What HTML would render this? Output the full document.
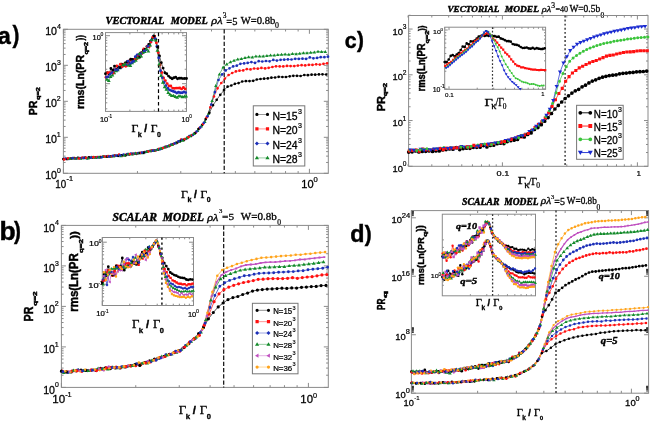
<!DOCTYPE html>
<html><head><meta charset="utf-8"><style>
html,body{margin:0;padding:0;background:#fff;overflow:hidden}
svg{display:block;will-change:transform}
</style></head><body>
<svg width="650" height="421" viewBox="0 0 650 421">
<rect width="650" height="421" fill="#fff"/>
<text x="-2.20" y="44.27" font-family="&quot;Liberation Sans&quot;, sans-serif" font-size="23.45" font-weight="bold" font-style="normal" fill="#000" stroke="#000" stroke-width="0.45">a</text>
<text x="12.40" y="43.45" font-family="&quot;Liberation Sans&quot;, sans-serif" font-size="23.10" font-weight="bold" font-style="normal" fill="#000" textLength="6.90" lengthAdjust="spacingAndGlyphs" stroke="#000" stroke-width="0.45">)</text>
<text x="105.57" y="24.44" font-family="&quot;Liberation Serif&quot;, serif" font-size="10.96" font-weight="bold" font-style="italic" fill="#000" textLength="58.90" lengthAdjust="spacingAndGlyphs" stroke="#000" stroke-width="0.45">VECTORIAL</text>
<text x="170.85" y="24.49" font-family="&quot;Liberation Serif&quot;, serif" font-size="11.04" font-weight="bold" font-style="italic" fill="#000" textLength="37.02" lengthAdjust="spacingAndGlyphs" stroke="#000" stroke-width="0.45">MODEL</text>
<text x="211.31" y="24.33" font-family="&quot;Liberation Serif&quot;, serif" font-size="10.54" font-weight="normal" font-style="italic" fill="#000" textLength="11.34" lengthAdjust="spacingAndGlyphs" stroke="#000" stroke-width="0.30">ρλ</text>
<text x="222.83" y="18.23" font-family="&quot;Liberation Serif&quot;, serif" font-size="7.46" font-weight="normal" font-style="normal" fill="#000" stroke="#000" stroke-width="0.22">3</text>
<text x="226.28" y="24.59" font-family="&quot;Liberation Serif&quot;, serif" font-size="11.28" font-weight="normal" font-style="normal" fill="#000" textLength="11.13" lengthAdjust="spacingAndGlyphs" stroke="#000" stroke-width="0.30">=5</text>
<text x="240.80" y="23.84" font-family="&quot;Liberation Serif&quot;, serif" font-size="10.42" font-weight="normal" font-style="normal" fill="#000" textLength="34.50" lengthAdjust="spacingAndGlyphs" stroke="#000" stroke-width="0.30">W=0.8b</text>
<text x="274.99" y="27.82" font-family="&quot;Liberation Serif&quot;, serif" font-size="7.85" font-weight="normal" font-style="normal" fill="#000" stroke="#000" stroke-width="0.24">0</text>
<path d="M63.40 173.30v-4.5M63.40 29.30v4.5M309.40 173.30v-4.5M309.40 29.30v4.5M137.45 173.30v-2.2M137.45 29.30v2.2M180.77 173.30v-2.2M180.77 29.30v2.2M211.51 173.30v-2.2M211.51 29.30v2.2M235.35 173.30v-2.2M235.35 29.30v2.2M254.83 173.30v-2.2M254.83 29.30v2.2M271.29 173.30v-2.2M271.29 29.30v2.2M285.56 173.30v-2.2M285.56 29.30v2.2M298.14 173.30v-2.2M298.14 29.30v2.2M63.40 173.30h4.5M328.30 173.30h-4.5M63.40 137.30h4.5M328.30 137.30h-4.5M63.40 101.30h4.5M328.30 101.30h-4.5M63.40 65.30h4.5M328.30 65.30h-4.5M63.40 29.30h4.5M328.30 29.30h-4.5M63.40 162.46h2.2M328.30 162.46h-2.2M63.40 156.12h2.2M328.30 156.12h-2.2M63.40 151.63h2.2M328.30 151.63h-2.2M63.40 148.14h2.2M328.30 148.14h-2.2M63.40 145.29h2.2M328.30 145.29h-2.2M63.40 142.88h2.2M328.30 142.88h-2.2M63.40 140.79h2.2M328.30 140.79h-2.2M63.40 138.95h2.2M328.30 138.95h-2.2M63.40 126.46h2.2M328.30 126.46h-2.2M63.40 120.12h2.2M328.30 120.12h-2.2M63.40 115.63h2.2M328.30 115.63h-2.2M63.40 112.14h2.2M328.30 112.14h-2.2M63.40 109.29h2.2M328.30 109.29h-2.2M63.40 106.88h2.2M328.30 106.88h-2.2M63.40 104.79h2.2M328.30 104.79h-2.2M63.40 102.95h2.2M328.30 102.95h-2.2M63.40 90.46h2.2M328.30 90.46h-2.2M63.40 84.12h2.2M328.30 84.12h-2.2M63.40 79.63h2.2M328.30 79.63h-2.2M63.40 76.14h2.2M328.30 76.14h-2.2M63.40 73.29h2.2M328.30 73.29h-2.2M63.40 70.88h2.2M328.30 70.88h-2.2M63.40 68.79h2.2M328.30 68.79h-2.2M63.40 66.95h2.2M328.30 66.95h-2.2M63.40 54.46h2.2M328.30 54.46h-2.2M63.40 48.12h2.2M328.30 48.12h-2.2M63.40 43.63h2.2M328.30 43.63h-2.2M63.40 40.14h2.2M328.30 40.14h-2.2M63.40 37.29h2.2M328.30 37.29h-2.2M63.40 34.88h2.2M328.30 34.88h-2.2M63.40 32.79h2.2M328.30 32.79h-2.2M63.40 30.95h2.2M328.30 30.95h-2.2" stroke="#8a8a8a" stroke-width="1" fill="none"/>
<rect x="63.40" y="29.30" width="264.90" height="144.00" stroke="#8a8a8a" stroke-width="1" fill="none"/>
<text x="45.20" y="179.49" font-family="&quot;Liberation Sans&quot;, sans-serif" font-size="11.41" font-weight="normal" font-style="normal" fill="#000" textLength="11.85" lengthAdjust="spacingAndGlyphs" stroke="#000" stroke-width="0.30">10</text>
<text x="56.92" y="172.93" font-family="&quot;Liberation Sans&quot;, sans-serif" font-size="6.90" font-weight="normal" font-style="normal" fill="#000" stroke="#000" stroke-width="0.21">0</text>
<text x="45.20" y="143.49" font-family="&quot;Liberation Sans&quot;, sans-serif" font-size="11.41" font-weight="normal" font-style="normal" fill="#000" textLength="11.85" lengthAdjust="spacingAndGlyphs" stroke="#000" stroke-width="0.30">10</text>
<text x="56.67" y="137.00" font-family="&quot;Liberation Sans&quot;, sans-serif" font-size="7.10" font-weight="normal" font-style="normal" fill="#000" stroke="#000" stroke-width="0.21">1</text>
<text x="45.20" y="107.49" font-family="&quot;Liberation Sans&quot;, sans-serif" font-size="11.41" font-weight="normal" font-style="normal" fill="#000" textLength="11.85" lengthAdjust="spacingAndGlyphs" stroke="#000" stroke-width="0.30">10</text>
<text x="56.85" y="101.00" font-family="&quot;Liberation Sans&quot;, sans-serif" font-size="7.00" font-weight="normal" font-style="normal" fill="#000" stroke="#000" stroke-width="0.21">2</text>
<text x="45.20" y="71.49" font-family="&quot;Liberation Sans&quot;, sans-serif" font-size="11.41" font-weight="normal" font-style="normal" fill="#000" textLength="11.85" lengthAdjust="spacingAndGlyphs" stroke="#000" stroke-width="0.30">10</text>
<text x="56.92" y="64.93" font-family="&quot;Liberation Sans&quot;, sans-serif" font-size="6.90" font-weight="normal" font-style="normal" fill="#000" stroke="#000" stroke-width="0.21">3</text>
<text x="45.20" y="35.49" font-family="&quot;Liberation Sans&quot;, sans-serif" font-size="11.41" font-weight="normal" font-style="normal" fill="#000" textLength="11.85" lengthAdjust="spacingAndGlyphs" stroke="#000" stroke-width="0.30">10</text>
<text x="57.02" y="29.00" font-family="&quot;Liberation Sans&quot;, sans-serif" font-size="7.10" font-weight="normal" font-style="normal" fill="#000" stroke="#000" stroke-width="0.21">4</text>
<text x="55.27" y="187.79" font-family="&quot;Liberation Sans&quot;, sans-serif" font-size="11.13" font-weight="normal" font-style="normal" fill="#000" textLength="10.84" lengthAdjust="spacingAndGlyphs" stroke="#000" stroke-width="0.30">10</text>
<text x="66.47" y="181.40" font-family="&quot;Liberation Sans&quot;, sans-serif" font-size="7.25" font-weight="normal" font-style="normal" fill="#000" stroke="#000" stroke-width="0.22">-1</text>
<text x="301.27" y="187.69" font-family="&quot;Liberation Sans&quot;, sans-serif" font-size="11.27" font-weight="normal" font-style="normal" fill="#000" textLength="12.30" lengthAdjust="spacingAndGlyphs" stroke="#000" stroke-width="0.30">10</text>
<text x="313.40" y="181.52" font-family="&quot;Liberation Sans&quot;, sans-serif" font-size="7.61" font-weight="normal" font-style="normal" fill="#000" stroke="#000" stroke-width="0.23">0</text>
<text transform="translate(36.60,115.17) rotate(-90)" font-family="&quot;Liberation Sans&quot;, sans-serif" font-size="11.01" font-weight="bold" font-style="normal" fill="#000" textLength="14.43" lengthAdjust="spacingAndGlyphs" stroke="#000" stroke-width="0.45">PR</text>
<text transform="translate(39.97,99.89) rotate(-90)" font-family="&quot;Liberation Sans&quot;, sans-serif" font-size="5.38" font-weight="bold" font-style="normal" fill="#000" textLength="12.79" lengthAdjust="spacingAndGlyphs" stroke="#000" stroke-width="0.45">q=2</text>
<text x="181.14" y="197.80" font-family="&quot;Liberation Serif&quot;, serif" font-size="10.99" font-weight="normal" font-style="normal" fill="#000" textLength="6.85" lengthAdjust="spacingAndGlyphs" stroke="#000" stroke-width="0.30">Γ</text>
<text x="187.40" y="202.20" font-family="&quot;Liberation Sans&quot;, sans-serif" font-size="7.17" font-weight="bold" font-style="normal" fill="#000" stroke="#000" stroke-width="0.32">k</text>
<text x="194.00" y="197.79" font-family="&quot;Liberation Sans&quot;, sans-serif" font-size="10.34" font-weight="bold" font-style="normal" fill="#000" stroke="#000" stroke-width="0.45">/</text>
<text x="200.45" y="197.80" font-family="&quot;Liberation Serif&quot;, serif" font-size="10.99" font-weight="normal" font-style="normal" fill="#000" textLength="6.74" lengthAdjust="spacingAndGlyphs" stroke="#000" stroke-width="0.30">Γ</text>
<text x="206.82" y="202.43" font-family="&quot;Liberation Sans&quot;, sans-serif" font-size="6.90" font-weight="bold" font-style="normal" fill="#000" stroke="#000" stroke-width="0.31">0</text>
<line x1="224.20" y1="29.30" x2="224.20" y2="173.30" stroke="#000" stroke-width="1.15" stroke-dasharray="4.3 1.9"/>
<path d="M63.4 159.1 L67.0 159.1 L70.7 158.5 L74.3 158.2 L78.0 157.9 L81.6 158.1 L85.3 157.6 L88.9 157.3 L92.6 157.6 L96.2 157.4 L99.9 157.3 L103.5 156.6 L107.2 156.6 L110.8 156.3 L114.5 155.5 L118.1 155.8 L121.8 155.3 L125.4 155.5 L129.1 154.4 L132.7 153.9 L136.4 153.8 L140.0 153.0 L143.7 152.7 L147.3 151.6 L151.0 151.1 L154.6 150.6 L158.3 149.7 L161.9 148.5 L165.6 146.9 L169.2 145.9 L172.9 144.3 L176.5 142.9 L180.2 141.2 L183.8 139.9 L187.5 137.8 L191.1 135.8 L194.8 133.3 L198.4 129.2 L202.1 125.1 L205.7 119.2 L209.4 112.8 L213.0 105.2 L216.7 99.8 L220.3 94.8 L224.0 90.2 L227.6 86.7 L231.3 85.5 L234.9 83.8 L238.6 83.1 L242.2 81.5 L245.9 81.1 L249.5 81.1 L253.2 80.8 L256.8 79.5 L260.5 79.0 L264.1 78.7 L267.8 78.4 L271.4 77.7 L275.1 77.5 L278.7 76.8 L282.4 77.0 L286.0 77.0 L289.7 76.3 L293.3 75.8 L297.0 75.8 L300.6 76.0 L304.3 75.0 L307.9 75.2 L311.6 74.7 L315.2 74.7 L318.9 74.4 L322.5 74.3 L326.2 74.5" stroke="#000000" stroke-width="0.6" fill="none" opacity="1.0"/>
<path d="M64.3 159.4 L68.0 158.4 L71.6 158.6 L75.3 158.4 L78.9 158.5 L82.6 157.6 L86.2 157.8 L89.9 157.5 L93.5 157.2 L97.2 157.0 L100.8 156.9 L104.5 156.7 L108.1 156.2 L111.8 156.3 L115.4 155.7 L119.1 154.5 L122.7 155.5 L126.4 154.6 L130.0 154.0 L133.7 153.9 L137.3 153.4 L141.0 152.8 L144.6 152.0 L148.3 151.6 L151.9 150.4 L155.6 150.5 L159.2 148.8 L162.9 148.1 L166.5 146.9 L170.2 145.5 L173.8 143.8 L177.5 142.5 L181.1 139.7 L184.8 139.1 L188.4 137.2 L192.1 135.0 L195.7 132.7 L199.4 128.2 L203.0 124.0 L206.7 117.3 L210.3 107.3 L214.0 96.5 L217.6 88.3 L221.3 83.0 L224.9 78.5 L228.6 75.0 L232.2 73.0 L235.9 71.4 L239.5 70.7 L243.2 70.4 L246.8 69.1 L250.5 69.4 L254.1 68.5 L257.8 68.7 L261.4 67.9 L265.1 68.4 L268.7 67.8 L272.4 67.0 L276.0 66.3 L279.7 66.4 L283.3 66.4 L287.0 65.9 L290.6 66.1 L294.3 66.1 L297.9 65.6 L301.6 65.2 L305.2 65.4 L308.9 64.8 L312.5 64.9 L316.2 64.3 L319.8 64.6 L323.5 63.8 L327.1 63.3" stroke="#ff1010" stroke-width="0.6" fill="none" opacity="1.0"/>
<path d="M65.2 158.7 L68.9 158.9 L72.5 158.2 L76.2 158.6 L79.8 158.1 L83.5 157.9 L87.1 158.4 L90.8 157.7 L94.4 157.4 L98.1 157.5 L101.7 157.3 L105.4 156.7 L109.0 156.6 L112.7 155.8 L116.3 155.7 L120.0 155.3 L123.6 154.6 L127.3 154.1 L130.9 153.7 L134.6 153.6 L138.2 153.2 L141.9 152.6 L145.5 152.1 L149.2 151.0 L152.8 150.7 L156.5 150.0 L160.1 149.2 L163.8 147.6 L167.4 146.4 L171.1 144.5 L174.7 143.4 L178.4 141.3 L182.0 139.9 L185.7 139.0 L189.3 136.2 L193.0 134.8 L196.6 131.5 L200.3 127.4 L203.9 122.8 L207.6 116.2 L211.2 104.5 L214.9 92.2 L218.5 80.0 L222.2 74.4 L225.8 70.4 L229.5 68.3 L233.1 66.4 L236.8 65.7 L240.4 63.8 L244.1 63.4 L247.7 62.9 L251.4 62.1 L255.0 62.9 L258.7 61.2 L262.3 61.5 L266.0 61.0 L269.6 61.3 L273.3 59.9 L276.9 60.6 L280.6 59.8 L284.2 59.7 L287.9 59.4 L291.5 59.5 L295.2 58.8 L298.8 58.9 L302.5 58.7 L306.1 58.9 L309.8 57.4 L313.4 58.3 L317.1 57.9 L320.7 57.2 L324.4 57.2 L328.0 56.7" stroke="#1c2fb8" stroke-width="0.6" fill="none" opacity="1.0"/>
<path d="M66.1 158.7 L69.8 158.7 L73.4 158.3 L77.1 158.4 L80.7 158.4 L84.4 158.1 L88.0 158.3 L91.7 157.3 L95.3 157.4 L99.0 157.0 L102.6 156.7 L106.3 156.6 L109.9 156.4 L113.6 156.2 L117.2 155.8 L120.9 156.0 L124.5 155.2 L128.2 154.0 L131.8 154.1 L135.5 153.4 L139.1 152.9 L142.8 152.9 L146.4 151.9 L150.1 150.7 L153.7 150.6 L157.4 149.6 L161.0 148.4 L164.7 147.3 L168.3 146.0 L172.0 144.7 L175.6 143.0 L179.3 141.6 L182.9 140.5 L186.6 138.0 L190.2 136.1 L193.9 133.8 L197.5 130.8 L201.2 126.2 L204.8 121.7 L208.5 113.5 L212.1 100.7 L215.8 85.7 L219.4 74.3 L223.1 67.4 L226.7 64.2 L230.4 62.1 L234.0 60.5 L237.7 59.3 L241.3 58.8 L245.0 57.8 L248.6 57.1 L252.3 57.2 L255.9 56.3 L259.6 56.3 L263.2 56.2 L266.9 55.8 L270.5 55.4 L274.2 55.4 L277.8 54.9 L281.5 54.6 L285.1 54.2 L288.8 54.6 L292.4 53.7 L296.1 53.9 L299.7 53.4 L303.4 53.0 L307.0 53.0 L310.7 52.6 L314.3 52.3 L318.0 51.5 L321.6 51.7 L325.3 51.7" stroke="#138a2a" stroke-width="0.6" fill="none" opacity="1.0"/>
<path d="M110.8 156.3h0M191.1 135.8h0M136.4 153.8h0M96.2 157.4h0M158.3 149.7h0M132.7 153.9h0M92.6 157.6h0M63.4 159.1h0M205.7 119.2h0" stroke="#000000" stroke-width="2.7" stroke-linecap="round" fill="none"/>
<path d="M177.5 142.5h0M122.7 155.5h0M181.1 139.7h0" stroke="#ff1010" stroke-width="2.7" stroke-linecap="round" fill="none"/>
<path d="M151.0 151.1h0M180.2 141.2h0M161.9 148.5h0M121.8 155.3h0M176.5 142.9h0M172.9 144.3h0M74.3 158.2h0" stroke="#000000" stroke-width="2.7" stroke-linecap="round" fill="none"/>
<path d="M71.6 158.6h0" stroke="#ff1010" stroke-width="2.7" stroke-linecap="round" fill="none"/>
<path d="M187.5 137.8h0" stroke="#000000" stroke-width="2.7" stroke-linecap="round" fill="none"/>
<path d="M199.4 128.2h0" stroke="#ff1010" stroke-width="2.7" stroke-linecap="round" fill="none"/>
<path d="M105.4 156.7h0" stroke="#1c2fb8" stroke-width="2.7" stroke-linecap="round" fill="none"/>
<path d="M137.3 153.4h0" stroke="#ff1010" stroke-width="2.7" stroke-linecap="round" fill="none"/>
<path d="M182.0 139.9h0" stroke="#1c2fb8" stroke-width="2.7" stroke-linecap="round" fill="none"/>
<path d="M147.3 151.6h0" stroke="#000000" stroke-width="2.7" stroke-linecap="round" fill="none"/>
<path d="M138.2 153.2h0" stroke="#1c2fb8" stroke-width="2.7" stroke-linecap="round" fill="none"/>
<path d="M126.4 154.6h0" stroke="#ff1010" stroke-width="2.7" stroke-linecap="round" fill="none"/>
<path d="M154.6 150.6h0M103.5 156.6h0M165.6 146.9h0M114.5 155.5h0M81.6 158.1h0M183.8 139.9h0" stroke="#000000" stroke-width="2.7" stroke-linecap="round" fill="none"/>
<path d="M100.8 156.9h0" stroke="#ff1010" stroke-width="2.7" stroke-linecap="round" fill="none"/>
<path d="M78.0 157.9h0M169.2 145.9h0" stroke="#000000" stroke-width="2.7" stroke-linecap="round" fill="none"/>
<path d="M75.3 158.4h0" stroke="#ff1010" stroke-width="2.7" stroke-linecap="round" fill="none"/>
<path d="M189.3 136.2h0" stroke="#1c2fb8" stroke-width="2.7" stroke-linecap="round" fill="none"/>
<path d="M84.4 156.3l1.8 3.0h-3.5zM80.7 156.7l1.8 3.0h-3.5zM179.3 139.8l1.8 3.0h-3.5zM175.6 141.2l1.8 3.0h-3.5zM139.1 151.2l1.8 3.0h-3.5z" fill="#138a2a"/>
<path d="M149.2 151.0h0" stroke="#1c2fb8" stroke-width="2.7" stroke-linecap="round" fill="none"/>
<path d="M151.9 150.4h0" stroke="#ff1010" stroke-width="2.7" stroke-linecap="round" fill="none"/>
<path d="M140.0 153.0h0M198.4 129.2h0" stroke="#000000" stroke-width="2.7" stroke-linecap="round" fill="none"/>
<path d="M170.2 145.5h0M195.7 132.7h0" stroke="#ff1010" stroke-width="2.7" stroke-linecap="round" fill="none"/>
<path d="M185.7 139.0h0M76.2 158.6h0" stroke="#1c2fb8" stroke-width="2.7" stroke-linecap="round" fill="none"/>
<path d="M106.3 154.9l1.8 3.0h-3.5z" fill="#138a2a"/>
<path d="M133.7 153.9h0" stroke="#ff1010" stroke-width="2.7" stroke-linecap="round" fill="none"/>
<path d="M77.1 156.6l1.8 3.0h-3.5z" fill="#138a2a"/>
<path d="M89.9 157.5h0" stroke="#ff1010" stroke-width="2.7" stroke-linecap="round" fill="none"/>
<path d="M94.4 157.4h0" stroke="#1c2fb8" stroke-width="2.7" stroke-linecap="round" fill="none"/>
<path d="M155.6 150.5h0" stroke="#ff1010" stroke-width="2.7" stroke-linecap="round" fill="none"/>
<path d="M153.7 148.8l1.8 3.0h-3.5zM95.3 155.7l1.8 3.0h-3.5z" fill="#138a2a"/>
<path d="M202.1 125.1h0" stroke="#000000" stroke-width="2.7" stroke-linecap="round" fill="none"/>
<path d="M182.9 138.8l1.8 3.0h-3.5z" fill="#138a2a"/>
<path d="M85.3 157.6h0" stroke="#000000" stroke-width="2.7" stroke-linecap="round" fill="none"/>
<path d="M173.8 143.8h0" stroke="#ff1010" stroke-width="2.7" stroke-linecap="round" fill="none"/>
<path d="M109.9 154.7l1.8 3.0h-3.5zM190.2 134.3l1.8 3.0h-3.5zM117.2 154.1l1.8 3.0h-3.5z" fill="#138a2a"/>
<path d="M203.0 124.0h0M115.4 155.7h0M159.2 148.8h0" stroke="#ff1010" stroke-width="2.7" stroke-linecap="round" fill="none"/>
<path d="M163.8 147.6h0" stroke="#1c2fb8" stroke-width="2.7" stroke-linecap="round" fill="none"/>
<path d="M166.5 146.9h0" stroke="#ff1010" stroke-width="2.7" stroke-linecap="round" fill="none"/>
<path d="M150.1 148.9l1.8 3.0h-3.5z" fill="#138a2a"/>
<path d="M160.1 149.2h0" stroke="#1c2fb8" stroke-width="2.7" stroke-linecap="round" fill="none"/>
<path d="M164.7 145.5l1.8 3.0h-3.5z" fill="#138a2a"/>
<path d="M141.0 152.8h0" stroke="#ff1010" stroke-width="2.7" stroke-linecap="round" fill="none"/>
<path d="M204.8 120.0l1.8 3.0h-3.5z" fill="#138a2a"/>
<path d="M118.1 155.8h0" stroke="#000000" stroke-width="2.7" stroke-linecap="round" fill="none"/>
<path d="M91.7 155.6l1.8 3.0h-3.5z" fill="#138a2a"/>
<path d="M104.5 156.7h0" stroke="#ff1010" stroke-width="2.7" stroke-linecap="round" fill="none"/>
<path d="M66.1 156.9l1.8 3.0h-3.5z" fill="#138a2a"/>
<path d="M119.1 154.5h0" stroke="#ff1010" stroke-width="2.7" stroke-linecap="round" fill="none"/>
<path d="M134.6 153.6h0" stroke="#1c2fb8" stroke-width="2.7" stroke-linecap="round" fill="none"/>
<path d="M192.1 135.0h0" stroke="#ff1010" stroke-width="2.7" stroke-linecap="round" fill="none"/>
<path d="M107.2 156.6h0M70.7 158.5h0" stroke="#000000" stroke-width="2.7" stroke-linecap="round" fill="none"/>
<path d="M120.9 154.2l1.8 3.0h-3.5z" fill="#138a2a"/>
<path d="M88.9 157.3h0" stroke="#000000" stroke-width="2.7" stroke-linecap="round" fill="none"/>
<path d="M178.4 141.3h0M90.8 157.7h0M156.5 150.0h0" stroke="#1c2fb8" stroke-width="2.7" stroke-linecap="round" fill="none"/>
<path d="M131.8 152.4l1.8 3.0h-3.5z" fill="#138a2a"/>
<path d="M99.9 157.3h0" stroke="#000000" stroke-width="2.7" stroke-linecap="round" fill="none"/>
<path d="M97.2 157.0h0" stroke="#ff1010" stroke-width="2.7" stroke-linecap="round" fill="none"/>
<path d="M194.8 133.3h0" stroke="#000000" stroke-width="2.7" stroke-linecap="round" fill="none"/>
<path d="M152.8 150.7h0" stroke="#1c2fb8" stroke-width="2.7" stroke-linecap="round" fill="none"/>
<path d="M148.3 151.6h0" stroke="#ff1010" stroke-width="2.7" stroke-linecap="round" fill="none"/>
<path d="M102.6 154.9l1.8 3.0h-3.5z" fill="#138a2a"/>
<path d="M79.8 158.1h0" stroke="#1c2fb8" stroke-width="2.7" stroke-linecap="round" fill="none"/>
<path d="M67.0 159.1h0" stroke="#000000" stroke-width="2.7" stroke-linecap="round" fill="none"/>
<path d="M127.3 154.1h0" stroke="#1c2fb8" stroke-width="2.7" stroke-linecap="round" fill="none"/>
<path d="M144.6 152.0h0M184.8 139.1h0" stroke="#ff1010" stroke-width="2.7" stroke-linecap="round" fill="none"/>
<path d="M167.4 146.4h0M68.9 158.9h0" stroke="#1c2fb8" stroke-width="2.7" stroke-linecap="round" fill="none"/>
<path d="M82.6 157.6h0" stroke="#ff1010" stroke-width="2.7" stroke-linecap="round" fill="none"/>
<path d="M98.1 157.5h0" stroke="#1c2fb8" stroke-width="2.7" stroke-linecap="round" fill="none"/>
<path d="M142.8 151.2l1.8 3.0h-3.5z" fill="#138a2a"/>
<path d="M78.9 158.5h0" stroke="#ff1010" stroke-width="2.7" stroke-linecap="round" fill="none"/>
<path d="M130.9 153.7h0" stroke="#1c2fb8" stroke-width="2.7" stroke-linecap="round" fill="none"/>
<path d="M129.1 154.4h0" stroke="#000000" stroke-width="2.7" stroke-linecap="round" fill="none"/>
<path d="M145.5 152.1h0M87.1 158.4h0M193.0 134.8h0" stroke="#1c2fb8" stroke-width="2.7" stroke-linecap="round" fill="none"/>
<path d="M146.4 150.1l1.8 3.0h-3.5z" fill="#138a2a"/>
<path d="M143.7 152.7h0" stroke="#000000" stroke-width="2.7" stroke-linecap="round" fill="none"/>
<path d="M162.9 148.1h0" stroke="#ff1010" stroke-width="2.7" stroke-linecap="round" fill="none"/>
<path d="M125.4 155.5h0" stroke="#000000" stroke-width="2.7" stroke-linecap="round" fill="none"/>
<path d="M174.7 143.4h0" stroke="#1c2fb8" stroke-width="2.7" stroke-linecap="round" fill="none"/>
<path d="M128.2 152.3l1.8 3.0h-3.5z" fill="#138a2a"/>
<path d="M171.1 144.5h0" stroke="#1c2fb8" stroke-width="2.7" stroke-linecap="round" fill="none"/>
<path d="M130.0 154.0h0" stroke="#ff1010" stroke-width="2.7" stroke-linecap="round" fill="none"/>
<path d="M135.5 151.6l1.8 3.0h-3.5z" fill="#138a2a"/>
<path d="M93.5 157.2h0" stroke="#ff1010" stroke-width="2.7" stroke-linecap="round" fill="none"/>
<path d="M161.0 146.6l1.8 3.0h-3.5z" fill="#138a2a"/>
<path d="M111.8 156.3h0M68.0 158.4h0" stroke="#ff1010" stroke-width="2.7" stroke-linecap="round" fill="none"/>
<path d="M113.6 154.4l1.8 3.0h-3.5zM201.2 124.5l1.8 3.0h-3.5z" fill="#138a2a"/>
<path d="M108.1 156.2h0" stroke="#ff1010" stroke-width="2.7" stroke-linecap="round" fill="none"/>
<path d="M120.0 155.3h0" stroke="#1c2fb8" stroke-width="2.7" stroke-linecap="round" fill="none"/>
<path d="M86.2 157.8h0" stroke="#ff1010" stroke-width="2.7" stroke-linecap="round" fill="none"/>
<path d="M65.2 158.7h0" stroke="#1c2fb8" stroke-width="2.7" stroke-linecap="round" fill="none"/>
<path d="M168.3 144.2l1.8 3.0h-3.5z" fill="#138a2a"/>
<path d="M109.0 156.6h0" stroke="#1c2fb8" stroke-width="2.7" stroke-linecap="round" fill="none"/>
<path d="M99.0 155.2l1.8 3.0h-3.5z" fill="#138a2a"/>
<path d="M203.9 122.8h0M200.3 127.4h0M123.6 154.6h0" stroke="#1c2fb8" stroke-width="2.7" stroke-linecap="round" fill="none"/>
<path d="M206.7 117.3h0" stroke="#ff1010" stroke-width="2.7" stroke-linecap="round" fill="none"/>
<path d="M207.6 116.2h0" stroke="#1c2fb8" stroke-width="2.7" stroke-linecap="round" fill="none"/>
<path d="M188.4 137.2h0" stroke="#ff1010" stroke-width="2.7" stroke-linecap="round" fill="none"/>
<path d="M112.7 155.8h0" stroke="#1c2fb8" stroke-width="2.7" stroke-linecap="round" fill="none"/>
<path d="M64.3 159.4h0" stroke="#ff1010" stroke-width="2.7" stroke-linecap="round" fill="none"/>
<path d="M73.4 156.5l1.8 3.0h-3.5zM197.5 129.1l1.8 3.0h-3.5z" fill="#138a2a"/>
<path d="M72.5 158.2h0M196.6 131.5h0M141.9 152.6h0" stroke="#1c2fb8" stroke-width="2.7" stroke-linecap="round" fill="none"/>
<path d="M193.9 132.1l1.8 3.0h-3.5zM124.5 153.4l1.8 3.0h-3.5zM186.6 136.3l1.8 3.0h-3.5z" fill="#138a2a"/>
<path d="M116.3 155.7h0" stroke="#1c2fb8" stroke-width="2.7" stroke-linecap="round" fill="none"/>
<path d="M88.0 156.5l1.8 3.0h-3.5z" fill="#138a2a"/>
<path d="M83.5 157.9h0M101.7 157.3h0" stroke="#1c2fb8" stroke-width="2.7" stroke-linecap="round" fill="none"/>
<path d="M172.0 142.9l1.8 3.0h-3.5zM69.8 156.9l1.8 3.0h-3.5zM157.4 147.8l1.8 3.0h-3.5zM208.5 111.8l1.8 3.0h-3.5z" fill="#138a2a"/>
<path d="M209.4 112.8h0M213.0 105.2h0M216.7 99.8h0M220.3 94.8h0M224.0 90.2h0M227.6 86.7h0M231.3 85.5h0M234.9 83.8h0M238.6 83.1h0M242.2 81.5h0M245.9 81.1h0M249.5 81.1h0M253.2 80.8h0M256.8 79.5h0M260.5 79.0h0M264.1 78.7h0M267.8 78.4h0M271.4 77.7h0M275.1 77.5h0M278.7 76.8h0M282.4 77.0h0M286.0 77.0h0M289.7 76.3h0M293.3 75.8h0M297.0 75.8h0M300.6 76.0h0M304.3 75.0h0M307.9 75.2h0M311.6 74.7h0M315.2 74.7h0M318.9 74.4h0M322.5 74.3h0M326.2 74.5h0" stroke="#000000" stroke-width="2.7" stroke-linecap="round" fill="none"/>
<path d="M210.3 107.3h0M214.0 96.5h0M217.6 88.3h0M221.3 83.0h0M224.9 78.5h0M228.6 75.0h0M232.2 73.0h0M235.9 71.4h0M239.5 70.7h0M243.2 70.4h0M246.8 69.1h0M250.5 69.4h0M254.1 68.5h0M257.8 68.7h0M261.4 67.9h0M265.1 68.4h0M268.7 67.8h0M272.4 67.0h0M276.0 66.3h0M279.7 66.4h0M283.3 66.4h0M287.0 65.9h0M290.6 66.1h0M294.3 66.1h0M297.9 65.6h0M301.6 65.2h0M305.2 65.4h0M308.9 64.8h0M312.5 64.9h0M316.2 64.3h0M319.8 64.6h0M323.5 63.8h0M327.1 63.3h0" stroke="#ff1010" stroke-width="2.7" stroke-linecap="round" fill="none"/>
<path d="M211.2 104.5h0M214.9 92.2h0M218.5 80.0h0M222.2 74.4h0M225.8 70.4h0M229.5 68.3h0M233.1 66.4h0M236.8 65.7h0M240.4 63.8h0M244.1 63.4h0M247.7 62.9h0M251.4 62.1h0M255.0 62.9h0M258.7 61.2h0M262.3 61.5h0M266.0 61.0h0M269.6 61.3h0M273.3 59.9h0M276.9 60.6h0M280.6 59.8h0M284.2 59.7h0M287.9 59.4h0M291.5 59.5h0M295.2 58.8h0M298.8 58.9h0M302.5 58.7h0M306.1 58.9h0M309.8 57.4h0M313.4 58.3h0M317.1 57.9h0M320.7 57.2h0M324.4 57.2h0M328.0 56.7h0" stroke="#1c2fb8" stroke-width="2.7" stroke-linecap="round" fill="none"/>
<path d="M212.1 99.0l1.8 3.0h-3.5zM215.8 83.9l1.8 3.0h-3.5zM219.4 72.6l1.8 3.0h-3.5zM223.1 65.6l1.8 3.0h-3.5zM226.7 62.5l1.8 3.0h-3.5zM230.4 60.3l1.8 3.0h-3.5zM234.0 58.7l1.8 3.0h-3.5zM237.7 57.6l1.8 3.0h-3.5zM241.3 57.1l1.8 3.0h-3.5zM245.0 56.0l1.8 3.0h-3.5zM248.6 55.3l1.8 3.0h-3.5zM252.3 55.4l1.8 3.0h-3.5zM255.9 54.5l1.8 3.0h-3.5zM259.6 54.6l1.8 3.0h-3.5zM263.2 54.5l1.8 3.0h-3.5zM266.9 54.0l1.8 3.0h-3.5zM270.5 53.6l1.8 3.0h-3.5zM274.2 53.6l1.8 3.0h-3.5zM277.8 53.1l1.8 3.0h-3.5zM281.5 52.8l1.8 3.0h-3.5zM285.1 52.4l1.8 3.0h-3.5zM288.8 52.8l1.8 3.0h-3.5zM292.4 52.0l1.8 3.0h-3.5zM296.1 52.2l1.8 3.0h-3.5zM299.7 51.7l1.8 3.0h-3.5zM303.4 51.2l1.8 3.0h-3.5zM307.0 51.2l1.8 3.0h-3.5zM310.7 50.8l1.8 3.0h-3.5zM314.3 50.5l1.8 3.0h-3.5zM318.0 49.8l1.8 3.0h-3.5zM321.6 49.9l1.8 3.0h-3.5zM325.3 49.9l1.8 3.0h-3.5z" fill="#138a2a"/>
<rect x="105.50" y="32.60" width="81.00" height="78.80" stroke="none" stroke-width="0" fill="#fff"/>
<path d="M105.50 111.40v-4.5M105.50 32.60v4.5M186.50 111.40v-4.5M186.50 32.60v4.5M129.88 111.40v-1.8M129.88 32.60v1.8M144.15 111.40v-1.8M144.15 32.60v1.8M154.27 111.40v-1.8M154.27 32.60v1.8M162.12 111.40v-1.8M162.12 32.60v1.8M168.53 111.40v-1.8M168.53 32.60v1.8M173.95 111.40v-1.8M173.95 32.60v1.8M178.65 111.40v-1.8M178.65 32.60v1.8M182.79 111.40v-1.8M182.79 32.60v1.8M105.50 83.70h4.5M186.50 83.70h-4.5M105.50 35.70h4.5M186.50 35.70h-4.5M105.50 108.80h1.8M186.50 108.80h-1.8M105.50 102.80h1.8M186.50 102.80h-1.8M105.50 98.15h1.8M186.50 98.15h-1.8M105.50 94.35h1.8M186.50 94.35h-1.8M105.50 91.14h1.8M186.50 91.14h-1.8M105.50 88.35h1.8M186.50 88.35h-1.8M105.50 85.90h1.8M186.50 85.90h-1.8M105.50 69.25h1.8M186.50 69.25h-1.8M105.50 60.80h1.8M186.50 60.80h-1.8M105.50 54.80h1.8M186.50 54.80h-1.8M105.50 50.15h1.8M186.50 50.15h-1.8M105.50 46.35h1.8M186.50 46.35h-1.8M105.50 43.14h1.8M186.50 43.14h-1.8M105.50 40.35h1.8M186.50 40.35h-1.8M105.50 37.90h1.8M186.50 37.90h-1.8" stroke="#8a8a8a" stroke-width="1" fill="none"/>
<rect x="105.50" y="32.60" width="81.00" height="78.80" stroke="#8a8a8a" stroke-width="1" fill="none"/>
<line x1="158.50" y1="32.60" x2="158.50" y2="111.40" stroke="#000" stroke-width="1.2" stroke-dasharray="3.6 2.7"/>
<path d="M105.5 73.8 L107.3 72.6 L109.1 73.9 L110.9 68.5 L112.7 70.3 L114.5 66.1 L116.3 69.5 L118.1 67.0 L119.9 67.6 L121.7 64.1 L123.5 64.6 L125.3 63.0 L127.1 61.7 L128.9 62.2 L130.7 59.3 L132.5 59.5 L134.3 59.6 L136.1 57.3 L137.9 55.1 L139.7 57.2 L141.5 52.6 L143.3 50.1 L145.1 49.4 L146.9 46.6 L148.7 44.5 L150.5 41.1 L152.3 38.6 L154.1 36.1 L155.9 39.6 L157.7 47.1 L159.5 56.0 L161.3 62.8 L163.1 68.1 L164.9 72.8 L166.7 73.7 L168.5 76.1 L170.3 77.6 L172.1 78.7 L173.9 77.7 L175.7 77.3 L177.5 78.7 L179.3 78.2 L181.1 78.2 L182.9 78.6 L184.7 78.5 L186.5 78.5" stroke="#000000" stroke-width="0.6" fill="none" opacity="1.0"/>
<path d="M106.0 77.3 L107.8 72.7 L109.6 72.7 L111.4 72.6 L113.2 73.1 L115.0 69.6 L116.8 65.9 L118.6 67.4 L120.4 64.2 L122.2 66.8 L124.0 64.1 L125.8 66.3 L127.6 63.0 L129.4 61.0 L131.2 59.4 L133.0 59.8 L134.8 59.5 L136.6 59.1 L138.4 56.2 L140.2 53.1 L142.0 53.3 L143.8 49.0 L145.6 49.9 L147.4 46.2 L149.2 46.8 L151.0 42.1 L152.8 37.3 L154.6 36.1 L156.4 42.8 L158.2 52.5 L160.0 64.9 L161.8 72.5 L163.6 78.0 L165.4 80.6 L167.2 83.6 L169.0 86.0 L170.8 86.0 L172.6 88.1 L174.4 88.4 L176.2 88.1 L178.0 88.1 L179.8 88.0 L181.6 88.9 L183.4 87.5 L185.2 88.9" stroke="#ff1010" stroke-width="0.6" fill="none" opacity="1.0"/>
<path d="M106.5 77.3 L108.3 76.8 L110.1 74.2 L111.9 72.6 L113.7 70.3 L115.5 69.8 L117.3 70.2 L119.1 67.9 L120.9 67.8 L122.7 65.9 L124.5 65.5 L126.3 64.6 L128.1 61.3 L129.9 64.0 L131.7 62.5 L133.5 61.2 L135.3 56.7 L137.1 55.0 L138.9 54.6 L140.7 53.6 L142.5 53.1 L144.3 50.9 L146.1 49.9 L147.9 46.2 L149.7 44.5 L151.5 40.3 L153.3 36.3 L155.1 38.4 L156.9 46.5 L158.7 57.8 L160.5 70.8 L162.3 77.6 L164.1 82.4 L165.9 85.6 L167.7 88.3 L169.5 89.9 L171.3 90.6 L173.1 91.2 L174.9 91.9 L176.7 93.0 L178.5 92.3 L180.3 92.7 L182.1 92.8 L183.9 92.0 L185.7 92.6" stroke="#1c2fb8" stroke-width="0.6" fill="none" opacity="1.0"/>
<path d="M107.0 79.4 L108.8 80.6 L110.6 76.8 L112.4 75.2 L114.2 72.9 L116.0 71.0 L117.8 70.0 L119.6 67.8 L121.4 65.9 L123.2 64.9 L125.0 63.9 L126.8 65.3 L128.6 65.1 L130.4 65.7 L132.2 63.0 L134.0 61.3 L135.8 60.4 L137.6 57.9 L139.4 53.6 L141.2 56.1 L143.0 52.4 L144.8 51.6 L146.6 49.0 L148.4 51.3 L150.2 45.1 L152.0 39.5 L153.8 35.7 L155.6 40.3 L157.4 50.3 L159.2 64.2 L161.0 75.6 L162.8 82.4 L164.6 86.9 L166.4 89.5 L168.2 92.5 L170.0 94.4 L171.8 95.6 L173.6 95.7 L175.4 96.6 L177.2 97.5 L179.0 96.0 L180.8 96.3 L182.6 96.8 L184.4 96.4 L186.2 96.1" stroke="#138a2a" stroke-width="0.6" fill="none" opacity="1.0"/>
<path d="M152.3 38.6h0M134.3 59.6h0M116.3 69.5h0M125.3 63.0h0M150.5 41.1h0M146.9 46.6h0M143.3 50.1h0" stroke="#000000" stroke-width="2.9" stroke-linecap="round" fill="none"/>
<path d="M140.2 53.1h0" stroke="#ff1010" stroke-width="2.9" stroke-linecap="round" fill="none"/>
<path d="M155.9 39.6h0M136.1 57.3h0" stroke="#000000" stroke-width="2.9" stroke-linecap="round" fill="none"/>
<path d="M156.4 42.8h0M134.8 59.5h0" stroke="#ff1010" stroke-width="2.9" stroke-linecap="round" fill="none"/>
<path d="M128.9 62.2h0M137.9 55.1h0" stroke="#000000" stroke-width="2.9" stroke-linecap="round" fill="none"/>
<path d="M133.0 59.8h0M131.2 59.4h0" stroke="#ff1010" stroke-width="2.9" stroke-linecap="round" fill="none"/>
<path d="M120.9 67.8h0M113.7 70.3h0M108.3 76.8h0M149.7 44.5h0" stroke="#1c2fb8" stroke-width="2.9" stroke-linecap="round" fill="none"/>
<path d="M118.6 67.4h0" stroke="#ff1010" stroke-width="2.9" stroke-linecap="round" fill="none"/>
<path d="M122.7 65.9h0" stroke="#1c2fb8" stroke-width="2.9" stroke-linecap="round" fill="none"/>
<path d="M106.0 77.3h0" stroke="#ff1010" stroke-width="2.9" stroke-linecap="round" fill="none"/>
<path d="M153.3 36.3h0M142.5 53.1h0" stroke="#1c2fb8" stroke-width="2.9" stroke-linecap="round" fill="none"/>
<path d="M111.4 72.6h0M127.6 63.0h0" stroke="#ff1010" stroke-width="2.9" stroke-linecap="round" fill="none"/>
<path d="M118.1 67.0h0" stroke="#000000" stroke-width="2.9" stroke-linecap="round" fill="none"/>
<path d="M136.6 59.1h0" stroke="#ff1010" stroke-width="2.9" stroke-linecap="round" fill="none"/>
<path d="M127.1 61.7h0" stroke="#000000" stroke-width="2.9" stroke-linecap="round" fill="none"/>
<path d="M145.6 49.9h0M151.0 42.1h0M143.8 49.0h0" stroke="#ff1010" stroke-width="2.9" stroke-linecap="round" fill="none"/>
<path d="M124.5 65.5h0" stroke="#1c2fb8" stroke-width="2.9" stroke-linecap="round" fill="none"/>
<path d="M129.4 61.0h0" stroke="#ff1010" stroke-width="2.9" stroke-linecap="round" fill="none"/>
<path d="M128.1 61.3h0" stroke="#1c2fb8" stroke-width="2.9" stroke-linecap="round" fill="none"/>
<path d="M148.4 49.4l1.9 3.2h-3.8z" fill="#138a2a"/>
<path d="M130.7 59.3h0" stroke="#000000" stroke-width="2.9" stroke-linecap="round" fill="none"/>
<path d="M128.6 63.2l1.9 3.2h-3.8zM144.8 49.7l1.9 3.2h-3.8z" fill="#138a2a"/>
<path d="M132.5 59.5h0" stroke="#000000" stroke-width="2.9" stroke-linecap="round" fill="none"/>
<path d="M119.6 66.0l1.9 3.2h-3.8z" fill="#138a2a"/>
<path d="M148.7 44.5h0M105.5 73.8h0" stroke="#000000" stroke-width="2.9" stroke-linecap="round" fill="none"/>
<path d="M153.8 33.9l1.9 3.2h-3.8z" fill="#138a2a"/>
<path d="M149.2 46.8h0M152.8 37.3h0" stroke="#ff1010" stroke-width="2.9" stroke-linecap="round" fill="none"/>
<path d="M121.4 64.0l1.9 3.2h-3.8z" fill="#138a2a"/>
<path d="M121.7 64.1h0" stroke="#000000" stroke-width="2.9" stroke-linecap="round" fill="none"/>
<path d="M126.8 63.4l1.9 3.2h-3.8z" fill="#138a2a"/>
<path d="M155.1 38.4h0" stroke="#1c2fb8" stroke-width="2.9" stroke-linecap="round" fill="none"/>
<path d="M117.8 68.1l1.9 3.2h-3.8z" fill="#138a2a"/>
<path d="M135.3 56.7h0M137.1 55.0h0M117.3 70.2h0" stroke="#1c2fb8" stroke-width="2.9" stroke-linecap="round" fill="none"/>
<path d="M115.0 69.6h0" stroke="#ff1010" stroke-width="2.9" stroke-linecap="round" fill="none"/>
<path d="M135.8 58.5l1.9 3.2h-3.8z" fill="#138a2a"/>
<path d="M112.7 70.3h0M107.3 72.6h0M141.5 52.6h0" stroke="#000000" stroke-width="2.9" stroke-linecap="round" fill="none"/>
<path d="M138.4 56.2h0" stroke="#ff1010" stroke-width="2.9" stroke-linecap="round" fill="none"/>
<path d="M109.1 73.9h0M145.1 49.4h0" stroke="#000000" stroke-width="2.9" stroke-linecap="round" fill="none"/>
<path d="M114.2 71.1l1.9 3.2h-3.8zM116.0 69.1l1.9 3.2h-3.8zM108.8 78.7l1.9 3.2h-3.8z" fill="#138a2a"/>
<path d="M116.8 65.9h0M142.0 53.3h0M122.2 66.8h0" stroke="#ff1010" stroke-width="2.9" stroke-linecap="round" fill="none"/>
<path d="M138.9 54.6h0" stroke="#1c2fb8" stroke-width="2.9" stroke-linecap="round" fill="none"/>
<path d="M154.6 36.1h0" stroke="#ff1010" stroke-width="2.9" stroke-linecap="round" fill="none"/>
<path d="M154.1 36.1h0M123.5 64.6h0" stroke="#000000" stroke-width="2.9" stroke-linecap="round" fill="none"/>
<path d="M134.0 59.5l1.9 3.2h-3.8z" fill="#138a2a"/>
<path d="M119.1 67.9h0" stroke="#1c2fb8" stroke-width="2.9" stroke-linecap="round" fill="none"/>
<path d="M139.7 57.2h0" stroke="#000000" stroke-width="2.9" stroke-linecap="round" fill="none"/>
<path d="M143.0 50.5l1.9 3.2h-3.8z" fill="#138a2a"/>
<path d="M114.5 66.1h0M110.9 68.5h0M119.9 67.6h0" stroke="#000000" stroke-width="2.9" stroke-linecap="round" fill="none"/>
<path d="M156.9 46.5h0" stroke="#1c2fb8" stroke-width="2.9" stroke-linecap="round" fill="none"/>
<path d="M141.2 54.3l1.9 3.2h-3.8z" fill="#138a2a"/>
<path d="M147.4 46.2h0" stroke="#ff1010" stroke-width="2.9" stroke-linecap="round" fill="none"/>
<path d="M150.2 43.2l1.9 3.2h-3.8zM132.2 61.1l1.9 3.2h-3.8z" fill="#138a2a"/>
<path d="M109.6 72.7h0" stroke="#ff1010" stroke-width="2.9" stroke-linecap="round" fill="none"/>
<path d="M112.4 73.3l1.9 3.2h-3.8z" fill="#138a2a"/>
<path d="M125.8 66.3h0" stroke="#ff1010" stroke-width="2.9" stroke-linecap="round" fill="none"/>
<path d="M144.3 50.9h0M110.1 74.2h0M129.9 64.0h0" stroke="#1c2fb8" stroke-width="2.9" stroke-linecap="round" fill="none"/>
<path d="M137.6 56.0l1.9 3.2h-3.8z" fill="#138a2a"/>
<path d="M120.4 64.2h0" stroke="#ff1010" stroke-width="2.9" stroke-linecap="round" fill="none"/>
<path d="M140.7 53.6h0M115.5 69.8h0" stroke="#1c2fb8" stroke-width="2.9" stroke-linecap="round" fill="none"/>
<path d="M113.2 73.1h0" stroke="#ff1010" stroke-width="2.9" stroke-linecap="round" fill="none"/>
<path d="M146.1 49.9h0" stroke="#1c2fb8" stroke-width="2.9" stroke-linecap="round" fill="none"/>
<path d="M124.0 64.1h0M107.8 72.7h0" stroke="#ff1010" stroke-width="2.9" stroke-linecap="round" fill="none"/>
<path d="M111.9 72.6h0" stroke="#1c2fb8" stroke-width="2.9" stroke-linecap="round" fill="none"/>
<path d="M123.2 63.0l1.9 3.2h-3.8z" fill="#138a2a"/>
<path d="M147.9 46.2h0" stroke="#1c2fb8" stroke-width="2.9" stroke-linecap="round" fill="none"/>
<path d="M155.6 38.4l1.9 3.2h-3.8z" fill="#138a2a"/>
<path d="M131.7 62.5h0M133.5 61.2h0M151.5 40.3h0M126.3 64.6h0M106.5 77.3h0" stroke="#1c2fb8" stroke-width="2.9" stroke-linecap="round" fill="none"/>
<path d="M139.4 51.7l1.9 3.2h-3.8zM152.0 37.7l1.9 3.2h-3.8zM146.6 47.1l1.9 3.2h-3.8zM107.0 77.5l1.9 3.2h-3.8zM110.6 74.9l1.9 3.2h-3.8zM130.4 63.8l1.9 3.2h-3.8zM125.0 62.0l1.9 3.2h-3.8z" fill="#138a2a"/>
<path d="M157.7 47.1h0M159.5 56.0h0M161.3 62.8h0M163.1 68.1h0M164.9 72.8h0M166.7 73.7h0M168.5 76.1h0M170.3 77.6h0M172.1 78.7h0M173.9 77.7h0M175.7 77.3h0M177.5 78.7h0M179.3 78.2h0M181.1 78.2h0M182.9 78.6h0M184.7 78.5h0M186.5 78.5h0" stroke="#000000" stroke-width="2.9" stroke-linecap="round" fill="none"/>
<path d="M158.2 52.5h0M160.0 64.9h0M161.8 72.5h0M163.6 78.0h0M165.4 80.6h0M167.2 83.6h0M169.0 86.0h0M170.8 86.0h0M172.6 88.1h0M174.4 88.4h0M176.2 88.1h0M178.0 88.1h0M179.8 88.0h0M181.6 88.9h0M183.4 87.5h0M185.2 88.9h0" stroke="#ff1010" stroke-width="2.9" stroke-linecap="round" fill="none"/>
<path d="M158.7 57.8h0M160.5 70.8h0M162.3 77.6h0M164.1 82.4h0M165.9 85.6h0M167.7 88.3h0M169.5 89.9h0M171.3 90.6h0M173.1 91.2h0M174.9 91.9h0M176.7 93.0h0M178.5 92.3h0M180.3 92.7h0M182.1 92.8h0M183.9 92.0h0M185.7 92.6h0" stroke="#1c2fb8" stroke-width="2.9" stroke-linecap="round" fill="none"/>
<path d="M157.4 48.5l1.9 3.2h-3.8zM159.2 62.3l1.9 3.2h-3.8zM161.0 73.7l1.9 3.2h-3.8zM162.8 80.5l1.9 3.2h-3.8zM164.6 85.0l1.9 3.2h-3.8zM166.4 87.6l1.9 3.2h-3.8zM168.2 90.7l1.9 3.2h-3.8zM170.0 92.5l1.9 3.2h-3.8zM171.8 93.7l1.9 3.2h-3.8zM173.6 93.8l1.9 3.2h-3.8zM175.4 94.8l1.9 3.2h-3.8zM177.2 95.6l1.9 3.2h-3.8zM179.0 94.1l1.9 3.2h-3.8zM180.8 94.4l1.9 3.2h-3.8zM182.6 95.0l1.9 3.2h-3.8zM184.4 94.5l1.9 3.2h-3.8zM186.2 94.2l1.9 3.2h-3.8z" fill="#138a2a"/>
<text x="92.54" y="39.83" font-family="&quot;Liberation Sans&quot;, sans-serif" font-size="7.04" font-weight="normal" font-style="normal" fill="#000" textLength="8.27" lengthAdjust="spacingAndGlyphs" stroke="#000" stroke-width="0.21">10</text>
<text x="100.50" y="35.55" font-family="&quot;Liberation Sans&quot;, sans-serif" font-size="5.07" font-weight="normal" font-style="normal" fill="#000" stroke="#000" stroke-width="0.15">0</text>
<text x="99.93" y="122.03" font-family="&quot;Liberation Sans&quot;, sans-serif" font-size="7.46" font-weight="normal" font-style="normal" fill="#000" textLength="8.38" lengthAdjust="spacingAndGlyphs" stroke="#000" stroke-width="0.22">10</text>
<text x="107.99" y="117.60" font-family="&quot;Liberation Sans&quot;, sans-serif" font-size="4.64" font-weight="normal" font-style="normal" fill="#000" stroke="#000" stroke-width="0.14">-1</text>
<text x="181.47" y="122.03" font-family="&quot;Liberation Sans&quot;, sans-serif" font-size="7.18" font-weight="normal" font-style="normal" fill="#000" textLength="7.83" lengthAdjust="spacingAndGlyphs" stroke="#000" stroke-width="0.22">10</text>
<text x="189.31" y="117.75" font-family="&quot;Liberation Sans&quot;, sans-serif" font-size="4.79" font-weight="normal" font-style="normal" fill="#000" stroke="#000" stroke-width="0.14">0</text>
<text transform="translate(83.84,108.89) rotate(-90)" font-family="&quot;Liberation Sans&quot;, sans-serif" font-size="11.23" font-weight="bold" font-style="normal" fill="#000" textLength="53.91" lengthAdjust="spacingAndGlyphs" stroke="#000" stroke-width="0.45">rms(Ln(PR</text>
<text transform="translate(88.09,54.49) rotate(-90)" font-family="&quot;Liberation Sans&quot;, sans-serif" font-size="5.27" font-weight="bold" font-style="normal" fill="#000" textLength="12.48" lengthAdjust="spacingAndGlyphs" stroke="#000" stroke-width="0.45">q=2</text>
<text transform="translate(83.96,40.44) rotate(-90)" font-family="&quot;Liberation Sans&quot;, sans-serif" font-size="11.12" font-weight="bold" font-style="normal" fill="#000" textLength="5.63" lengthAdjust="spacingAndGlyphs" stroke="#000" stroke-width="0.45">))</text>
<text x="131.44" y="132.10" font-family="&quot;Liberation Serif&quot;, serif" font-size="10.99" font-weight="normal" font-style="normal" fill="#000" textLength="6.85" lengthAdjust="spacingAndGlyphs" stroke="#000" stroke-width="0.30">Γ</text>
<text x="137.70" y="136.50" font-family="&quot;Liberation Sans&quot;, sans-serif" font-size="7.17" font-weight="bold" font-style="normal" fill="#000" stroke="#000" stroke-width="0.32">k</text>
<text x="144.30" y="132.09" font-family="&quot;Liberation Sans&quot;, sans-serif" font-size="10.34" font-weight="bold" font-style="normal" fill="#000" stroke="#000" stroke-width="0.45">/</text>
<text x="150.75" y="132.10" font-family="&quot;Liberation Serif&quot;, serif" font-size="10.99" font-weight="normal" font-style="normal" fill="#000" textLength="6.74" lengthAdjust="spacingAndGlyphs" stroke="#000" stroke-width="0.30">Γ</text>
<text x="157.12" y="136.73" font-family="&quot;Liberation Sans&quot;, sans-serif" font-size="6.90" font-weight="bold" font-style="normal" fill="#000" stroke="#000" stroke-width="0.31">0</text>
<rect x="253.30" y="105.80" width="51.50" height="60.20" stroke="#777" stroke-width="1" fill="#fff"/>
<line x1="256.90" y1="114.40" x2="267.50" y2="114.40" stroke="#000000" stroke-width="0.8" opacity="0.55"/>
<path d="M256.9 114.4h0M267.5 114.4h0" stroke="#000000" stroke-width="3.2" stroke-linecap="round" fill="none"/>
<text x="272.47" y="119.75" font-family="&quot;Liberation Sans&quot;, sans-serif" font-size="10.43" font-weight="normal" font-style="normal" fill="#000" textLength="25.19" lengthAdjust="spacingAndGlyphs" stroke="#000" stroke-width="0.30">N=15</text>
<text x="297.92" y="113.94" font-family="&quot;Liberation Sans&quot;, sans-serif" font-size="7.09" font-weight="normal" font-style="normal" fill="#000" stroke="#000" stroke-width="0.21">3</text>
<line x1="256.90" y1="128.90" x2="267.50" y2="128.90" stroke="#ff1010" stroke-width="0.8" opacity="0.55"/>
<path d="M255.3 127.3h3.2v3.2h-3.2zM265.9 127.3h3.2v3.2h-3.2z" fill="#ff1010"/>
<text x="272.47" y="134.25" font-family="&quot;Liberation Sans&quot;, sans-serif" font-size="10.28" font-weight="normal" font-style="normal" fill="#000" textLength="25.19" lengthAdjust="spacingAndGlyphs" stroke="#000" stroke-width="0.30">N=20</text>
<text x="297.92" y="128.44" font-family="&quot;Liberation Sans&quot;, sans-serif" font-size="7.09" font-weight="normal" font-style="normal" fill="#000" stroke="#000" stroke-width="0.21">3</text>
<line x1="256.90" y1="143.40" x2="267.50" y2="143.40" stroke="#1c2fb8" stroke-width="0.8" opacity="0.55"/>
<path d="M256.9 141.4l2.0 2.0l-2.0 2.0l-2.0 -2.0zM267.5 141.4l2.0 2.0l-2.0 2.0l-2.0 -2.0z" fill="#1c2fb8"/>
<text x="272.47" y="148.85" font-family="&quot;Liberation Sans&quot;, sans-serif" font-size="10.43" font-weight="normal" font-style="normal" fill="#000" textLength="25.08" lengthAdjust="spacingAndGlyphs" stroke="#000" stroke-width="0.30">N=24</text>
<text x="297.92" y="142.94" font-family="&quot;Liberation Sans&quot;, sans-serif" font-size="7.09" font-weight="normal" font-style="normal" fill="#000" stroke="#000" stroke-width="0.21">3</text>
<line x1="256.90" y1="157.90" x2="267.50" y2="157.90" stroke="#138a2a" stroke-width="0.8" opacity="0.55"/>
<path d="M256.9 155.8l2.1 3.5h-4.2zM267.5 155.8l2.1 3.5h-4.2z" fill="#138a2a"/>
<text x="272.47" y="163.25" font-family="&quot;Liberation Sans&quot;, sans-serif" font-size="10.28" font-weight="normal" font-style="normal" fill="#000" textLength="25.19" lengthAdjust="spacingAndGlyphs" stroke="#000" stroke-width="0.30">N=28</text>
<text x="297.92" y="157.44" font-family="&quot;Liberation Sans&quot;, sans-serif" font-size="7.09" font-weight="normal" font-style="normal" fill="#000" stroke="#000" stroke-width="0.21">3</text>
<text x="-0.52" y="240.23" font-family="&quot;Liberation Sans&quot;, sans-serif" font-size="26.53" font-weight="bold" font-style="normal" fill="#000" stroke="#000" stroke-width="0.45">b</text>
<text x="14.10" y="238.56" font-family="&quot;Liberation Sans&quot;, sans-serif" font-size="23.53" font-weight="bold" font-style="normal" fill="#000" textLength="6.90" lengthAdjust="spacingAndGlyphs" stroke="#000" stroke-width="0.45">)</text>
<text x="112.47" y="220.58" font-family="&quot;Liberation Serif&quot;, serif" font-size="11.94" font-weight="bold" font-style="italic" fill="#000" textLength="44.44" lengthAdjust="spacingAndGlyphs" stroke="#000" stroke-width="0.45">SCALAR</text>
<text x="162.87" y="220.58" font-family="&quot;Liberation Serif&quot;, serif" font-size="11.94" font-weight="bold" font-style="italic" fill="#000" textLength="41.16" lengthAdjust="spacingAndGlyphs" stroke="#000" stroke-width="0.45">MODEL</text>
<text x="207.21" y="220.74" font-family="&quot;Liberation Serif&quot;, serif" font-size="9.57" font-weight="normal" font-style="italic" fill="#000" textLength="11.24" lengthAdjust="spacingAndGlyphs" stroke="#000" stroke-width="0.29">ρλ</text>
<text x="219.06" y="213.03" font-family="&quot;Liberation Serif&quot;, serif" font-size="6.72" font-weight="normal" font-style="normal" fill="#000" stroke="#000" stroke-width="0.20">3</text>
<text x="222.14" y="220.41" font-family="&quot;Liberation Serif&quot;, serif" font-size="9.02" font-weight="normal" font-style="normal" fill="#000" textLength="12.00" lengthAdjust="spacingAndGlyphs" stroke="#000" stroke-width="0.27">=5</text>
<text x="240.80" y="220.35" font-family="&quot;Liberation Serif&quot;, serif" font-size="10.14" font-weight="normal" font-style="normal" fill="#000" textLength="35.92" lengthAdjust="spacingAndGlyphs" stroke="#000" stroke-width="0.30">W=0.8b</text>
<text x="277.30" y="224.62" font-family="&quot;Liberation Serif&quot;, serif" font-size="7.56" font-weight="normal" font-style="normal" fill="#000" stroke="#000" stroke-width="0.23">0</text>
<path d="M61.40 387.40v-4.5M61.40 225.40v4.5M308.40 387.40v-4.5M308.40 225.40v4.5M135.75 387.40v-2.2M135.75 225.40v2.2M179.25 387.40v-2.2M179.25 225.40v2.2M210.11 387.40v-2.2M210.11 225.40v2.2M234.05 387.40v-2.2M234.05 225.40v2.2M253.60 387.40v-2.2M253.60 225.40v2.2M270.14 387.40v-2.2M270.14 225.40v2.2M284.46 387.40v-2.2M284.46 225.40v2.2M297.10 387.40v-2.2M297.10 225.40v2.2M61.40 387.40h4.5M328.30 387.40h-4.5M61.40 346.90h4.5M328.30 346.90h-4.5M61.40 306.40h4.5M328.30 306.40h-4.5M61.40 265.90h4.5M328.30 265.90h-4.5M61.40 225.40h4.5M328.30 225.40h-4.5M61.40 375.21h2.2M328.30 375.21h-2.2M61.40 368.08h2.2M328.30 368.08h-2.2M61.40 363.02h2.2M328.30 363.02h-2.2M61.40 359.09h2.2M328.30 359.09h-2.2M61.40 355.88h2.2M328.30 355.88h-2.2M61.40 353.17h2.2M328.30 353.17h-2.2M61.40 350.82h2.2M328.30 350.82h-2.2M61.40 348.75h2.2M328.30 348.75h-2.2M61.40 334.71h2.2M328.30 334.71h-2.2M61.40 327.58h2.2M328.30 327.58h-2.2M61.40 322.52h2.2M328.30 322.52h-2.2M61.40 318.59h2.2M328.30 318.59h-2.2M61.40 315.38h2.2M328.30 315.38h-2.2M61.40 312.67h2.2M328.30 312.67h-2.2M61.40 310.32h2.2M328.30 310.32h-2.2M61.40 308.25h2.2M328.30 308.25h-2.2M61.40 294.21h2.2M328.30 294.21h-2.2M61.40 287.08h2.2M328.30 287.08h-2.2M61.40 282.02h2.2M328.30 282.02h-2.2M61.40 278.09h2.2M328.30 278.09h-2.2M61.40 274.88h2.2M328.30 274.88h-2.2M61.40 272.17h2.2M328.30 272.17h-2.2M61.40 269.82h2.2M328.30 269.82h-2.2M61.40 267.75h2.2M328.30 267.75h-2.2M61.40 253.71h2.2M328.30 253.71h-2.2M61.40 246.58h2.2M328.30 246.58h-2.2M61.40 241.52h2.2M328.30 241.52h-2.2M61.40 237.59h2.2M328.30 237.59h-2.2M61.40 234.38h2.2M328.30 234.38h-2.2M61.40 231.67h2.2M328.30 231.67h-2.2M61.40 229.32h2.2M328.30 229.32h-2.2M61.40 227.25h2.2M328.30 227.25h-2.2" stroke="#8a8a8a" stroke-width="1" fill="none"/>
<rect x="61.40" y="225.40" width="266.90" height="162.00" stroke="#8a8a8a" stroke-width="1" fill="none"/>
<text x="43.20" y="393.59" font-family="&quot;Liberation Sans&quot;, sans-serif" font-size="11.41" font-weight="normal" font-style="normal" fill="#000" textLength="11.85" lengthAdjust="spacingAndGlyphs" stroke="#000" stroke-width="0.30">10</text>
<text x="54.92" y="387.03" font-family="&quot;Liberation Sans&quot;, sans-serif" font-size="6.90" font-weight="normal" font-style="normal" fill="#000" stroke="#000" stroke-width="0.21">0</text>
<text x="43.20" y="353.09" font-family="&quot;Liberation Sans&quot;, sans-serif" font-size="11.41" font-weight="normal" font-style="normal" fill="#000" textLength="11.85" lengthAdjust="spacingAndGlyphs" stroke="#000" stroke-width="0.30">10</text>
<text x="54.67" y="346.60" font-family="&quot;Liberation Sans&quot;, sans-serif" font-size="7.10" font-weight="normal" font-style="normal" fill="#000" stroke="#000" stroke-width="0.21">1</text>
<text x="43.20" y="312.59" font-family="&quot;Liberation Sans&quot;, sans-serif" font-size="11.41" font-weight="normal" font-style="normal" fill="#000" textLength="11.85" lengthAdjust="spacingAndGlyphs" stroke="#000" stroke-width="0.30">10</text>
<text x="54.85" y="306.10" font-family="&quot;Liberation Sans&quot;, sans-serif" font-size="7.00" font-weight="normal" font-style="normal" fill="#000" stroke="#000" stroke-width="0.21">2</text>
<text x="43.20" y="272.09" font-family="&quot;Liberation Sans&quot;, sans-serif" font-size="11.41" font-weight="normal" font-style="normal" fill="#000" textLength="11.85" lengthAdjust="spacingAndGlyphs" stroke="#000" stroke-width="0.30">10</text>
<text x="54.92" y="265.53" font-family="&quot;Liberation Sans&quot;, sans-serif" font-size="6.90" font-weight="normal" font-style="normal" fill="#000" stroke="#000" stroke-width="0.21">3</text>
<text x="43.20" y="231.59" font-family="&quot;Liberation Sans&quot;, sans-serif" font-size="11.41" font-weight="normal" font-style="normal" fill="#000" textLength="11.85" lengthAdjust="spacingAndGlyphs" stroke="#000" stroke-width="0.30">10</text>
<text x="55.02" y="225.10" font-family="&quot;Liberation Sans&quot;, sans-serif" font-size="7.10" font-weight="normal" font-style="normal" fill="#000" stroke="#000" stroke-width="0.21">4</text>
<text x="52.23" y="403.48" font-family="&quot;Liberation Sans&quot;, sans-serif" font-size="11.83" font-weight="normal" font-style="normal" fill="#000" textLength="12.86" lengthAdjust="spacingAndGlyphs" stroke="#000" stroke-width="0.30">10</text>
<text x="65.17" y="396.50" font-family="&quot;Liberation Sans&quot;, sans-serif" font-size="7.39" font-weight="normal" font-style="normal" fill="#000" stroke="#000" stroke-width="0.22">-1</text>
<text x="300.35" y="403.38" font-family="&quot;Liberation Sans&quot;, sans-serif" font-size="11.69" font-weight="normal" font-style="normal" fill="#000" textLength="12.63" lengthAdjust="spacingAndGlyphs" stroke="#000" stroke-width="0.30">10</text>
<text x="312.91" y="397.53" font-family="&quot;Liberation Sans&quot;, sans-serif" font-size="7.32" font-weight="normal" font-style="normal" fill="#000" stroke="#000" stroke-width="0.22">0</text>
<text transform="translate(33.00,321.39) rotate(-90)" font-family="&quot;Liberation Sans&quot;, sans-serif" font-size="12.90" font-weight="bold" font-style="normal" fill="#000" textLength="14.75" lengthAdjust="spacingAndGlyphs" stroke="#000" stroke-width="0.45">PR</text>
<text transform="translate(36.60,305.83) rotate(-90)" font-family="&quot;Liberation Sans&quot;, sans-serif" font-size="5.71" font-weight="bold" font-style="normal" fill="#000" textLength="14.57" lengthAdjust="spacingAndGlyphs" stroke="#000" stroke-width="0.45">q=2</text>
<text x="178.81" y="414.35" font-family="&quot;Liberation Serif&quot;, serif" font-size="11.98" font-weight="normal" font-style="normal" fill="#000" textLength="7.46" lengthAdjust="spacingAndGlyphs" stroke="#000" stroke-width="0.30">Γ</text>
<text x="185.63" y="419.14" font-family="&quot;Liberation Sans&quot;, sans-serif" font-size="7.82" font-weight="bold" font-style="normal" fill="#000" stroke="#000" stroke-width="0.35">k</text>
<text x="192.82" y="414.34" font-family="&quot;Liberation Sans&quot;, sans-serif" font-size="11.27" font-weight="bold" font-style="normal" fill="#000" stroke="#000" stroke-width="0.45">/</text>
<text x="199.86" y="414.35" font-family="&quot;Liberation Serif&quot;, serif" font-size="11.98" font-weight="normal" font-style="normal" fill="#000" textLength="7.34" lengthAdjust="spacingAndGlyphs" stroke="#000" stroke-width="0.30">Γ</text>
<text x="206.80" y="419.40" font-family="&quot;Liberation Sans&quot;, sans-serif" font-size="7.52" font-weight="bold" font-style="normal" fill="#000" stroke="#000" stroke-width="0.34">0</text>
<line x1="223.70" y1="225.40" x2="223.70" y2="387.40" stroke="#000" stroke-width="1.15" stroke-dasharray="4.3 1.9"/>
<path d="M61.4 371.2 L66.3 371.9 L71.2 372.0 L76.1 370.8 L81.0 370.0 L85.9 370.4 L90.8 370.3 L95.7 370.3 L100.6 368.4 L105.5 367.9 L110.4 368.6 L115.3 367.9 L120.2 367.9 L125.1 366.9 L130.0 365.5 L134.9 364.6 L139.8 365.4 L144.7 362.5 L149.6 360.8 L154.5 359.0 L159.4 358.1 L164.3 356.4 L169.2 354.4 L174.1 352.6 L179.0 350.6 L183.9 347.6 L188.8 343.7 L193.7 339.2 L198.6 333.6 L203.5 327.4 L208.4 318.8 L213.3 312.5 L218.2 306.9 L223.1 303.0 L228.0 299.6 L232.9 297.6 L237.8 296.5 L242.7 294.5 L247.6 293.1 L252.5 291.1 L257.4 290.1 L262.3 289.6 L267.2 289.1 L272.1 288.9 L277.0 288.6 L281.9 288.2 L286.8 288.4 L291.7 287.9 L296.6 288.1 L301.5 287.3 L306.4 287.1 L311.3 286.6 L316.2 286.4 L321.1 285.6 L326.0 285.4" stroke="#000000" stroke-width="0.7" fill="none" opacity="1.0"/>
<path d="M62.2 371.0 L67.1 371.8 L72.0 371.2 L76.9 370.8 L81.8 371.3 L86.7 370.4 L91.6 369.8 L96.5 370.6 L101.4 368.8 L106.3 367.9 L111.2 367.3 L116.1 367.2 L121.0 367.3 L125.9 366.7 L130.8 366.1 L135.7 365.7 L140.6 364.7 L145.5 362.9 L150.4 361.9 L155.3 359.9 L160.2 357.4 L165.1 356.5 L170.0 354.3 L174.9 352.2 L179.8 351.2 L184.7 347.0 L189.6 342.1 L194.5 338.4 L199.4 335.3 L204.3 325.2 L209.2 314.1 L214.1 301.7 L219.0 293.8 L223.9 289.7 L228.8 287.1 L233.7 285.3 L238.6 283.8 L243.5 282.5 L248.4 281.6 L253.3 280.6 L258.2 279.3 L263.1 279.2 L268.0 278.7 L272.9 278.6 L277.8 278.6 L282.7 278.6 L287.6 278.3 L292.5 277.7 L297.4 278.3 L302.3 277.6 L307.2 277.0 L312.1 276.7 L317.0 275.8 L321.9 274.9 L326.8 274.6" stroke="#ff1010" stroke-width="0.7" fill="none" opacity="1.0"/>
<path d="M63.0 371.8 L67.9 372.5 L72.8 370.9 L77.7 370.0 L82.6 370.9 L87.5 370.7 L92.4 370.2 L97.3 369.8 L102.2 369.0 L107.1 368.2 L112.0 367.6 L116.9 367.4 L121.8 366.6 L126.7 366.7 L131.6 365.8 L136.5 363.8 L141.4 364.0 L146.3 362.3 L151.2 361.5 L156.1 360.2 L161.0 357.9 L165.9 354.7 L170.8 354.4 L175.7 351.1 L180.6 350.5 L185.5 345.5 L190.4 341.7 L195.3 338.8 L200.2 332.6 L205.1 323.2 L210.0 307.5 L214.9 295.5 L219.8 286.2 L224.7 282.8 L229.6 280.4 L234.5 278.8 L239.4 277.4 L244.3 275.7 L249.2 275.4 L254.1 274.3 L259.0 273.4 L263.9 273.1 L268.8 273.0 L273.7 272.8 L278.6 272.2 L283.5 272.1 L288.4 271.8 L293.3 271.6 L298.2 270.9 L303.1 270.7 L308.0 269.8 L312.9 269.2 L317.8 268.8 L322.7 268.2 L327.6 267.3" stroke="#1c2fb8" stroke-width="0.7" fill="none" opacity="1.0"/>
<path d="M63.8 372.5 L68.7 372.2 L73.6 370.5 L78.5 369.8 L83.4 370.6 L88.3 370.7 L93.2 369.7 L98.1 368.5 L103.0 368.6 L107.9 369.3 L112.8 367.1 L117.7 368.0 L122.6 367.0 L127.5 366.3 L132.4 365.6 L137.3 364.0 L142.2 363.2 L147.1 363.1 L152.0 360.3 L156.9 358.7 L161.8 356.4 L166.7 355.2 L171.6 354.1 L176.5 352.4 L181.4 349.4 L186.3 345.5 L191.2 341.4 L196.1 337.1 L201.0 332.1 L205.9 319.8 L210.8 300.1 L215.7 287.2 L220.6 278.8 L225.5 275.6 L230.4 273.7 L235.3 272.0 L240.2 270.3 L245.1 269.4 L250.0 268.9 L254.9 268.4 L259.8 268.0 L264.7 267.2 L269.6 267.1 L274.5 266.9 L279.4 266.5 L284.3 266.5 L289.2 265.8 L294.1 265.5 L299.0 265.1 L303.9 264.5 L308.8 264.0 L313.7 263.4 L318.6 262.7 L323.5 261.8" stroke="#138a2a" stroke-width="0.7" fill="none" opacity="1.0"/>
<path d="M64.6 371.9 L69.5 371.5 L74.4 371.2 L79.3 370.6 L84.2 370.7 L89.1 370.2 L94.0 370.4 L98.9 368.7 L103.8 370.4 L108.7 366.4 L113.6 367.9 L118.5 367.8 L123.4 366.4 L128.3 365.4 L133.2 365.0 L138.1 364.6 L143.0 363.9 L147.9 360.9 L152.8 360.4 L157.7 358.2 L162.6 357.5 L167.5 354.9 L172.4 353.4 L177.3 351.9 L182.2 348.3 L187.1 344.6 L192.0 339.9 L196.9 336.0 L201.8 330.2 L206.7 316.1 L211.6 296.2 L216.5 282.2 L221.4 275.1 L226.3 271.9 L231.2 270.0 L236.1 268.5 L241.0 266.3 L245.9 265.0 L250.8 264.5 L255.7 264.1 L260.6 263.0 L265.5 262.3 L270.4 262.2 L275.3 262.1 L280.2 261.6 L285.1 261.1 L290.0 260.8 L294.9 260.4 L299.8 259.5 L304.7 259.4 L309.6 258.6 L314.5 258.2 L319.4 257.6 L324.3 257.1" stroke="#c050c0" stroke-width="1.3" fill="none" opacity="1.0"/>
<path d="M65.4 371.3 L70.3 372.0 L75.2 370.6 L80.1 371.2 L85.0 369.8 L89.9 370.6 L94.8 369.6 L99.7 370.1 L104.6 369.3 L109.5 368.3 L114.4 367.6 L119.3 367.4 L124.2 366.4 L129.1 365.2 L134.0 365.3 L138.9 362.6 L143.8 362.9 L148.7 362.8 L153.6 360.3 L158.5 357.5 L163.4 357.3 L168.3 355.0 L173.2 352.7 L178.1 350.5 L183.0 348.0 L187.9 344.3 L192.8 339.7 L197.7 336.6 L202.6 329.1 L207.5 312.8 L212.4 291.9 L217.3 275.7 L222.2 270.0 L227.1 267.7 L232.0 266.1 L236.9 264.0 L241.8 262.8 L246.7 261.2 L251.6 260.0 L256.5 258.9 L261.4 257.8 L266.3 257.5 L271.2 257.1 L276.1 256.6 L281.0 256.1 L285.9 255.7 L290.8 255.5 L295.7 254.8 L300.6 254.7 L305.5 254.0 L310.4 253.7 L315.3 253.0 L320.2 252.6 L325.1 252.1" stroke="#ffa31a" stroke-width="0.7" fill="none" opacity="1.0"/>
<path d="M203.5 327.4h0M164.3 356.4h0M159.4 358.1h0M71.2 372.0h0M76.1 370.8h0M115.3 367.9h0M198.6 333.6h0M154.5 359.0h0" stroke="#000000" stroke-width="3.2" stroke-linecap="round" fill="none"/>
<path d="M67.1 371.8h0" stroke="#ff1010" stroke-width="3.2" stroke-linecap="round" fill="none"/>
<path d="M95.7 370.3h0M174.1 352.6h0" stroke="#000000" stroke-width="3.2" stroke-linecap="round" fill="none"/>
<path d="M135.7 365.7h0M86.7 370.4h0" stroke="#ff1010" stroke-width="3.2" stroke-linecap="round" fill="none"/>
<path d="M179.0 350.6h0" stroke="#000000" stroke-width="3.2" stroke-linecap="round" fill="none"/>
<path d="M195.3 338.8h0" stroke="#1c2fb8" stroke-width="2.9" stroke-linecap="round" fill="none"/>
<path d="M125.1 366.9h0" stroke="#000000" stroke-width="3.2" stroke-linecap="round" fill="none"/>
<path d="M165.9 354.7h0" stroke="#1c2fb8" stroke-width="2.9" stroke-linecap="round" fill="none"/>
<path d="M120.2 367.9h0M149.6 360.8h0M169.2 354.4h0" stroke="#000000" stroke-width="3.2" stroke-linecap="round" fill="none"/>
<path d="M62.2 371.0h0" stroke="#ff1010" stroke-width="3.2" stroke-linecap="round" fill="none"/>
<path d="M87.5 370.7h0" stroke="#1c2fb8" stroke-width="2.9" stroke-linecap="round" fill="none"/>
<path d="M121.0 367.3h0M179.8 351.2h0" stroke="#ff1010" stroke-width="3.2" stroke-linecap="round" fill="none"/>
<path d="M156.9 356.8l1.9 3.2h-3.8z" fill="#138a2a"/>
<path d="M185.5 345.5h0" stroke="#1c2fb8" stroke-width="2.9" stroke-linecap="round" fill="none"/>
<path d="M147.1 361.2l1.9 3.2h-3.8z" fill="#138a2a"/>
<path d="M188.8 343.7h0" stroke="#000000" stroke-width="3.2" stroke-linecap="round" fill="none"/>
<path d="M117.7 366.1l1.9 3.2h-3.8z" fill="#138a2a"/>
<path d="M146.3 362.3h0" stroke="#1c2fb8" stroke-width="2.9" stroke-linecap="round" fill="none"/>
<path d="M191.2 339.5l1.9 3.2h-3.8z" fill="#138a2a"/>
<path d="M144.7 362.5h0" stroke="#000000" stroke-width="3.2" stroke-linecap="round" fill="none"/>
<path d="M72.8 370.9h0" stroke="#1c2fb8" stroke-width="2.9" stroke-linecap="round" fill="none"/>
<path d="M193.7 339.2h0M110.4 368.6h0" stroke="#000000" stroke-width="3.2" stroke-linecap="round" fill="none"/>
<path d="M137.3 362.1l1.9 3.2h-3.8z" fill="#138a2a"/>
<path d="M97.3 369.8h0" stroke="#1c2fb8" stroke-width="2.9" stroke-linecap="round" fill="none"/>
<path d="M100.6 368.4h0" stroke="#000000" stroke-width="3.2" stroke-linecap="round" fill="none"/>
<path d="M78.5 367.9l1.9 3.2h-3.8z" fill="#138a2a"/>
<path d="M105.5 367.9h0" stroke="#000000" stroke-width="3.2" stroke-linecap="round" fill="none"/>
<path d="M194.5 338.4h0M150.4 361.9h0" stroke="#ff1010" stroke-width="3.2" stroke-linecap="round" fill="none"/>
<path d="M107.1 368.2h0M141.4 364.0h0" stroke="#1c2fb8" stroke-width="2.9" stroke-linecap="round" fill="none"/>
<path d="M201.0 330.2l1.9 3.2h-3.8z" fill="#138a2a"/>
<path d="M160.2 357.4h0" stroke="#ff1010" stroke-width="3.2" stroke-linecap="round" fill="none"/>
<path d="M171.6 352.2l1.9 3.2h-3.8z" fill="#138a2a"/>
<path d="M77.7 370.0h0" stroke="#1c2fb8" stroke-width="2.9" stroke-linecap="round" fill="none"/>
<path d="M170.0 354.3h0" stroke="#ff1010" stroke-width="3.2" stroke-linecap="round" fill="none"/>
<path d="M90.8 370.3h0" stroke="#000000" stroke-width="3.2" stroke-linecap="round" fill="none"/>
<path d="M127.5 364.4l1.9 3.2h-3.8z" fill="#138a2a"/>
<path d="M72.0 371.2h0" stroke="#ff1010" stroke-width="3.2" stroke-linecap="round" fill="none"/>
<path d="M176.5 350.5l1.9 3.2h-3.8z" fill="#138a2a"/>
<path d="M155.3 359.9h0" stroke="#ff1010" stroke-width="3.2" stroke-linecap="round" fill="none"/>
<path d="M93.1 369.5h1.9v1.9h-1.9zM63.6 370.9h1.9v1.9h-1.9z" fill="#c050c0"/>
<path d="M98.1 366.6l1.9 3.2h-3.8z" fill="#138a2a"/>
<path d="M130.0 365.5h0" stroke="#000000" stroke-width="3.2" stroke-linecap="round" fill="none"/>
<path d="M68.7 370.3l1.9 3.2h-3.8z" fill="#138a2a"/>
<path d="M199.4 335.3h0" stroke="#ff1010" stroke-width="3.2" stroke-linecap="round" fill="none"/>
<path d="M85.9 370.4h0" stroke="#000000" stroke-width="3.2" stroke-linecap="round" fill="none"/>
<path d="M93.2 367.9l1.9 3.2h-3.8zM161.8 354.5l1.9 3.2h-3.8z" fill="#138a2a"/>
<path d="M151.9 359.5h1.9v1.9h-1.9z" fill="#c050c0"/>
<path d="M63.8 370.7l1.9 3.2h-3.8z" fill="#138a2a"/>
<path d="M83.3 369.7h1.9v1.9h-1.9zM166.6 353.9h1.9v1.9h-1.9zM186.2 343.6h1.9v1.9h-1.9z" fill="#c050c0"/>
<path d="M67.9 372.5h0" stroke="#1c2fb8" stroke-width="2.9" stroke-linecap="round" fill="none"/>
<path d="M81.0 370.0h0" stroke="#000000" stroke-width="3.2" stroke-linecap="round" fill="none"/>
<path d="M121.8 366.6h0" stroke="#1c2fb8" stroke-width="2.9" stroke-linecap="round" fill="none"/>
<path d="M178.1 350.5h0" stroke="#ffa31a" stroke-width="2.6" stroke-linecap="round" fill="none"/>
<path d="M81.8 371.3h0" stroke="#ff1010" stroke-width="3.2" stroke-linecap="round" fill="none"/>
<path d="M151.2 361.5h0M126.7 366.7h0" stroke="#1c2fb8" stroke-width="2.9" stroke-linecap="round" fill="none"/>
<path d="M70.3 372.0h0" stroke="#ffa31a" stroke-width="2.6" stroke-linecap="round" fill="none"/>
<path d="M122.6 365.1l1.9 3.2h-3.8z" fill="#138a2a"/>
<path d="M89.9 370.6h0M183.0 348.0h0" stroke="#ffa31a" stroke-width="2.6" stroke-linecap="round" fill="none"/>
<path d="M145.5 362.9h0" stroke="#ff1010" stroke-width="3.2" stroke-linecap="round" fill="none"/>
<path d="M186.3 343.6l1.9 3.2h-3.8z" fill="#138a2a"/>
<path d="M85.0 369.8h0" stroke="#ffa31a" stroke-width="2.6" stroke-linecap="round" fill="none"/>
<path d="M183.9 347.6h0" stroke="#000000" stroke-width="3.2" stroke-linecap="round" fill="none"/>
<path d="M137.2 363.7h1.9v1.9h-1.9z" fill="#c050c0"/>
<path d="M101.4 368.8h0M140.6 364.7h0" stroke="#ff1010" stroke-width="3.2" stroke-linecap="round" fill="none"/>
<path d="M136.5 363.8h0" stroke="#1c2fb8" stroke-width="2.9" stroke-linecap="round" fill="none"/>
<path d="M107.9 367.4l1.9 3.2h-3.8z" fill="#138a2a"/>
<path d="M196.0 335.1h1.9v1.9h-1.9z" fill="#c050c0"/>
<path d="M99.7 370.1h0" stroke="#ffa31a" stroke-width="2.6" stroke-linecap="round" fill="none"/>
<path d="M111.2 367.3h0" stroke="#ff1010" stroke-width="3.2" stroke-linecap="round" fill="none"/>
<path d="M192.8 339.7h0" stroke="#ffa31a" stroke-width="2.6" stroke-linecap="round" fill="none"/>
<path d="M66.3 371.9h0M139.8 365.4h0M61.4 371.2h0" stroke="#000000" stroke-width="3.2" stroke-linecap="round" fill="none"/>
<path d="M116.1 367.2h0" stroke="#ff1010" stroke-width="3.2" stroke-linecap="round" fill="none"/>
<path d="M161.0 357.9h0" stroke="#1c2fb8" stroke-width="2.9" stroke-linecap="round" fill="none"/>
<path d="M96.5 370.6h0" stroke="#ff1010" stroke-width="3.2" stroke-linecap="round" fill="none"/>
<path d="M80.1 371.2h0" stroke="#ffa31a" stroke-width="2.6" stroke-linecap="round" fill="none"/>
<path d="M147.0 359.9h1.9v1.9h-1.9z" fill="#c050c0"/>
<path d="M131.6 365.8h0M200.2 332.6h0" stroke="#1c2fb8" stroke-width="2.9" stroke-linecap="round" fill="none"/>
<path d="M94.8 369.6h0" stroke="#ffa31a" stroke-width="2.6" stroke-linecap="round" fill="none"/>
<path d="M134.9 364.6h0" stroke="#000000" stroke-width="3.2" stroke-linecap="round" fill="none"/>
<path d="M174.9 352.2h0" stroke="#ff1010" stroke-width="3.2" stroke-linecap="round" fill="none"/>
<path d="M88.2 369.2h1.9v1.9h-1.9zM68.5 370.6h1.9v1.9h-1.9z" fill="#c050c0"/>
<path d="M83.4 368.7l1.9 3.2h-3.8z" fill="#138a2a"/>
<path d="M82.6 370.9h0M116.9 367.4h0" stroke="#1c2fb8" stroke-width="2.9" stroke-linecap="round" fill="none"/>
<path d="M184.7 347.0h0" stroke="#ff1010" stroke-width="3.2" stroke-linecap="round" fill="none"/>
<path d="M63.0 371.8h0M175.7 351.1h0" stroke="#1c2fb8" stroke-width="2.9" stroke-linecap="round" fill="none"/>
<path d="M176.4 351.0h1.9v1.9h-1.9z" fill="#c050c0"/>
<path d="M91.6 369.8h0" stroke="#ff1010" stroke-width="3.2" stroke-linecap="round" fill="none"/>
<path d="M129.1 365.2h0" stroke="#ffa31a" stroke-width="2.6" stroke-linecap="round" fill="none"/>
<path d="M189.6 342.1h0M106.3 367.9h0" stroke="#ff1010" stroke-width="3.2" stroke-linecap="round" fill="none"/>
<path d="M202.6 329.1h0" stroke="#ffa31a" stroke-width="2.6" stroke-linecap="round" fill="none"/>
<path d="M190.4 341.7h0" stroke="#1c2fb8" stroke-width="2.9" stroke-linecap="round" fill="none"/>
<path d="M138.9 362.6h0" stroke="#ffa31a" stroke-width="2.6" stroke-linecap="round" fill="none"/>
<path d="M204.3 325.2h0" stroke="#ff1010" stroke-width="3.2" stroke-linecap="round" fill="none"/>
<path d="M163.4 357.3h0" stroke="#ffa31a" stroke-width="2.6" stroke-linecap="round" fill="none"/>
<path d="M165.1 356.5h0" stroke="#ff1010" stroke-width="3.2" stroke-linecap="round" fill="none"/>
<path d="M156.8 357.3h1.9v1.9h-1.9zM98.0 367.8h1.9v1.9h-1.9z" fill="#c050c0"/>
<path d="M130.8 366.1h0" stroke="#ff1010" stroke-width="3.2" stroke-linecap="round" fill="none"/>
<path d="M132.3 364.1h1.9v1.9h-1.9z" fill="#c050c0"/>
<path d="M125.9 366.7h0" stroke="#ff1010" stroke-width="3.2" stroke-linecap="round" fill="none"/>
<path d="M170.8 354.4h0" stroke="#1c2fb8" stroke-width="2.9" stroke-linecap="round" fill="none"/>
<path d="M76.9 370.8h0" stroke="#ff1010" stroke-width="3.2" stroke-linecap="round" fill="none"/>
<path d="M132.4 363.8l1.9 3.2h-3.8z" fill="#138a2a"/>
<path d="M181.3 347.3h1.9v1.9h-1.9z" fill="#c050c0"/>
<path d="M181.4 347.5l1.9 3.2h-3.8zM112.8 365.2l1.9 3.2h-3.8zM152.0 358.4l1.9 3.2h-3.8z" fill="#138a2a"/>
<path d="M180.6 350.5h0M92.4 370.2h0" stroke="#1c2fb8" stroke-width="2.9" stroke-linecap="round" fill="none"/>
<path d="M187.9 344.3h0" stroke="#ffa31a" stroke-width="2.6" stroke-linecap="round" fill="none"/>
<path d="M102.2 369.0h0" stroke="#1c2fb8" stroke-width="2.9" stroke-linecap="round" fill="none"/>
<path d="M171.5 352.5h1.9v1.9h-1.9z" fill="#c050c0"/>
<path d="M65.4 371.3h0M168.3 355.0h0" stroke="#ffa31a" stroke-width="2.6" stroke-linecap="round" fill="none"/>
<path d="M156.1 360.2h0" stroke="#1c2fb8" stroke-width="2.9" stroke-linecap="round" fill="none"/>
<path d="M200.9 329.3h1.9v1.9h-1.9z" fill="#c050c0"/>
<path d="M134.0 365.3h0" stroke="#ffa31a" stroke-width="2.6" stroke-linecap="round" fill="none"/>
<path d="M73.5 370.3h1.9v1.9h-1.9z" fill="#c050c0"/>
<path d="M112.0 367.6h0" stroke="#1c2fb8" stroke-width="2.9" stroke-linecap="round" fill="none"/>
<path d="M166.7 353.3l1.9 3.2h-3.8z" fill="#138a2a"/>
<path d="M142.1 362.9h1.9v1.9h-1.9z" fill="#c050c0"/>
<path d="M109.5 368.3h0" stroke="#ffa31a" stroke-width="2.6" stroke-linecap="round" fill="none"/>
<path d="M88.3 368.8l1.9 3.2h-3.8z" fill="#138a2a"/>
<path d="M173.2 352.7h0" stroke="#ffa31a" stroke-width="2.6" stroke-linecap="round" fill="none"/>
<path d="M127.4 364.4h1.9v1.9h-1.9z" fill="#c050c0"/>
<path d="M73.6 368.6l1.9 3.2h-3.8zM103.0 366.8l1.9 3.2h-3.8z" fill="#138a2a"/>
<path d="M75.2 370.6h0" stroke="#ffa31a" stroke-width="2.6" stroke-linecap="round" fill="none"/>
<path d="M107.8 365.5h1.9v1.9h-1.9zM78.4 369.6h1.9v1.9h-1.9zM117.6 366.8h1.9v1.9h-1.9z" fill="#c050c0"/>
<path d="M143.8 362.9h0" stroke="#ffa31a" stroke-width="2.6" stroke-linecap="round" fill="none"/>
<path d="M102.9 369.5h1.9v1.9h-1.9z" fill="#c050c0"/>
<path d="M142.2 361.4l1.9 3.2h-3.8z" fill="#138a2a"/>
<path d="M148.7 362.8h0M104.6 369.3h0" stroke="#ffa31a" stroke-width="2.6" stroke-linecap="round" fill="none"/>
<path d="M196.1 335.3l1.9 3.2h-3.8z" fill="#138a2a"/>
<path d="M122.5 365.5h1.9v1.9h-1.9zM161.7 356.6h1.9v1.9h-1.9z" fill="#c050c0"/>
<path d="M158.5 357.5h0M197.7 336.6h0" stroke="#ffa31a" stroke-width="2.6" stroke-linecap="round" fill="none"/>
<path d="M112.7 366.9h1.9v1.9h-1.9zM191.1 339.0h1.9v1.9h-1.9z" fill="#c050c0"/>
<path d="M153.6 360.3h0M119.3 367.4h0M114.4 367.6h0M124.2 366.4h0" stroke="#ffa31a" stroke-width="2.6" stroke-linecap="round" fill="none"/>
<path d="M208.4 318.8h0M213.3 312.5h0M218.2 306.9h0M223.1 303.0h0M228.0 299.6h0M232.9 297.6h0M237.8 296.5h0M242.7 294.5h0M247.6 293.1h0M252.5 291.1h0M257.4 290.1h0M262.3 289.6h0M267.2 289.1h0M272.1 288.9h0M277.0 288.6h0M281.9 288.2h0M286.8 288.4h0M291.7 287.9h0M296.6 288.1h0M301.5 287.3h0M306.4 287.1h0M311.3 286.6h0M316.2 286.4h0M321.1 285.6h0M326.0 285.4h0" stroke="#000000" stroke-width="3.2" stroke-linecap="round" fill="none"/>
<path d="M209.2 314.1h0M214.1 301.7h0M219.0 293.8h0M223.9 289.7h0M228.8 287.1h0M233.7 285.3h0M238.6 283.8h0M243.5 282.5h0M248.4 281.6h0M253.3 280.6h0M258.2 279.3h0M263.1 279.2h0M268.0 278.7h0M272.9 278.6h0M277.8 278.6h0M282.7 278.6h0M287.6 278.3h0M292.5 277.7h0M297.4 278.3h0M302.3 277.6h0M307.2 277.0h0M312.1 276.7h0M317.0 275.8h0M321.9 274.9h0M326.8 274.6h0" stroke="#ff1010" stroke-width="3.2" stroke-linecap="round" fill="none"/>
<path d="M205.1 323.2h0M210.0 307.5h0M214.9 295.5h0M219.8 286.2h0M224.7 282.8h0M229.6 280.4h0M234.5 278.8h0M239.4 277.4h0M244.3 275.7h0M249.2 275.4h0M254.1 274.3h0M259.0 273.4h0M263.9 273.1h0M268.8 273.0h0M273.7 272.8h0M278.6 272.2h0M283.5 272.1h0M288.4 271.8h0M293.3 271.6h0M298.2 270.9h0M303.1 270.7h0M308.0 269.8h0M312.9 269.2h0M317.8 268.8h0M322.7 268.2h0M327.6 267.3h0" stroke="#1c2fb8" stroke-width="2.9" stroke-linecap="round" fill="none"/>
<path d="M205.9 317.9l1.9 3.2h-3.8zM210.8 298.2l1.9 3.2h-3.8zM215.7 285.3l1.9 3.2h-3.8zM220.6 277.0l1.9 3.2h-3.8zM225.5 273.7l1.9 3.2h-3.8zM230.4 271.8l1.9 3.2h-3.8zM235.3 270.1l1.9 3.2h-3.8zM240.2 268.4l1.9 3.2h-3.8zM245.1 267.5l1.9 3.2h-3.8zM250.0 267.0l1.9 3.2h-3.8zM254.9 266.5l1.9 3.2h-3.8zM259.8 266.1l1.9 3.2h-3.8zM264.7 265.3l1.9 3.2h-3.8zM269.6 265.2l1.9 3.2h-3.8zM274.5 265.1l1.9 3.2h-3.8zM279.4 264.7l1.9 3.2h-3.8zM284.3 264.7l1.9 3.2h-3.8zM289.2 263.9l1.9 3.2h-3.8zM294.1 263.6l1.9 3.2h-3.8zM299.0 263.2l1.9 3.2h-3.8zM303.9 262.6l1.9 3.2h-3.8zM308.8 262.1l1.9 3.2h-3.8zM313.7 261.5l1.9 3.2h-3.8zM318.6 260.8l1.9 3.2h-3.8zM323.5 260.0l1.9 3.2h-3.8z" fill="#138a2a"/>
<path d="M205.8 315.1h1.9v1.9h-1.9zM210.7 295.2h1.9v1.9h-1.9zM215.6 281.3h1.9v1.9h-1.9zM220.5 274.2h1.9v1.9h-1.9zM225.4 270.9h1.9v1.9h-1.9zM230.3 269.0h1.9v1.9h-1.9zM235.2 267.6h1.9v1.9h-1.9zM240.1 265.4h1.9v1.9h-1.9zM245.0 264.1h1.9v1.9h-1.9zM249.9 263.5h1.9v1.9h-1.9zM254.8 263.1h1.9v1.9h-1.9zM259.7 262.1h1.9v1.9h-1.9zM264.6 261.4h1.9v1.9h-1.9zM269.5 261.2h1.9v1.9h-1.9zM274.4 261.1h1.9v1.9h-1.9zM279.3 260.6h1.9v1.9h-1.9zM284.2 260.1h1.9v1.9h-1.9zM289.1 259.9h1.9v1.9h-1.9zM294.0 259.4h1.9v1.9h-1.9zM298.9 258.5h1.9v1.9h-1.9zM303.8 258.5h1.9v1.9h-1.9zM308.7 257.7h1.9v1.9h-1.9zM313.6 257.3h1.9v1.9h-1.9zM318.5 256.6h1.9v1.9h-1.9zM323.4 256.2h1.9v1.9h-1.9z" fill="#c050c0"/>
<path d="M207.5 312.8h0M212.4 291.9h0M217.3 275.7h0M222.2 270.0h0M227.1 267.7h0M232.0 266.1h0M236.9 264.0h0M241.8 262.8h0M246.7 261.2h0M251.6 260.0h0M256.5 258.9h0M261.4 257.8h0M266.3 257.5h0M271.2 257.1h0M276.1 256.6h0M281.0 256.1h0M285.9 255.7h0M290.8 255.5h0M295.7 254.8h0M300.6 254.7h0M305.5 254.0h0M310.4 253.7h0M315.3 253.0h0M320.2 252.6h0M325.1 252.1h0" stroke="#ffa31a" stroke-width="2.6" stroke-linecap="round" fill="none"/>
<rect x="102.30" y="237.50" width="91.20" height="68.00" stroke="none" stroke-width="0" fill="#fff"/>
<path d="M102.30 305.50v-4.5M102.30 237.50v4.5M193.50 305.50v-4.5M193.50 237.50v4.5M129.75 305.50v-1.8M129.75 237.50v1.8M145.81 305.50v-1.8M145.81 237.50v1.8M157.21 305.50v-1.8M157.21 237.50v1.8M166.05 305.50v-1.8M166.05 237.50v1.8M173.27 305.50v-1.8M173.27 237.50v1.8M179.37 305.50v-1.8M179.37 237.50v1.8M184.66 305.50v-1.8M184.66 237.50v1.8M189.33 305.50v-1.8M189.33 237.50v1.8M102.30 284.20h4.5M193.50 284.20h-4.5M102.30 242.20h4.5M193.50 242.20h-4.5M102.30 300.91h1.8M193.50 300.91h-1.8M102.30 296.84h1.8M193.50 296.84h-1.8M102.30 293.52h1.8M193.50 293.52h-1.8M102.30 290.71h1.8M193.50 290.71h-1.8M102.30 288.27h1.8M193.50 288.27h-1.8M102.30 286.12h1.8M193.50 286.12h-1.8M102.30 271.56h1.8M193.50 271.56h-1.8M102.30 264.16h1.8M193.50 264.16h-1.8M102.30 258.91h1.8M193.50 258.91h-1.8M102.30 254.84h1.8M193.50 254.84h-1.8M102.30 251.52h1.8M193.50 251.52h-1.8M102.30 248.71h1.8M193.50 248.71h-1.8M102.30 246.27h1.8M193.50 246.27h-1.8M102.30 244.12h1.8M193.50 244.12h-1.8" stroke="#8a8a8a" stroke-width="1" fill="none"/>
<rect x="102.30" y="237.50" width="91.20" height="68.00" stroke="#8a8a8a" stroke-width="1" fill="none"/>
<line x1="161.90" y1="237.50" x2="161.90" y2="305.50" stroke="#333" stroke-width="1.7" stroke-dasharray="2.3 2.7"/>
<path d="M102.3 282.8 L104.3 274.2 L106.3 275.5 L108.3 266.7 L110.3 271.6 L112.3 275.1 L114.3 275.1 L116.3 265.8 L118.3 266.7 L120.3 266.4 L122.3 258.0 L124.3 270.2 L126.3 266.5 L128.3 265.6 L130.3 266.8 L132.3 262.3 L134.3 263.5 L136.3 264.4 L138.3 262.4 L140.3 256.6 L142.3 252.2 L144.3 256.0 L146.3 253.6 L148.3 247.5 L150.3 249.5 L152.3 247.0 L154.3 243.4 L156.3 241.0 L158.3 245.7 L160.3 253.6 L162.3 257.8 L164.3 263.1 L166.3 266.1 L168.3 269.2 L170.3 272.5 L172.3 273.8 L174.3 275.1 L176.3 275.7 L178.3 276.8 L180.3 277.6 L182.3 277.8 L184.3 278.2 L186.3 279.5 L188.3 279.9 L190.3 279.3 L192.3 279.6" stroke="#000000" stroke-width="0.7" fill="none" opacity="1.0"/>
<path d="M102.6 281.0 L104.6 280.4 L106.6 272.3 L108.6 270.3 L110.6 272.8 L112.6 275.9 L114.6 271.2 L116.6 265.7 L118.6 265.9 L120.6 267.0 L122.6 268.8 L124.6 265.0 L126.6 263.4 L128.6 263.3 L130.6 264.2 L132.6 261.2 L134.6 262.8 L136.6 262.5 L138.6 264.7 L140.6 257.6 L142.6 258.6 L144.6 250.9 L146.6 254.8 L148.6 251.0 L150.6 248.3 L152.6 246.2 L154.6 243.1 L156.6 241.0 L158.6 246.8 L160.6 254.5 L162.6 261.8 L164.6 269.0 L166.6 272.1 L168.6 276.0 L170.6 277.9 L172.6 280.4 L174.6 281.2 L176.6 282.5 L178.6 283.6 L180.6 283.8 L182.6 284.4 L184.6 284.1 L186.6 285.4 L188.6 284.2 L190.6 284.4 L192.6 283.6" stroke="#ff1010" stroke-width="0.7" fill="none" opacity="1.0"/>
<path d="M103.0 279.8 L105.0 275.7 L107.0 285.0 L109.0 274.3 L111.0 272.1 L113.0 272.0 L115.0 268.2 L117.0 266.7 L119.0 269.6 L121.0 265.5 L123.0 268.3 L125.0 264.2 L127.0 258.6 L129.0 259.7 L131.0 260.9 L133.0 256.9 L135.0 262.4 L137.0 260.5 L139.0 262.4 L141.0 254.6 L143.0 254.6 L145.0 255.4 L147.0 254.2 L149.0 246.9 L151.0 249.0 L153.0 245.3 L155.0 242.7 L157.0 241.3 L159.0 247.1 L161.0 254.3 L163.0 263.6 L165.0 273.5 L167.0 276.7 L169.0 281.2 L171.0 283.6 L173.0 284.3 L175.0 286.1 L177.0 287.2 L179.0 287.0 L181.0 287.4 L183.0 288.5 L185.0 288.1 L187.0 289.0 L189.0 288.0 L191.0 286.9 L193.0 287.1" stroke="#1c2fb8" stroke-width="0.7" fill="none" opacity="1.0"/>
<path d="M103.3 284.4 L105.3 272.5 L107.3 274.9 L109.3 271.7 L111.3 268.7 L113.3 268.7 L115.3 268.1 L117.3 268.5 L119.3 268.9 L121.3 269.7 L123.3 266.2 L125.3 268.0 L127.3 265.4 L129.3 264.0 L131.3 262.7 L133.3 260.1 L135.3 257.6 L137.3 260.7 L139.3 258.5 L141.3 257.8 L143.3 255.8 L145.3 249.4 L147.3 249.3 L149.3 246.4 L151.3 248.3 L153.3 245.0 L155.3 241.7 L157.3 241.6 L159.3 247.8 L161.3 256.1 L163.3 266.9 L165.3 276.8 L167.3 280.4 L169.3 284.6 L171.3 286.3 L173.3 287.9 L175.3 289.0 L177.3 289.8 L179.3 290.9 L181.3 291.6 L183.3 291.4 L185.3 291.0 L187.3 291.4 L189.3 291.3 L191.3 291.3 L193.3 290.6" stroke="#138a2a" stroke-width="0.7" fill="none" opacity="1.0"/>
<path d="M103.6 276.2 L105.6 269.9 L107.6 278.1 L109.6 282.0 L111.6 272.7 L113.6 274.5 L115.6 273.8 L117.6 271.4 L119.6 270.3 L121.6 270.3 L123.6 264.6 L125.6 259.6 L127.6 258.5 L129.6 265.9 L131.6 264.9 L133.6 262.9 L135.6 254.8 L137.6 260.0 L139.6 258.6 L141.6 253.4 L143.6 252.2 L145.6 260.0 L147.6 255.7 L149.6 252.1 L151.6 247.7 L153.6 244.2 L155.6 241.1 L157.6 243.2 L159.6 249.3 L161.6 258.1 L163.6 271.2 L165.6 279.4 L167.6 284.2 L169.6 289.0 L171.6 290.6 L173.6 291.9 L175.6 292.3 L177.6 292.9 L179.6 295.0 L181.6 293.3 L183.6 295.1 L185.6 294.5 L187.6 294.7 L189.6 293.4 L191.6 294.8" stroke="#c050c0" stroke-width="0.7" fill="none" opacity="1.0"/>
<path d="M104.0 272.3 L106.0 279.9 L108.0 274.6 L110.0 270.3 L112.0 274.0 L114.0 267.1 L116.0 276.5 L118.0 270.4 L120.0 267.3 L122.0 268.9 L124.0 261.7 L126.0 266.4 L128.0 267.3 L129.9 266.9 L131.9 265.2 L133.9 259.8 L135.9 263.3 L137.9 256.5 L139.9 259.3 L141.9 254.6 L143.9 252.3 L145.9 255.3 L147.9 257.5 L149.9 254.1 L151.9 247.0 L153.9 243.6 L155.9 240.6 L157.9 243.4 L159.9 251.1 L161.9 260.6 L163.9 273.2 L165.9 282.9 L167.9 286.9 L169.9 290.7 L171.9 294.0 L173.9 295.3 L175.9 295.9 L177.9 296.5 L179.9 297.1 L181.9 297.0 L183.9 296.8 L185.9 297.7 L187.9 296.8 L189.9 297.4 L191.9 296.3" stroke="#ffa31a" stroke-width="0.7" fill="none" opacity="1.0"/>
<path d="M110.3 271.6h0M150.3 249.5h0M158.3 245.7h0M134.3 263.5h0" stroke="#000000" stroke-width="2.8" stroke-linecap="round" fill="none"/>
<path d="M131.4 260.0h2.4v2.4h-2.4zM141.4 257.4h2.4v2.4h-2.4z" fill="#ff1010"/>
<path d="M108.3 266.7h0M140.3 256.6h0M122.3 258.0h0" stroke="#000000" stroke-width="2.8" stroke-linecap="round" fill="none"/>
<path d="M147.4 249.8h2.4v2.4h-2.4zM157.4 245.6h2.4v2.4h-2.4z" fill="#ff1010"/>
<path d="M148.3 247.5h0" stroke="#000000" stroke-width="2.8" stroke-linecap="round" fill="none"/>
<path d="M109.0 272.8l1.5 1.5l-1.5 1.5l-1.5 -1.5zM113.0 270.5l1.5 1.5l-1.5 1.5l-1.5 -1.5z" fill="#1c2fb8"/>
<path d="M153.4 241.9h2.4v2.4h-2.4zM101.4 279.8h2.4v2.4h-2.4zM111.4 274.7h2.4v2.4h-2.4z" fill="#ff1010"/>
<path d="M118.3 266.7h0" stroke="#000000" stroke-width="2.8" stroke-linecap="round" fill="none"/>
<path d="M131.0 259.4l1.5 1.5l-1.5 1.5l-1.5 -1.5z" fill="#1c2fb8"/>
<path d="M128.3 265.6h0M156.3 241.0h0" stroke="#000000" stroke-width="2.8" stroke-linecap="round" fill="none"/>
<path d="M105.4 271.1h2.4v2.4h-2.4z" fill="#ff1010"/>
<path d="M127.0 257.1l1.5 1.5l-1.5 1.5l-1.5 -1.5z" fill="#1c2fb8"/>
<path d="M114.3 275.1h0" stroke="#000000" stroke-width="2.8" stroke-linecap="round" fill="none"/>
<path d="M137.4 263.5h2.4v2.4h-2.4zM151.4 245.0h2.4v2.4h-2.4z" fill="#ff1010"/>
<path d="M106.3 275.5h0" stroke="#000000" stroke-width="2.8" stroke-linecap="round" fill="none"/>
<path d="M119.3 267.4l1.6 2.7h-3.1z" fill="#138a2a"/>
<path d="M115.4 264.5h2.4v2.4h-2.4zM133.4 261.6h2.4v2.4h-2.4z" fill="#ff1010"/>
<path d="M130.3 266.8h0" stroke="#000000" stroke-width="2.8" stroke-linecap="round" fill="none"/>
<path d="M103.0 278.3l1.5 1.5l-1.5 1.5l-1.5 -1.5z" fill="#1c2fb8"/>
<path d="M136.3 264.4h0" stroke="#000000" stroke-width="2.8" stroke-linecap="round" fill="none"/>
<path d="M141.0 253.1l1.5 1.5l-1.5 1.5l-1.5 -1.5z" fill="#1c2fb8"/>
<path d="M107.3 273.4l1.6 2.7h-3.1zM121.3 268.1l1.6 2.7h-3.1z" fill="#138a2a"/>
<path d="M121.0 264.0l1.5 1.5l-1.5 1.5l-1.5 -1.5z" fill="#1c2fb8"/>
<path d="M147.3 247.8l1.6 2.7h-3.1z" fill="#138a2a"/>
<path d="M155.4 239.8h2.4v2.4h-2.4z" fill="#ff1010"/>
<path d="M112.3 275.1h0" stroke="#000000" stroke-width="2.8" stroke-linecap="round" fill="none"/>
<path d="M115.0 266.7l1.5 1.5l-1.5 1.5l-1.5 -1.5z" fill="#1c2fb8"/>
<path d="M117.3 266.9l1.6 2.7h-3.1z" fill="#138a2a"/>
<path d="M120.1 270.3l2.7 -1.6v3.1z" fill="#c050c0"/>
<path d="M121.4 267.6h2.4v2.4h-2.4z" fill="#ff1010"/>
<path d="M132.3 262.3h0M144.3 256.0h0" stroke="#000000" stroke-width="2.8" stroke-linecap="round" fill="none"/>
<path d="M145.4 253.6h2.4v2.4h-2.4z" fill="#ff1010"/>
<path d="M126.1 258.5l2.7 -1.6v3.1z" fill="#c050c0"/>
<path d="M123.0 266.8l1.5 1.5l-1.5 1.5l-1.5 -1.5zM125.0 262.7l1.5 1.5l-1.5 1.5l-1.5 -1.5z" fill="#1c2fb8"/>
<path d="M124.1 259.6l2.7 -1.6v3.1zM140.1 253.4l2.7 -1.6v3.1z" fill="#c050c0"/>
<path d="M126.3 266.5h0" stroke="#000000" stroke-width="2.8" stroke-linecap="round" fill="none"/>
<path d="M137.0 259.0l1.5 1.5l-1.5 1.5l-1.5 -1.5z" fill="#1c2fb8"/>
<path d="M133.3 258.5l1.6 2.7h-3.1z" fill="#138a2a"/>
<path d="M109.4 271.6h2.4v2.4h-2.4zM139.4 256.4h2.4v2.4h-2.4z" fill="#ff1010"/>
<path d="M133.0 255.4l1.5 1.5l-1.5 1.5l-1.5 -1.5z" fill="#1c2fb8"/>
<path d="M127.3 263.9l1.6 2.7h-3.1z" fill="#138a2a"/>
<path d="M116.3 265.8h0" stroke="#000000" stroke-width="2.8" stroke-linecap="round" fill="none"/>
<path d="M111.3 267.1l1.6 2.7h-3.1z" fill="#138a2a"/>
<path d="M158.1 249.3l2.7 -1.6v3.1z" fill="#c050c0"/>
<path d="M141.3 256.2l1.6 2.7h-3.1z" fill="#138a2a"/>
<path d="M135.4 261.3h2.4v2.4h-2.4z" fill="#ff1010"/>
<path d="M120.3 266.4h0" stroke="#000000" stroke-width="2.8" stroke-linecap="round" fill="none"/>
<path d="M130.1 264.9l2.7 -1.6v3.1z" fill="#c050c0"/>
<path d="M151.0 247.5l1.5 1.5l-1.5 1.5l-1.5 -1.5z" fill="#1c2fb8"/>
<path d="M102.3 282.8h0M152.3 247.0h0" stroke="#000000" stroke-width="2.8" stroke-linecap="round" fill="none"/>
<path d="M103.4 279.2h2.4v2.4h-2.4z" fill="#ff1010"/>
<path d="M124.3 270.2h0M142.3 252.2h0" stroke="#000000" stroke-width="2.8" stroke-linecap="round" fill="none"/>
<path d="M159.0 245.6l1.5 1.5l-1.5 1.5l-1.5 -1.5z" fill="#1c2fb8"/>
<path d="M154.3 243.4h0M138.3 262.4h0" stroke="#000000" stroke-width="2.8" stroke-linecap="round" fill="none"/>
<path d="M151.3 246.8l1.6 2.7h-3.1z" fill="#138a2a"/>
<path d="M123.4 263.8h2.4v2.4h-2.4z" fill="#ff1010"/>
<path d="M104.3 274.2h0" stroke="#000000" stroke-width="2.8" stroke-linecap="round" fill="none"/>
<path d="M113.4 270.0h2.4v2.4h-2.4z" fill="#ff1010"/>
<path d="M155.3 240.1l1.6 2.7h-3.1z" fill="#138a2a"/>
<path d="M149.4 247.1h2.4v2.4h-2.4z" fill="#ff1010"/>
<path d="M146.3 253.6h0" stroke="#000000" stroke-width="2.8" stroke-linecap="round" fill="none"/>
<path d="M157.0 239.8l1.5 1.5l-1.5 1.5l-1.5 -1.5z" fill="#1c2fb8"/>
<path d="M142.1 252.2l2.7 -1.6v3.1z" fill="#c050c0"/>
<path d="M125.3 266.4l1.6 2.7h-3.1z" fill="#138a2a"/>
<path d="M125.4 262.2h2.4v2.4h-2.4z" fill="#ff1010"/>
<path d="M149.3 244.8l1.6 2.7h-3.1zM105.3 270.9l1.6 2.7h-3.1zM135.3 256.0l1.6 2.7h-3.1z" fill="#138a2a"/>
<path d="M133.9 259.8h0M116.0 276.5h0M118.0 270.4h0" stroke="#ffa31a" stroke-width="2.4" stroke-linecap="round" fill="none"/>
<path d="M129.3 262.4l1.6 2.7h-3.1z" fill="#138a2a"/>
<path d="M119.0 268.1l1.5 1.5l-1.5 1.5l-1.5 -1.5z" fill="#1c2fb8"/>
<path d="M118.1 270.3l2.7 -1.6v3.1z" fill="#c050c0"/>
<path d="M129.9 266.9h0M149.9 254.1h0" stroke="#ffa31a" stroke-width="2.4" stroke-linecap="round" fill="none"/>
<path d="M127.4 262.1h2.4v2.4h-2.4z" fill="#ff1010"/>
<path d="M143.3 254.3l1.6 2.7h-3.1z" fill="#138a2a"/>
<path d="M112.0 274.0h0M106.0 279.9h0" stroke="#ffa31a" stroke-width="2.4" stroke-linecap="round" fill="none"/>
<path d="M145.3 247.8l1.6 2.7h-3.1z" fill="#138a2a"/>
<path d="M108.1 282.0l2.7 -1.6v3.1z" fill="#c050c0"/>
<path d="M113.3 267.1l1.6 2.7h-3.1z" fill="#138a2a"/>
<path d="M147.0 252.7l1.5 1.5l-1.5 1.5l-1.5 -1.5z" fill="#1c2fb8"/>
<path d="M134.1 254.8l2.7 -1.6v3.1z" fill="#c050c0"/>
<path d="M107.0 283.5l1.5 1.5l-1.5 1.5l-1.5 -1.5z" fill="#1c2fb8"/>
<path d="M104.1 269.9l2.7 -1.6v3.1z" fill="#c050c0"/>
<path d="M143.4 249.7h2.4v2.4h-2.4z" fill="#ff1010"/>
<path d="M110.1 272.7l2.7 -1.6v3.1z" fill="#c050c0"/>
<path d="M119.4 265.8h2.4v2.4h-2.4z" fill="#ff1010"/>
<path d="M135.0 260.9l1.5 1.5l-1.5 1.5l-1.5 -1.5z" fill="#1c2fb8"/>
<path d="M148.1 252.1l2.7 -1.6v3.1z" fill="#c050c0"/>
<path d="M123.3 264.6l1.6 2.7h-3.1z" fill="#138a2a"/>
<path d="M117.4 264.7h2.4v2.4h-2.4z" fill="#ff1010"/>
<path d="M111.0 270.6l1.5 1.5l-1.5 1.5l-1.5 -1.5z" fill="#1c2fb8"/>
<path d="M139.3 256.9l1.6 2.7h-3.1z" fill="#138a2a"/>
<path d="M122.1 264.6l2.7 -1.6v3.1z" fill="#c050c0"/>
<path d="M107.4 269.1h2.4v2.4h-2.4z" fill="#ff1010"/>
<path d="M155.0 241.2l1.5 1.5l-1.5 1.5l-1.5 -1.5z" fill="#1c2fb8"/>
<path d="M156.1 243.2l2.7 -1.6v3.1z" fill="#c050c0"/>
<path d="M129.4 263.0h2.4v2.4h-2.4z" fill="#ff1010"/>
<path d="M112.1 274.5l2.7 -1.6v3.1zM154.1 241.1l2.7 -1.6v3.1z" fill="#c050c0"/>
<path d="M157.3 240.0l1.6 2.7h-3.1z" fill="#138a2a"/>
<path d="M153.0 243.8l1.5 1.5l-1.5 1.5l-1.5 -1.5z" fill="#1c2fb8"/>
<path d="M104.0 272.3h0" stroke="#ffa31a" stroke-width="2.4" stroke-linecap="round" fill="none"/>
<path d="M105.0 274.2l1.5 1.5l-1.5 1.5l-1.5 -1.5z" fill="#1c2fb8"/>
<path d="M103.3 282.8l1.6 2.7h-3.1z" fill="#138a2a"/>
<path d="M149.0 245.4l1.5 1.5l-1.5 1.5l-1.5 -1.5zM145.0 253.9l1.5 1.5l-1.5 1.5l-1.5 -1.5zM117.0 265.2l1.5 1.5l-1.5 1.5l-1.5 -1.5z" fill="#1c2fb8"/>
<path d="M109.3 270.1l1.6 2.7h-3.1z" fill="#138a2a"/>
<path d="M106.1 278.1l2.7 -1.6v3.1z" fill="#c050c0"/>
<path d="M155.9 240.6h0" stroke="#ffa31a" stroke-width="2.4" stroke-linecap="round" fill="none"/>
<path d="M146.1 255.7l2.7 -1.6v3.1z" fill="#c050c0"/>
<path d="M159.9 251.1h0" stroke="#ffa31a" stroke-width="2.4" stroke-linecap="round" fill="none"/>
<path d="M115.3 266.5l1.6 2.7h-3.1z" fill="#138a2a"/>
<path d="M143.9 252.3h0M122.0 268.9h0" stroke="#ffa31a" stroke-width="2.4" stroke-linecap="round" fill="none"/>
<path d="M153.3 243.4l1.6 2.7h-3.1z" fill="#138a2a"/>
<path d="M143.0 253.1l1.5 1.5l-1.5 1.5l-1.5 -1.5zM139.0 260.9l1.5 1.5l-1.5 1.5l-1.5 -1.5zM129.0 258.2l1.5 1.5l-1.5 1.5l-1.5 -1.5z" fill="#1c2fb8"/>
<path d="M137.3 259.1l1.6 2.7h-3.1z" fill="#138a2a"/>
<path d="M132.1 262.9l2.7 -1.6v3.1z" fill="#c050c0"/>
<path d="M131.3 261.2l1.6 2.7h-3.1z" fill="#138a2a"/>
<path d="M110.0 270.3h0" stroke="#ffa31a" stroke-width="2.4" stroke-linecap="round" fill="none"/>
<path d="M128.1 265.9l2.7 -1.6v3.1zM150.1 247.7l2.7 -1.6v3.1z" fill="#c050c0"/>
<path d="M135.9 263.3h0M108.0 274.6h0" stroke="#ffa31a" stroke-width="2.4" stroke-linecap="round" fill="none"/>
<path d="M114.1 273.8l2.7 -1.6v3.1z" fill="#c050c0"/>
<path d="M114.0 267.1h0M126.0 266.4h0" stroke="#ffa31a" stroke-width="2.4" stroke-linecap="round" fill="none"/>
<path d="M159.3 246.3l1.6 2.7h-3.1z" fill="#138a2a"/>
<path d="M120.0 267.3h0" stroke="#ffa31a" stroke-width="2.4" stroke-linecap="round" fill="none"/>
<path d="M152.1 244.2l2.7 -1.6v3.1zM138.1 258.6l2.7 -1.6v3.1z" fill="#c050c0"/>
<path d="M145.9 255.3h0M128.0 267.3h0" stroke="#ffa31a" stroke-width="2.4" stroke-linecap="round" fill="none"/>
<path d="M102.1 276.2l2.7 -1.6v3.1zM116.1 271.4l2.7 -1.6v3.1zM136.1 260.0l2.7 -1.6v3.1z" fill="#c050c0"/>
<path d="M157.9 243.4h0" stroke="#ffa31a" stroke-width="2.4" stroke-linecap="round" fill="none"/>
<path d="M144.1 260.0l2.7 -1.6v3.1z" fill="#c050c0"/>
<path d="M147.9 257.5h0M131.9 265.2h0M141.9 254.6h0M124.0 261.7h0M139.9 259.3h0M153.9 243.6h0M137.9 256.5h0M151.9 247.0h0" stroke="#ffa31a" stroke-width="2.4" stroke-linecap="round" fill="none"/>
<path d="M160.3 253.6h0M162.3 257.8h0M164.3 263.1h0M166.3 266.1h0M168.3 269.2h0M170.3 272.5h0M172.3 273.8h0M174.3 275.1h0M176.3 275.7h0M178.3 276.8h0M180.3 277.6h0M182.3 277.8h0M184.3 278.2h0M186.3 279.5h0M188.3 279.9h0M190.3 279.3h0M192.3 279.6h0" stroke="#000000" stroke-width="2.8" stroke-linecap="round" fill="none"/>
<path d="M159.4 253.3h2.4v2.4h-2.4zM161.4 260.6h2.4v2.4h-2.4zM163.4 267.8h2.4v2.4h-2.4zM165.4 270.9h2.4v2.4h-2.4zM167.4 274.8h2.4v2.4h-2.4zM169.4 276.7h2.4v2.4h-2.4zM171.4 279.2h2.4v2.4h-2.4zM173.4 280.0h2.4v2.4h-2.4zM175.4 281.3h2.4v2.4h-2.4zM177.4 282.4h2.4v2.4h-2.4zM179.4 282.6h2.4v2.4h-2.4zM181.4 283.2h2.4v2.4h-2.4zM183.4 282.9h2.4v2.4h-2.4zM185.4 284.2h2.4v2.4h-2.4zM187.4 283.0h2.4v2.4h-2.4zM189.4 283.2h2.4v2.4h-2.4zM191.4 282.4h2.4v2.4h-2.4z" fill="#ff1010"/>
<path d="M161.0 252.8l1.5 1.5l-1.5 1.5l-1.5 -1.5zM163.0 262.1l1.5 1.5l-1.5 1.5l-1.5 -1.5zM165.0 272.0l1.5 1.5l-1.5 1.5l-1.5 -1.5zM167.0 275.2l1.5 1.5l-1.5 1.5l-1.5 -1.5zM169.0 279.7l1.5 1.5l-1.5 1.5l-1.5 -1.5zM171.0 282.1l1.5 1.5l-1.5 1.5l-1.5 -1.5zM173.0 282.8l1.5 1.5l-1.5 1.5l-1.5 -1.5zM175.0 284.6l1.5 1.5l-1.5 1.5l-1.5 -1.5zM177.0 285.7l1.5 1.5l-1.5 1.5l-1.5 -1.5zM179.0 285.5l1.5 1.5l-1.5 1.5l-1.5 -1.5zM181.0 285.9l1.5 1.5l-1.5 1.5l-1.5 -1.5zM183.0 287.0l1.5 1.5l-1.5 1.5l-1.5 -1.5zM185.0 286.6l1.5 1.5l-1.5 1.5l-1.5 -1.5zM187.0 287.5l1.5 1.5l-1.5 1.5l-1.5 -1.5zM189.0 286.5l1.5 1.5l-1.5 1.5l-1.5 -1.5zM191.0 285.4l1.5 1.5l-1.5 1.5l-1.5 -1.5zM193.0 285.6l1.5 1.5l-1.5 1.5l-1.5 -1.5z" fill="#1c2fb8"/>
<path d="M161.3 254.5l1.6 2.7h-3.1zM163.3 265.4l1.6 2.7h-3.1zM165.3 275.2l1.6 2.7h-3.1zM167.3 278.8l1.6 2.7h-3.1zM169.3 283.0l1.6 2.7h-3.1zM171.3 284.8l1.6 2.7h-3.1zM173.3 286.3l1.6 2.7h-3.1zM175.3 287.4l1.6 2.7h-3.1zM177.3 288.2l1.6 2.7h-3.1zM179.3 289.4l1.6 2.7h-3.1zM181.3 290.0l1.6 2.7h-3.1zM183.3 289.9l1.6 2.7h-3.1zM185.3 289.4l1.6 2.7h-3.1zM187.3 289.9l1.6 2.7h-3.1zM189.3 289.7l1.6 2.7h-3.1zM191.3 289.7l1.6 2.7h-3.1zM193.3 289.1l1.6 2.7h-3.1z" fill="#138a2a"/>
<path d="M160.1 258.1l2.7 -1.6v3.1zM162.1 271.2l2.7 -1.6v3.1zM164.1 279.4l2.7 -1.6v3.1zM166.1 284.2l2.7 -1.6v3.1zM168.1 289.0l2.7 -1.6v3.1zM170.1 290.6l2.7 -1.6v3.1zM172.1 291.9l2.7 -1.6v3.1zM174.1 292.3l2.7 -1.6v3.1zM176.1 292.9l2.7 -1.6v3.1zM178.1 295.0l2.7 -1.6v3.1zM180.1 293.3l2.7 -1.6v3.1zM182.1 295.1l2.7 -1.6v3.1zM184.1 294.5l2.7 -1.6v3.1zM186.1 294.7l2.7 -1.6v3.1zM188.1 293.4l2.7 -1.6v3.1zM190.1 294.8l2.7 -1.6v3.1z" fill="#c050c0"/>
<path d="M161.9 260.6h0M163.9 273.2h0M165.9 282.9h0M167.9 286.9h0M169.9 290.7h0M171.9 294.0h0M173.9 295.3h0M175.9 295.9h0M177.9 296.5h0M179.9 297.1h0M181.9 297.0h0M183.9 296.8h0M185.9 297.7h0M187.9 296.8h0M189.9 297.4h0M191.9 296.3h0" stroke="#ffa31a" stroke-width="2.4" stroke-linecap="round" fill="none"/>
<text x="89.04" y="246.24" font-family="&quot;Liberation Sans&quot;, sans-serif" font-size="6.34" font-weight="normal" font-style="normal" fill="#000" textLength="9.84" lengthAdjust="spacingAndGlyphs" stroke="#000" stroke-width="0.19">10</text>
<text x="98.81" y="243.15" font-family="&quot;Liberation Sans&quot;, sans-serif" font-size="4.79" font-weight="normal" font-style="normal" fill="#000" stroke="#000" stroke-width="0.14">0</text>
<text x="88.31" y="287.84" font-family="&quot;Liberation Sans&quot;, sans-serif" font-size="6.34" font-weight="normal" font-style="normal" fill="#000" textLength="10.28" lengthAdjust="spacingAndGlyphs" stroke="#000" stroke-width="0.19">10</text>
<text x="98.37" y="284.80" font-family="&quot;Liberation Sans&quot;, sans-serif" font-size="5.22" font-weight="normal" font-style="normal" fill="#000" stroke="#000" stroke-width="0.16">-1</text>
<text x="96.22" y="316.23" font-family="&quot;Liberation Sans&quot;, sans-serif" font-size="6.62" font-weight="normal" font-style="normal" fill="#000" textLength="8.61" lengthAdjust="spacingAndGlyphs" stroke="#000" stroke-width="0.20">10</text>
<text x="104.59" y="313.00" font-family="&quot;Liberation Sans&quot;, sans-serif" font-size="4.64" font-weight="normal" font-style="normal" fill="#000" stroke="#000" stroke-width="0.14">-1</text>
<text x="187.93" y="316.53" font-family="&quot;Liberation Sans&quot;, sans-serif" font-size="6.76" font-weight="normal" font-style="normal" fill="#000" textLength="8.38" lengthAdjust="spacingAndGlyphs" stroke="#000" stroke-width="0.20">10</text>
<text x="196.09" y="313.15" font-family="&quot;Liberation Sans&quot;, sans-serif" font-size="5.35" font-weight="normal" font-style="normal" fill="#000" stroke="#000" stroke-width="0.16">0</text>
<text transform="translate(78.06,311.74) rotate(-90)" font-family="&quot;Liberation Sans&quot;, sans-serif" font-size="12.09" font-weight="bold" font-style="normal" fill="#000" textLength="58.49" lengthAdjust="spacingAndGlyphs" stroke="#000" stroke-width="0.45">rms(Ln(PR</text>
<text transform="translate(83.18,252.92) rotate(-90)" font-family="&quot;Liberation Sans&quot;, sans-serif" font-size="6.26" font-weight="bold" font-style="normal" fill="#000" textLength="13.95" lengthAdjust="spacingAndGlyphs" stroke="#000" stroke-width="0.45">q=2</text>
<text transform="translate(78.25,238.86) rotate(-90)" font-family="&quot;Liberation Sans&quot;, sans-serif" font-size="11.66" font-weight="bold" font-style="normal" fill="#000" textLength="7.69" lengthAdjust="spacingAndGlyphs" stroke="#000" stroke-width="0.45">))</text>
<text x="132.12" y="327.88" font-family="&quot;Liberation Serif&quot;, serif" font-size="11.87" font-weight="normal" font-style="normal" fill="#000" textLength="7.40" lengthAdjust="spacingAndGlyphs" stroke="#000" stroke-width="0.30">Γ</text>
<text x="138.87" y="332.63" font-family="&quot;Liberation Sans&quot;, sans-serif" font-size="7.75" font-weight="bold" font-style="normal" fill="#000" stroke="#000" stroke-width="0.35">k</text>
<text x="146.00" y="327.87" font-family="&quot;Liberation Sans&quot;, sans-serif" font-size="11.16" font-weight="bold" font-style="normal" fill="#000" stroke="#000" stroke-width="0.45">/</text>
<text x="152.97" y="327.88" font-family="&quot;Liberation Serif&quot;, serif" font-size="11.87" font-weight="normal" font-style="normal" fill="#000" textLength="7.27" lengthAdjust="spacingAndGlyphs" stroke="#000" stroke-width="0.30">Γ</text>
<text x="159.85" y="332.88" font-family="&quot;Liberation Sans&quot;, sans-serif" font-size="7.45" font-weight="bold" font-style="normal" fill="#000" stroke="#000" stroke-width="0.34">0</text>
<rect x="252.40" y="303.30" width="45.60" height="70.50" stroke="#777" stroke-width="1" fill="#fff"/>
<line x1="257.10" y1="310.30" x2="268.50" y2="310.30" stroke="#000000" stroke-width="0.8" opacity="0.55"/>
<path d="M257.1 310.3h0M268.5 310.3h0" stroke="#000000" stroke-width="3.2" stroke-linecap="round" fill="none"/>
<text x="273.17" y="314.27" font-family="&quot;Liberation Sans&quot;, sans-serif" font-size="8.14" font-weight="normal" font-style="normal" fill="#000" textLength="18.97" lengthAdjust="spacingAndGlyphs" stroke="#000" stroke-width="0.24">N=15</text>
<text x="292.58" y="309.73" font-family="&quot;Liberation Sans&quot;, sans-serif" font-size="5.54" font-weight="normal" font-style="normal" fill="#000" stroke="#000" stroke-width="0.17">3</text>
<line x1="257.10" y1="321.65" x2="268.50" y2="321.65" stroke="#ff1010" stroke-width="0.8" opacity="0.55"/>
<path d="M255.5 320.1h3.2v3.2h-3.2zM266.9 320.1h3.2v3.2h-3.2z" fill="#ff1010"/>
<text x="273.17" y="325.62" font-family="&quot;Liberation Sans&quot;, sans-serif" font-size="8.03" font-weight="normal" font-style="normal" fill="#000" textLength="18.97" lengthAdjust="spacingAndGlyphs" stroke="#000" stroke-width="0.24">N=20</text>
<text x="292.58" y="321.08" font-family="&quot;Liberation Sans&quot;, sans-serif" font-size="5.54" font-weight="normal" font-style="normal" fill="#000" stroke="#000" stroke-width="0.17">3</text>
<line x1="257.10" y1="333.00" x2="268.50" y2="333.00" stroke="#1c2fb8" stroke-width="0.8" opacity="0.55"/>
<path d="M257.1 331.0l2.0 2.0l-2.0 2.0l-2.0 -2.0zM268.5 331.0l2.0 2.0l-2.0 2.0l-2.0 -2.0z" fill="#1c2fb8"/>
<text x="273.18" y="337.05" font-family="&quot;Liberation Sans&quot;, sans-serif" font-size="8.14" font-weight="normal" font-style="normal" fill="#000" textLength="18.89" lengthAdjust="spacingAndGlyphs" stroke="#000" stroke-width="0.24">N=24</text>
<text x="292.58" y="332.43" font-family="&quot;Liberation Sans&quot;, sans-serif" font-size="5.54" font-weight="normal" font-style="normal" fill="#000" stroke="#000" stroke-width="0.17">3</text>
<line x1="257.10" y1="344.35" x2="268.50" y2="344.35" stroke="#138a2a" stroke-width="0.8" opacity="0.55"/>
<path d="M257.1 342.3l2.1 3.5h-4.2zM268.5 342.3l2.1 3.5h-4.2z" fill="#138a2a"/>
<text x="273.17" y="348.32" font-family="&quot;Liberation Sans&quot;, sans-serif" font-size="8.03" font-weight="normal" font-style="normal" fill="#000" textLength="18.97" lengthAdjust="spacingAndGlyphs" stroke="#000" stroke-width="0.24">N=28</text>
<text x="292.58" y="343.78" font-family="&quot;Liberation Sans&quot;, sans-serif" font-size="5.54" font-weight="normal" font-style="normal" fill="#000" stroke="#000" stroke-width="0.17">3</text>
<line x1="257.10" y1="355.70" x2="268.50" y2="355.70" stroke="#c050c0" stroke-width="0.8" opacity="0.55"/>
<path d="M255.0 355.7l3.5 -2.1v4.2zM266.4 355.7l3.5 -2.1v4.2z" fill="#c050c0"/>
<text x="273.17" y="359.67" font-family="&quot;Liberation Sans&quot;, sans-serif" font-size="8.03" font-weight="normal" font-style="normal" fill="#000" textLength="19.05" lengthAdjust="spacingAndGlyphs" stroke="#000" stroke-width="0.24">N=32</text>
<text x="292.58" y="355.13" font-family="&quot;Liberation Sans&quot;, sans-serif" font-size="5.54" font-weight="normal" font-style="normal" fill="#000" stroke="#000" stroke-width="0.17">3</text>
<line x1="257.10" y1="367.05" x2="268.50" y2="367.05" stroke="#ffa31a" stroke-width="0.8" opacity="0.55"/>
<path d="M257.1 367.1h0M268.5 367.1h0" stroke="#ffa31a" stroke-width="3.2" stroke-linecap="round" fill="none"/>
<text x="273.17" y="371.02" font-family="&quot;Liberation Sans&quot;, sans-serif" font-size="8.03" font-weight="normal" font-style="normal" fill="#000" textLength="19.01" lengthAdjust="spacingAndGlyphs" stroke="#000" stroke-width="0.24">N=36</text>
<text x="292.58" y="366.48" font-family="&quot;Liberation Sans&quot;, sans-serif" font-size="5.54" font-weight="normal" font-style="normal" fill="#000" stroke="#000" stroke-width="0.17">3</text>
<text x="344.65" y="47.99" font-family="&quot;Liberation Sans&quot;, sans-serif" font-size="21.27" font-weight="bold" font-style="normal" fill="#000" stroke="#000" stroke-width="0.45">c</text>
<text x="356.90" y="47.13" font-family="&quot;Liberation Sans&quot;, sans-serif" font-size="22.25" font-weight="bold" font-style="normal" fill="#000" textLength="6.90" lengthAdjust="spacingAndGlyphs" stroke="#000" stroke-width="0.45">)</text>
<text x="447.45" y="11.67" font-family="&quot;Liberation Serif&quot;, serif" font-size="8.74" font-weight="bold" font-style="italic" fill="#000" textLength="51.97" lengthAdjust="spacingAndGlyphs" stroke="#000" stroke-width="0.39">VECTORIAL</text>
<text x="504.74" y="11.71" font-family="&quot;Liberation Serif&quot;, serif" font-size="8.81" font-weight="bold" font-style="italic" fill="#000" textLength="34.20" lengthAdjust="spacingAndGlyphs" stroke="#000" stroke-width="0.40">MODEL</text>
<text x="541.76" y="11.88" font-family="&quot;Liberation Serif&quot;, serif" font-size="8.91" font-weight="normal" font-style="italic" fill="#000" textLength="9.33" lengthAdjust="spacingAndGlyphs" stroke="#000" stroke-width="0.27">ρλ</text>
<text x="551.22" y="7.52" font-family="&quot;Liberation Serif&quot;, serif" font-size="7.61" font-weight="normal" font-style="normal" fill="#000" stroke="#000" stroke-width="0.23">3</text>
<text x="555.40" y="12.12" font-family="&quot;Liberation Serif&quot;, serif" font-size="8.30" font-weight="normal" font-style="normal" fill="#000" textLength="12.62" lengthAdjust="spacingAndGlyphs" stroke="#000" stroke-width="0.25">=40</text>
<text x="569.40" y="12.06" font-family="&quot;Liberation Serif&quot;, serif" font-size="9.30" font-weight="normal" font-style="normal" fill="#000" textLength="30.76" lengthAdjust="spacingAndGlyphs" stroke="#000" stroke-width="0.28">W=0.5b</text>
<text x="600.40" y="17.72" font-family="&quot;Liberation Serif&quot;, serif" font-size="7.56" font-weight="normal" font-style="normal" fill="#000" stroke="#000" stroke-width="0.23">0</text>
<path d="M502.40 166.30v-4M502.40 15.50v4M637.40 166.30v-4M637.40 15.50v4M408.04 166.30v-2M408.04 15.50v2M431.81 166.30v-2M431.81 15.50v2M448.68 166.30v-2M448.68 15.50v2M461.76 166.30v-2M461.76 15.50v2M472.45 166.30v-2M472.45 15.50v2M481.49 166.30v-2M481.49 15.50v2M489.32 166.30v-2M489.32 15.50v2M496.22 166.30v-2M496.22 15.50v2M543.04 166.30v-2M543.04 15.50v2M566.81 166.30v-2M566.81 15.50v2M583.68 166.30v-2M583.68 15.50v2M596.76 166.30v-2M596.76 15.50v2M607.45 166.30v-2M607.45 15.50v2M616.49 166.30v-2M616.49 15.50v2M624.32 166.30v-2M624.32 15.50v2M631.22 166.30v-2M631.22 15.50v2M408.60 166.30h4M648.00 166.30h-4M408.60 120.55h4M648.00 120.55h-4M408.60 74.80h4M648.00 74.80h-4M408.60 29.05h4M648.00 29.05h-4M408.60 152.53h2M648.00 152.53h-2M408.60 144.47h2M648.00 144.47h-2M408.60 138.76h2M648.00 138.76h-2M408.60 134.32h2M648.00 134.32h-2M408.60 130.70h2M648.00 130.70h-2M408.60 127.64h2M648.00 127.64h-2M408.60 124.98h2M648.00 124.98h-2M408.60 122.64h2M648.00 122.64h-2M408.60 106.78h2M648.00 106.78h-2M408.60 98.72h2M648.00 98.72h-2M408.60 93.01h2M648.00 93.01h-2M408.60 88.57h2M648.00 88.57h-2M408.60 84.95h2M648.00 84.95h-2M408.60 81.89h2M648.00 81.89h-2M408.60 79.23h2M648.00 79.23h-2M408.60 76.89h2M648.00 76.89h-2M408.60 61.03h2M648.00 61.03h-2M408.60 52.97h2M648.00 52.97h-2M408.60 47.26h2M648.00 47.26h-2M408.60 42.82h2M648.00 42.82h-2M408.60 39.20h2M648.00 39.20h-2M408.60 36.14h2M648.00 36.14h-2M408.60 33.48h2M648.00 33.48h-2M408.60 31.14h2M648.00 31.14h-2M408.60 15.28h2M648.00 15.28h-2" stroke="#8a8a8a" stroke-width="1" fill="none"/>
<rect x="408.60" y="15.50" width="239.40" height="150.80" stroke="#8a8a8a" stroke-width="1" fill="none"/>
<text x="392.50" y="171.81" font-family="&quot;Liberation Sans&quot;, sans-serif" font-size="8.73" font-weight="normal" font-style="normal" fill="#000" textLength="10.40" lengthAdjust="spacingAndGlyphs" stroke="#000" stroke-width="0.26">10</text>
<text x="402.74" y="166.33" font-family="&quot;Liberation Sans&quot;, sans-serif" font-size="6.62" font-weight="normal" font-style="normal" fill="#000" stroke="#000" stroke-width="0.20">0</text>
<text x="392.50" y="126.06" font-family="&quot;Liberation Sans&quot;, sans-serif" font-size="8.73" font-weight="normal" font-style="normal" fill="#000" textLength="10.40" lengthAdjust="spacingAndGlyphs" stroke="#000" stroke-width="0.26">10</text>
<text x="402.49" y="120.65" font-family="&quot;Liberation Sans&quot;, sans-serif" font-size="6.81" font-weight="normal" font-style="normal" fill="#000" stroke="#000" stroke-width="0.20">1</text>
<text x="392.50" y="80.31" font-family="&quot;Liberation Sans&quot;, sans-serif" font-size="8.73" font-weight="normal" font-style="normal" fill="#000" textLength="10.40" lengthAdjust="spacingAndGlyphs" stroke="#000" stroke-width="0.26">10</text>
<text x="402.66" y="74.90" font-family="&quot;Liberation Sans&quot;, sans-serif" font-size="6.71" font-weight="normal" font-style="normal" fill="#000" stroke="#000" stroke-width="0.20">2</text>
<text x="392.50" y="34.56" font-family="&quot;Liberation Sans&quot;, sans-serif" font-size="8.73" font-weight="normal" font-style="normal" fill="#000" textLength="10.40" lengthAdjust="spacingAndGlyphs" stroke="#000" stroke-width="0.26">10</text>
<text x="402.74" y="29.08" font-family="&quot;Liberation Sans&quot;, sans-serif" font-size="6.62" font-weight="normal" font-style="normal" fill="#000" stroke="#000" stroke-width="0.20">3</text>
<text x="496.63" y="175.72" font-family="&quot;Liberation Sans&quot;, sans-serif" font-size="7.89" font-weight="normal" font-style="normal" fill="#000" textLength="12.73" lengthAdjust="spacingAndGlyphs" stroke="#000" stroke-width="0.24">0.1</text>
<text x="636.39" y="175.80" font-family="&quot;Liberation Sans&quot;, sans-serif" font-size="8.12" font-weight="normal" font-style="normal" fill="#000" stroke="#000" stroke-width="0.24">1</text>
<text transform="translate(384.70,111.31) rotate(-90)" font-family="&quot;Liberation Sans&quot;, sans-serif" font-size="11.16" font-weight="bold" font-style="normal" fill="#000" textLength="15.28" lengthAdjust="spacingAndGlyphs" stroke="#000" stroke-width="0.45">PR</text>
<text transform="translate(387.46,96.30) rotate(-90)" font-family="&quot;Liberation Sans&quot;, sans-serif" font-size="4.95" font-weight="bold" font-style="normal" fill="#000" textLength="13.32" lengthAdjust="spacingAndGlyphs" stroke="#000" stroke-width="0.45">q=2</text>
<text x="517.77" y="184.40" font-family="&quot;Liberation Serif&quot;, serif" font-size="9.47" font-weight="normal" font-style="normal" fill="#000" textLength="8.19" lengthAdjust="spacingAndGlyphs" stroke="#000" stroke-width="0.28">Γ</text>
<text x="524.29" y="188.30" font-family="&quot;Liberation Serif&quot;, serif" font-size="10.43" font-weight="normal" font-style="normal" fill="#000" stroke="#000" stroke-width="0.30">κ</text>
<text x="528.50" y="185.39" font-family="&quot;Liberation Serif&quot;, serif" font-size="11.19" font-weight="normal" font-style="normal" fill="#000" textLength="8.82" lengthAdjust="spacingAndGlyphs" stroke="#000" stroke-width="0.30">/Γ</text>
<text x="536.20" y="188.22" font-family="&quot;Liberation Serif&quot;, serif" font-size="7.56" font-weight="normal" font-style="normal" fill="#000" stroke="#000" stroke-width="0.23">0</text>
<line x1="565.10" y1="15.50" x2="565.10" y2="166.30" stroke="#333" stroke-width="1.4" stroke-dasharray="1.9 2.2"/>
<path d="M408.7 152.1 L412.1 151.8 L415.5 151.0 L418.9 151.9 L422.3 151.4 L425.7 151.3 L429.1 151.0 L432.5 151.5 L435.9 151.0 L439.3 150.9 L442.7 149.9 L446.1 149.6 L449.5 149.0 L452.9 149.2 L456.3 147.6 L459.7 149.6 L463.1 148.6 L466.5 148.2 L469.9 148.3 L473.3 147.3 L476.7 147.3 L480.1 147.2 L483.5 145.6 L486.9 146.9 L490.3 145.5 L493.7 145.2 L497.1 143.7 L500.5 143.2 L503.9 143.6 L507.3 141.6 L510.7 140.7 L514.1 140.2 L517.5 139.5 L520.9 136.2 L524.3 136.9 L527.7 134.5 L531.1 132.9 L534.5 129.5 L537.9 127.6 L541.3 124.7 L544.7 121.2 L548.1 117.6 L551.5 113.5 L554.9 109.0 L558.3 105.4 L561.7 102.0 L565.1 98.5 L568.5 95.8 L571.9 93.1 L575.3 90.8 L578.7 89.3 L582.1 86.8 L585.5 85.2 L588.9 82.9 L592.3 81.1 L595.7 79.8 L599.1 78.3 L602.5 77.2 L605.9 76.3 L609.3 75.6 L612.7 75.2 L616.1 74.8 L619.5 73.8 L622.9 73.3 L626.3 73.1 L629.7 72.6 L633.1 72.4 L636.5 71.8 L639.9 71.7 L643.3 71.5 L646.7 71.1" stroke="#000000" stroke-width="0.8" fill="none" opacity="1.0"/>
<path d="M409.3 150.9 L412.7 150.6 L416.1 149.9 L419.5 151.1 L422.9 149.1 L426.3 149.8 L429.7 150.0 L433.1 149.7 L436.5 149.5 L439.9 148.4 L443.3 149.7 L446.7 148.1 L450.1 148.2 L453.5 148.0 L456.9 147.7 L460.3 147.2 L463.7 147.9 L467.1 146.9 L470.5 147.0 L473.9 145.4 L477.3 146.1 L480.7 145.3 L484.1 145.2 L487.5 144.7 L490.9 144.3 L494.3 143.4 L497.7 142.8 L501.1 142.2 L504.5 141.4 L507.9 140.5 L511.3 139.3 L514.7 138.7 L518.1 136.8 L521.5 137.0 L524.9 134.9 L528.3 133.5 L531.7 130.6 L535.1 127.5 L538.5 124.4 L541.9 121.7 L545.3 118.0 L548.7 113.0 L552.1 106.4 L555.5 99.7 L558.9 93.4 L562.3 88.4 L565.7 81.2 L569.1 76.6 L572.5 72.9 L575.9 70.4 L579.3 67.9 L582.7 66.2 L586.1 64.4 L589.5 62.8 L592.9 61.6 L596.3 60.4 L599.7 59.0 L603.1 57.6 L606.5 56.1 L609.9 55.3 L613.3 55.0 L616.7 54.0 L620.1 53.2 L623.5 52.5 L626.9 51.9 L630.3 51.9 L633.7 51.6 L637.1 51.0 L640.5 50.7 L643.9 50.7 L647.3 50.7" stroke="#ff1010" stroke-width="0.7" fill="none" opacity="1.0"/>
<path d="M409.9 149.9 L413.3 150.1 L416.7 150.4 L420.1 149.7 L423.5 149.3 L426.9 148.8 L430.3 149.8 L433.7 149.1 L437.1 148.7 L440.5 148.3 L443.9 147.4 L447.3 148.4 L450.7 147.6 L454.1 147.8 L457.5 148.3 L460.9 147.1 L464.3 146.9 L467.7 147.2 L471.1 146.3 L474.5 146.1 L477.9 145.1 L481.3 144.8 L484.7 144.1 L488.1 144.9 L491.5 144.5 L494.9 143.1 L498.3 142.6 L501.7 141.7 L505.1 142.5 L508.5 140.8 L511.9 139.2 L515.3 138.6 L518.7 137.7 L522.1 135.2 L525.5 134.5 L528.9 132.7 L532.3 130.3 L535.7 128.1 L539.1 125.2 L542.5 121.3 L545.9 116.6 L549.3 110.8 L552.7 103.3 L556.1 92.7 L559.5 81.2 L562.9 73.5 L566.3 66.8 L569.7 61.2 L573.1 58.0 L576.5 55.4 L579.9 53.2 L583.3 51.3 L586.7 49.6 L590.1 47.9 L593.5 46.7 L596.9 45.6 L600.3 44.4 L603.7 43.5 L607.1 42.7 L610.5 42.2 L613.9 41.3 L617.3 40.8 L620.7 40.3 L624.1 39.8 L627.5 39.0 L630.9 38.7 L634.3 38.2 L637.7 37.8 L641.1 37.5 L644.5 37.3 L647.9 36.9" stroke="#3ac43a" stroke-width="0.7" fill="none" opacity="1.0"/>
<path d="M410.5 149.9 L413.9 150.3 L417.3 150.8 L420.7 149.1 L424.1 150.2 L427.5 149.3 L430.9 150.0 L434.3 149.1 L437.7 149.0 L441.1 149.0 L444.5 148.3 L447.9 148.4 L451.3 148.0 L454.7 148.6 L458.1 147.7 L461.5 146.5 L464.9 147.2 L468.3 146.8 L471.7 146.4 L475.1 146.7 L478.5 146.1 L481.9 144.5 L485.3 145.5 L488.7 144.1 L492.1 143.6 L495.5 142.9 L498.9 142.4 L502.3 142.1 L505.7 140.3 L509.1 140.0 L512.5 138.7 L515.9 137.8 L519.3 136.4 L522.7 135.6 L526.1 134.2 L529.5 131.5 L532.9 129.9 L536.3 126.2 L539.7 124.0 L543.1 120.7 L546.5 115.2 L549.9 109.2 L553.3 100.4 L556.7 86.3 L560.1 72.0 L563.5 62.9 L566.9 56.6 L570.3 50.5 L573.7 47.1 L577.1 44.3 L580.5 42.6 L583.9 41.2 L587.3 39.7 L590.7 38.4 L594.1 37.0 L597.5 36.0 L600.9 34.8 L604.3 33.7 L607.7 32.9 L611.1 32.1 L614.5 31.2 L617.9 30.7 L621.3 30.0 L624.7 29.2 L628.1 28.4 L631.5 28.1 L634.9 27.7 L638.3 26.9 L641.7 26.7 L645.1 26.5" stroke="#1a2ad0" stroke-width="0.7" fill="none" opacity="1.0"/>
<path d="M429.1 151.0h0M493.7 145.2h0M480.1 147.2h0M425.7 151.3h0M534.5 129.5h0M537.9 127.6h0M459.7 149.6h0" stroke="#000000" stroke-width="3.7" stroke-linecap="round" fill="none"/>
<path d="M530.1 129.1h3.1v3.1h-3.1zM536.9 122.9h3.1v3.1h-3.1zM496.1 141.3h3.1v3.1h-3.1z" fill="#ff1010"/>
<path d="M439.3 150.9h0M408.7 152.1h0" stroke="#000000" stroke-width="3.7" stroke-linecap="round" fill="none"/>
<path d="M506.3 138.9h3.1v3.1h-3.1z" fill="#ff1010"/>
<path d="M435.9 151.0h0M490.3 145.5h0" stroke="#000000" stroke-width="3.7" stroke-linecap="round" fill="none"/>
<path d="M516.5 135.3h3.1v3.1h-3.1zM462.1 146.4h3.1v3.1h-3.1z" fill="#ff1010"/>
<path d="M528.9 132.7h0M539.1 125.2h0M440.5 148.3h0" stroke="#3ac43a" stroke-width="3.0" stroke-linecap="round" fill="none"/>
<path d="M415.5 151.0h0" stroke="#000000" stroke-width="3.7" stroke-linecap="round" fill="none"/>
<path d="M457.5 148.3h0" stroke="#3ac43a" stroke-width="3.0" stroke-linecap="round" fill="none"/>
<path d="M482.5 143.7h3.1v3.1h-3.1zM407.8 149.3h3.1v3.1h-3.1z" fill="#ff1010"/>
<path d="M517.5 139.5h0" stroke="#000000" stroke-width="3.7" stroke-linecap="round" fill="none"/>
<path d="M433.7 149.1h0" stroke="#3ac43a" stroke-width="3.0" stroke-linecap="round" fill="none"/>
<path d="M524.3 136.9h0" stroke="#000000" stroke-width="3.7" stroke-linecap="round" fill="none"/>
<path d="M492.7 141.9h3.1v3.1h-3.1zM519.9 135.4h3.1v3.1h-3.1zM421.3 147.6h3.1v3.1h-3.1z" fill="#ff1010"/>
<path d="M446.1 149.6h0M500.5 143.2h0M452.9 149.2h0" stroke="#000000" stroke-width="3.7" stroke-linecap="round" fill="none"/>
<path d="M454.1 147.8h0" stroke="#3ac43a" stroke-width="3.0" stroke-linecap="round" fill="none"/>
<path d="M431.5 148.1h3.1v3.1h-3.1z" fill="#ff1010"/>
<path d="M441.1 151.2l2.1 -3.6h-4.3z" fill="#1a2ad0"/>
<path d="M469.9 148.3h0" stroke="#000000" stroke-width="3.7" stroke-linecap="round" fill="none"/>
<path d="M492.1 145.7l2.1 -3.6h-4.3z" fill="#1a2ad0"/>
<path d="M443.9 147.4h0" stroke="#3ac43a" stroke-width="3.0" stroke-linecap="round" fill="none"/>
<path d="M412.1 151.8h0" stroke="#000000" stroke-width="3.7" stroke-linecap="round" fill="none"/>
<path d="M428.1 148.5h3.1v3.1h-3.1z" fill="#ff1010"/>
<path d="M417.3 152.9l2.1 -3.6h-4.3zM444.5 150.5l2.1 -3.6h-4.3z" fill="#1a2ad0"/>
<path d="M511.9 139.2h0" stroke="#3ac43a" stroke-width="3.0" stroke-linecap="round" fill="none"/>
<path d="M513.1 137.1h3.1v3.1h-3.1z" fill="#ff1010"/>
<path d="M486.9 146.9h0" stroke="#000000" stroke-width="3.7" stroke-linecap="round" fill="none"/>
<path d="M526.1 136.3l2.1 -3.6h-4.3z" fill="#1a2ad0"/>
<path d="M414.5 148.4h3.1v3.1h-3.1z" fill="#ff1010"/>
<path d="M418.9 151.9h0M422.3 151.4h0" stroke="#000000" stroke-width="3.7" stroke-linecap="round" fill="none"/>
<path d="M515.3 138.6h0" stroke="#3ac43a" stroke-width="3.0" stroke-linecap="round" fill="none"/>
<path d="M463.1 148.6h0M456.3 147.6h0" stroke="#000000" stroke-width="3.7" stroke-linecap="round" fill="none"/>
<path d="M430.3 149.8h0M464.3 146.9h0M413.3 150.1h0" stroke="#3ac43a" stroke-width="3.0" stroke-linecap="round" fill="none"/>
<path d="M476.7 147.3h0" stroke="#000000" stroke-width="3.7" stroke-linecap="round" fill="none"/>
<path d="M424.7 148.2h3.1v3.1h-3.1z" fill="#ff1010"/>
<path d="M515.9 139.9l2.1 -3.6h-4.3z" fill="#1a2ad0"/>
<path d="M474.5 146.1h0" stroke="#3ac43a" stroke-width="3.0" stroke-linecap="round" fill="none"/>
<path d="M510.7 140.7h0M503.9 143.6h0" stroke="#000000" stroke-width="3.7" stroke-linecap="round" fill="none"/>
<path d="M505.7 142.5l2.1 -3.6h-4.3z" fill="#1a2ad0"/>
<path d="M475.7 144.6h3.1v3.1h-3.1z" fill="#ff1010"/>
<path d="M512.5 140.8l2.1 -3.6h-4.3z" fill="#1a2ad0"/>
<path d="M489.3 142.7h3.1v3.1h-3.1z" fill="#ff1010"/>
<path d="M473.3 147.3h0" stroke="#000000" stroke-width="3.7" stroke-linecap="round" fill="none"/>
<path d="M447.3 148.4h0M532.3 130.3h0" stroke="#3ac43a" stroke-width="3.0" stroke-linecap="round" fill="none"/>
<path d="M438.3 146.9h3.1v3.1h-3.1z" fill="#ff1010"/>
<path d="M454.7 150.7l2.1 -3.6h-4.3z" fill="#1a2ad0"/>
<path d="M434.9 147.9h3.1v3.1h-3.1z" fill="#ff1010"/>
<path d="M483.5 145.6h0" stroke="#000000" stroke-width="3.7" stroke-linecap="round" fill="none"/>
<path d="M505.1 142.5h0" stroke="#3ac43a" stroke-width="3.0" stroke-linecap="round" fill="none"/>
<path d="M533.5 126.0h3.1v3.1h-3.1zM417.9 149.6h3.1v3.1h-3.1z" fill="#ff1010"/>
<path d="M477.9 145.1h0" stroke="#3ac43a" stroke-width="3.0" stroke-linecap="round" fill="none"/>
<path d="M481.9 146.7l2.1 -3.6h-4.3z" fill="#1a2ad0"/>
<path d="M520.9 136.2h0" stroke="#000000" stroke-width="3.7" stroke-linecap="round" fill="none"/>
<path d="M502.3 144.3l2.1 -3.6h-4.3zM471.7 148.5l2.1 -3.6h-4.3zM464.9 149.3l2.1 -3.6h-4.3zM529.5 133.6l2.1 -3.6h-4.3zM532.9 132.0l2.1 -3.6h-4.3z" fill="#1a2ad0"/>
<path d="M449.5 149.0h0M432.5 151.5h0" stroke="#000000" stroke-width="3.7" stroke-linecap="round" fill="none"/>
<path d="M458.7 145.6h3.1v3.1h-3.1z" fill="#ff1010"/>
<path d="M423.5 149.3h0M501.7 141.7h0" stroke="#3ac43a" stroke-width="3.0" stroke-linecap="round" fill="none"/>
<path d="M445.1 146.6h3.1v3.1h-3.1z" fill="#ff1010"/>
<path d="M430.9 152.1l2.1 -3.6h-4.3z" fill="#1a2ad0"/>
<path d="M481.3 144.8h0M522.1 135.2h0" stroke="#3ac43a" stroke-width="3.0" stroke-linecap="round" fill="none"/>
<path d="M468.3 148.9l2.1 -3.6h-4.3z" fill="#1a2ad0"/>
<path d="M497.1 143.7h0M466.5 148.2h0" stroke="#000000" stroke-width="3.7" stroke-linecap="round" fill="none"/>
<path d="M475.1 148.8l2.1 -3.6h-4.3zM485.3 147.6l2.1 -3.6h-4.3z" fill="#1a2ad0"/>
<path d="M507.3 141.6h0M531.1 132.9h0" stroke="#000000" stroke-width="3.7" stroke-linecap="round" fill="none"/>
<path d="M479.1 143.8h3.1v3.1h-3.1z" fill="#ff1010"/>
<path d="M525.5 134.5h0M491.5 144.5h0M535.7 128.1h0" stroke="#3ac43a" stroke-width="3.0" stroke-linecap="round" fill="none"/>
<path d="M514.1 140.2h0" stroke="#000000" stroke-width="3.7" stroke-linecap="round" fill="none"/>
<path d="M488.1 144.9h0M437.1 148.7h0" stroke="#3ac43a" stroke-width="3.0" stroke-linecap="round" fill="none"/>
<path d="M519.3 138.6l2.1 -3.6h-4.3z" fill="#1a2ad0"/>
<path d="M523.3 133.4h3.1v3.1h-3.1z" fill="#ff1010"/>
<path d="M527.7 134.5h0" stroke="#000000" stroke-width="3.7" stroke-linecap="round" fill="none"/>
<path d="M539.7 126.2l2.1 -3.6h-4.3z" fill="#1a2ad0"/>
<path d="M450.7 147.6h0M494.9 143.1h0" stroke="#3ac43a" stroke-width="3.0" stroke-linecap="round" fill="none"/>
<path d="M458.1 149.9l2.1 -3.6h-4.3zM424.1 152.4l2.1 -3.6h-4.3z" fill="#1a2ad0"/>
<path d="M509.7 137.8h3.1v3.1h-3.1z" fill="#ff1010"/>
<path d="M484.7 144.1h0" stroke="#3ac43a" stroke-width="3.0" stroke-linecap="round" fill="none"/>
<path d="M442.7 149.9h0" stroke="#000000" stroke-width="3.7" stroke-linecap="round" fill="none"/>
<path d="M485.9 143.1h3.1v3.1h-3.1zM499.5 140.6h3.1v3.1h-3.1zM451.9 146.4h3.1v3.1h-3.1zM465.5 145.3h3.1v3.1h-3.1zM526.7 132.0h3.1v3.1h-3.1z" fill="#ff1010"/>
<path d="M409.9 149.9h0M508.5 140.8h0" stroke="#3ac43a" stroke-width="3.0" stroke-linecap="round" fill="none"/>
<path d="M495.5 145.1l2.1 -3.6h-4.3z" fill="#1a2ad0"/>
<path d="M441.7 148.1h3.1v3.1h-3.1zM472.3 143.8h3.1v3.1h-3.1z" fill="#ff1010"/>
<path d="M461.5 148.6l2.1 -3.6h-4.3z" fill="#1a2ad0"/>
<path d="M448.5 146.7h3.1v3.1h-3.1z" fill="#ff1010"/>
<path d="M478.5 148.3l2.1 -3.6h-4.3zM410.5 152.0l2.1 -3.6h-4.3zM420.7 151.3l2.1 -3.6h-4.3z" fill="#1a2ad0"/>
<path d="M468.9 145.5h3.1v3.1h-3.1zM411.1 149.0h3.1v3.1h-3.1z" fill="#ff1010"/>
<path d="M413.9 152.4l2.1 -3.6h-4.3z" fill="#1a2ad0"/>
<path d="M502.9 139.9h3.1v3.1h-3.1zM455.3 146.2h3.1v3.1h-3.1z" fill="#ff1010"/>
<path d="M447.9 150.5l2.1 -3.6h-4.3zM427.5 151.5l2.1 -3.6h-4.3zM522.7 137.8l2.1 -3.6h-4.3z" fill="#1a2ad0"/>
<path d="M460.9 147.1h0" stroke="#3ac43a" stroke-width="3.0" stroke-linecap="round" fill="none"/>
<path d="M434.3 151.2l2.1 -3.6h-4.3z" fill="#1a2ad0"/>
<path d="M416.7 150.4h0M471.1 146.3h0" stroke="#3ac43a" stroke-width="3.0" stroke-linecap="round" fill="none"/>
<path d="M498.9 144.6l2.1 -3.6h-4.3zM437.7 151.1l2.1 -3.6h-4.3zM488.7 146.2l2.1 -3.6h-4.3z" fill="#1a2ad0"/>
<path d="M498.3 142.6h0M467.7 147.2h0" stroke="#3ac43a" stroke-width="3.0" stroke-linecap="round" fill="none"/>
<path d="M509.1 142.1l2.1 -3.6h-4.3z" fill="#1a2ad0"/>
<path d="M518.7 137.7h0M420.1 149.7h0M426.9 148.8h0" stroke="#3ac43a" stroke-width="3.0" stroke-linecap="round" fill="none"/>
<path d="M536.3 128.4l2.1 -3.6h-4.3zM451.3 150.2l2.1 -3.6h-4.3z" fill="#1a2ad0"/>
<path d="M541.3 124.7h0M544.7 121.2h0M548.1 117.6h0M551.5 113.5h0M554.9 109.0h0M558.3 105.4h0M561.7 102.0h0M565.1 98.5h0M568.5 95.8h0M571.9 93.1h0M575.3 90.8h0M578.7 89.3h0M582.1 86.8h0M585.5 85.2h0M588.9 82.9h0M592.3 81.1h0M595.7 79.8h0M599.1 78.3h0M602.5 77.2h0M605.9 76.3h0M609.3 75.6h0M612.7 75.2h0M616.1 74.8h0M619.5 73.8h0M622.9 73.3h0M626.3 73.1h0M629.7 72.6h0M633.1 72.4h0M636.5 71.8h0M639.9 71.7h0M643.3 71.5h0M646.7 71.1h0" stroke="#000000" stroke-width="3.7" stroke-linecap="round" fill="none"/>
<path d="M540.3 120.2h3.1v3.1h-3.1zM543.7 116.4h3.1v3.1h-3.1zM547.1 111.5h3.1v3.1h-3.1zM550.5 104.9h3.1v3.1h-3.1zM553.9 98.2h3.1v3.1h-3.1zM557.3 91.9h3.1v3.1h-3.1zM560.7 86.8h3.1v3.1h-3.1zM564.1 79.7h3.1v3.1h-3.1zM567.5 75.1h3.1v3.1h-3.1zM570.9 71.4h3.1v3.1h-3.1zM574.3 68.9h3.1v3.1h-3.1zM577.7 66.3h3.1v3.1h-3.1zM581.1 64.7h3.1v3.1h-3.1zM584.5 62.9h3.1v3.1h-3.1zM587.9 61.3h3.1v3.1h-3.1zM591.3 60.0h3.1v3.1h-3.1zM594.7 58.9h3.1v3.1h-3.1zM598.1 57.5h3.1v3.1h-3.1zM601.5 56.1h3.1v3.1h-3.1zM604.9 54.6h3.1v3.1h-3.1zM608.3 53.8h3.1v3.1h-3.1zM611.7 53.4h3.1v3.1h-3.1zM615.1 52.4h3.1v3.1h-3.1zM618.5 51.7h3.1v3.1h-3.1zM621.9 50.9h3.1v3.1h-3.1zM625.3 50.4h3.1v3.1h-3.1zM628.7 50.3h3.1v3.1h-3.1zM632.1 50.1h3.1v3.1h-3.1zM635.5 49.4h3.1v3.1h-3.1zM638.9 49.2h3.1v3.1h-3.1zM642.3 49.2h3.1v3.1h-3.1zM645.7 49.2h3.1v3.1h-3.1z" fill="#ff1010"/>
<path d="M542.5 121.3h0M545.9 116.6h0M549.3 110.8h0M552.7 103.3h0M556.1 92.7h0M559.5 81.2h0M562.9 73.5h0M566.3 66.8h0M569.7 61.2h0M573.1 58.0h0M576.5 55.4h0M579.9 53.2h0M583.3 51.3h0M586.7 49.6h0M590.1 47.9h0M593.5 46.7h0M596.9 45.6h0M600.3 44.4h0M603.7 43.5h0M607.1 42.7h0M610.5 42.2h0M613.9 41.3h0M617.3 40.8h0M620.7 40.3h0M624.1 39.8h0M627.5 39.0h0M630.9 38.7h0M634.3 38.2h0M637.7 37.8h0M641.1 37.5h0M644.5 37.3h0M647.9 36.9h0" stroke="#3ac43a" stroke-width="3.0" stroke-linecap="round" fill="none"/>
<path d="M543.1 122.8l2.1 -3.6h-4.3zM546.5 117.3l2.1 -3.6h-4.3zM549.9 111.3l2.1 -3.6h-4.3zM553.3 102.5l2.1 -3.6h-4.3zM556.7 88.5l2.1 -3.6h-4.3zM560.1 74.1l2.1 -3.6h-4.3zM563.5 65.0l2.1 -3.6h-4.3zM566.9 58.8l2.1 -3.6h-4.3zM570.3 52.7l2.1 -3.6h-4.3zM573.7 49.3l2.1 -3.6h-4.3zM577.1 46.4l2.1 -3.6h-4.3zM580.5 44.7l2.1 -3.6h-4.3zM583.9 43.3l2.1 -3.6h-4.3zM587.3 41.9l2.1 -3.6h-4.3zM590.7 40.5l2.1 -3.6h-4.3zM594.1 39.2l2.1 -3.6h-4.3zM597.5 38.1l2.1 -3.6h-4.3zM600.9 37.0l2.1 -3.6h-4.3zM604.3 35.9l2.1 -3.6h-4.3zM607.7 35.0l2.1 -3.6h-4.3zM611.1 34.3l2.1 -3.6h-4.3zM614.5 33.4l2.1 -3.6h-4.3zM617.9 32.8l2.1 -3.6h-4.3zM621.3 32.2l2.1 -3.6h-4.3zM624.7 31.4l2.1 -3.6h-4.3zM628.1 30.5l2.1 -3.6h-4.3zM631.5 30.2l2.1 -3.6h-4.3zM634.9 29.8l2.1 -3.6h-4.3zM638.3 29.0l2.1 -3.6h-4.3zM641.7 28.8l2.1 -3.6h-4.3zM645.1 28.6l2.1 -3.6h-4.3z" fill="#1a2ad0"/>
<rect x="444.70" y="27.20" width="100.90" height="62.10" stroke="none" stroke-width="0" fill="#fff"/>
<path d="M449.00 89.30v-3M449.00 27.20v3M542.70 89.30v-3M542.70 27.20v3M444.71 89.30v-1.6M444.71 27.20v1.6M477.21 89.30v-1.6M477.21 27.20v1.6M493.71 89.30v-1.6M493.71 27.20v1.6M505.41 89.30v-1.6M505.41 27.20v1.6M514.49 89.30v-1.6M514.49 27.20v1.6M521.91 89.30v-1.6M521.91 27.20v1.6M528.19 89.30v-1.6M528.19 27.20v1.6M533.62 89.30v-1.6M533.62 27.20v1.6M538.41 89.30v-1.6M538.41 27.20v1.6M444.70 89.00h3M545.60 89.00h-3M444.70 30.00h3M545.60 30.00h-3M444.70 71.24h1.6M545.60 71.24h-1.6M444.70 60.85h1.6M545.60 60.85h-1.6M444.70 53.48h1.6M545.60 53.48h-1.6M444.70 47.76h1.6M545.60 47.76h-1.6M444.70 43.09h1.6M545.60 43.09h-1.6M444.70 39.14h1.6M545.60 39.14h-1.6M444.70 35.72h1.6M545.60 35.72h-1.6M444.70 32.70h1.6M545.60 32.70h-1.6" stroke="#8a8a8a" stroke-width="1" fill="none"/>
<rect x="444.70" y="27.20" width="100.90" height="62.10" stroke="#8a8a8a" stroke-width="1" fill="none"/>
<line x1="492.50" y1="27.20" x2="492.50" y2="89.30" stroke="#333" stroke-width="1.2" stroke-dasharray="1.7 1.9"/>
<path d="M444.7 62.1 L446.7 62.1 L448.7 59.5 L450.7 55.9 L452.7 55.0 L454.7 56.4 L456.7 54.5 L458.7 53.1 L460.7 50.0 L462.7 46.5 L464.7 46.9 L466.7 43.4 L468.7 44.4 L470.7 41.3 L472.7 41.5 L474.7 40.5 L476.7 38.6 L478.7 36.7 L480.7 36.1 L482.7 35.2 L484.7 35.9 L486.7 35.3 L488.7 35.9 L490.7 35.6 L492.7 36.1 L494.7 36.2 L496.7 36.8 L498.7 36.7 L500.7 38.4 L502.7 39.0 L504.7 40.1 L506.7 41.1 L508.7 41.2 L510.7 41.6 L512.7 44.0 L514.7 44.6 L516.7 44.8 L518.7 45.6 L520.7 47.0 L522.7 48.0 L524.7 47.8 L526.7 47.5 L528.7 48.4 L530.7 48.7 L532.7 47.9 L534.7 48.8 L536.7 48.2 L538.7 48.7 L540.7 49.0 L542.7 48.9 L544.7 48.3" stroke="#000000" stroke-width="0.8" fill="none" opacity="1.0"/>
<path d="M444.7 62.1h0M446.7 62.1h0M448.7 59.5h0M450.7 55.9h0M452.7 55.0h0M454.7 56.4h0M456.7 54.5h0M458.7 53.1h0M460.7 50.0h0M462.7 46.5h0M464.7 46.9h0M466.7 43.4h0M468.7 44.4h0M470.7 41.3h0M472.7 41.5h0M474.7 40.5h0M476.7 38.6h0M478.7 36.7h0M480.7 36.1h0M482.7 35.2h0M484.7 35.9h0M486.7 35.3h0M488.7 35.9h0M490.7 35.6h0M492.7 36.1h0M494.7 36.2h0M496.7 36.8h0M498.7 36.7h0M500.7 38.4h0M502.7 39.0h0M504.7 40.1h0M506.7 41.1h0M508.7 41.2h0M510.7 41.6h0M512.7 44.0h0M514.7 44.6h0M516.7 44.8h0M518.7 45.6h0M520.7 47.0h0M522.7 48.0h0M524.7 47.8h0M526.7 47.5h0M528.7 48.4h0M530.7 48.7h0M532.7 47.9h0M534.7 48.8h0M536.7 48.2h0M538.7 48.7h0M540.7 49.0h0M542.7 48.9h0M544.7 48.3h0" stroke="#000000" stroke-width="2.7" stroke-linecap="round" fill="none"/>
<path d="M445.2 65.8 L447.2 64.5 L449.2 63.1 L451.2 61.8 L453.2 59.9 L455.2 57.7 L457.2 56.5 L459.2 54.6 L461.2 52.9 L463.2 51.4 L465.2 49.8 L467.2 48.5 L469.2 46.7 L471.2 44.9 L473.2 42.9 L475.2 41.1 L477.2 39.7 L479.2 38.5 L481.2 36.6 L483.2 35.0 L485.2 33.9 L487.2 32.9 L489.2 34.0 L491.2 36.1 L493.2 38.5 L495.2 40.4 L497.2 42.7 L499.2 45.1 L501.2 47.7 L503.2 49.7 L505.2 52.7 L507.2 54.4 L509.2 56.4 L511.2 59.4 L513.2 61.6 L515.2 64.2 L517.2 65.7 L519.2 66.1 L521.2 67.4 L523.2 67.4 L525.2 68.2 L527.2 68.5 L529.2 68.9 L531.2 69.4 L533.2 69.6 L535.2 69.7 L537.2 70.0 L539.2 70.1 L541.2 69.9 L543.2 70.0 L545.2 70.1" stroke="#ff1010" stroke-width="0.7" fill="none" opacity="1.0"/>
<path d="M444.1 64.7h2.2v2.2h-2.2zM446.1 63.4h2.2v2.2h-2.2zM448.1 62.0h2.2v2.2h-2.2zM450.1 60.7h2.2v2.2h-2.2zM452.1 58.8h2.2v2.2h-2.2zM454.1 56.6h2.2v2.2h-2.2zM456.1 55.4h2.2v2.2h-2.2zM458.1 53.5h2.2v2.2h-2.2zM460.1 51.8h2.2v2.2h-2.2zM462.1 50.3h2.2v2.2h-2.2zM464.1 48.7h2.2v2.2h-2.2zM466.1 47.4h2.2v2.2h-2.2zM468.1 45.6h2.2v2.2h-2.2zM470.1 43.8h2.2v2.2h-2.2zM472.1 41.8h2.2v2.2h-2.2zM474.1 40.0h2.2v2.2h-2.2zM476.1 38.6h2.2v2.2h-2.2zM478.1 37.4h2.2v2.2h-2.2zM480.1 35.5h2.2v2.2h-2.2zM482.1 33.9h2.2v2.2h-2.2zM484.1 32.8h2.2v2.2h-2.2zM486.1 31.8h2.2v2.2h-2.2zM488.1 32.9h2.2v2.2h-2.2zM490.1 35.0h2.2v2.2h-2.2zM492.1 37.4h2.2v2.2h-2.2zM494.1 39.3h2.2v2.2h-2.2zM496.1 41.6h2.2v2.2h-2.2zM498.1 44.0h2.2v2.2h-2.2zM500.1 46.6h2.2v2.2h-2.2zM502.1 48.6h2.2v2.2h-2.2zM504.1 51.6h2.2v2.2h-2.2zM506.1 53.3h2.2v2.2h-2.2zM508.1 55.3h2.2v2.2h-2.2zM510.1 58.3h2.2v2.2h-2.2zM512.1 60.5h2.2v2.2h-2.2zM514.1 63.1h2.2v2.2h-2.2zM516.1 64.6h2.2v2.2h-2.2zM518.1 65.0h2.2v2.2h-2.2zM520.1 66.3h2.2v2.2h-2.2zM522.1 66.3h2.2v2.2h-2.2zM524.1 67.1h2.2v2.2h-2.2zM526.1 67.4h2.2v2.2h-2.2zM528.1 67.8h2.2v2.2h-2.2zM530.1 68.3h2.2v2.2h-2.2zM532.1 68.5h2.2v2.2h-2.2zM534.1 68.6h2.2v2.2h-2.2zM536.1 68.9h2.2v2.2h-2.2zM538.1 69.0h2.2v2.2h-2.2zM540.1 68.8h2.2v2.2h-2.2zM542.1 68.9h2.2v2.2h-2.2zM544.1 69.0h2.2v2.2h-2.2z" fill="#ff1010"/>
<path d="M445.7 67.7 L447.7 65.8 L449.7 64.3 L451.7 62.7 L453.7 60.4 L455.7 58.5 L457.7 56.9 L459.7 55.7 L461.7 54.2 L463.7 52.3 L465.7 50.2 L467.7 49.4 L469.7 46.9 L471.7 45.5 L473.7 43.7 L475.7 42.1 L477.7 40.5 L479.7 37.8 L481.7 35.9 L483.7 33.4 L485.7 31.1 L487.7 31.6 L489.7 33.6 L491.7 36.1 L493.7 39.8 L495.7 43.8 L497.7 47.3 L499.7 51.4 L501.7 56.4 L503.7 60.4 L505.7 64.2 L507.7 67.0 L509.7 70.5 L511.7 72.9 L513.7 76.1 L515.7 78.2 L517.7 78.9 L519.7 80.3 L521.7 81.5 L523.7 82.2 L525.7 82.6 L527.7 83.2 L529.7 84.2 L531.7 84.1 L533.7 84.1 L535.7 84.8 L537.7 85.5 L539.7 85.9 L541.7 85.6 L543.7 85.6" stroke="#3ac43a" stroke-width="0.7" fill="none" opacity="1.0"/>
<path d="M445.7 67.7h0M447.7 65.8h0M449.7 64.3h0M451.7 62.7h0M453.7 60.4h0M455.7 58.5h0M457.7 56.9h0M459.7 55.7h0M461.7 54.2h0M463.7 52.3h0M465.7 50.2h0M467.7 49.4h0M469.7 46.9h0M471.7 45.5h0M473.7 43.7h0M475.7 42.1h0M477.7 40.5h0M479.7 37.8h0M481.7 35.9h0M483.7 33.4h0M485.7 31.1h0M487.7 31.6h0M489.7 33.6h0M491.7 36.1h0M493.7 39.8h0M495.7 43.8h0M497.7 47.3h0M499.7 51.4h0M501.7 56.4h0M503.7 60.4h0M505.7 64.2h0M507.7 67.0h0M509.7 70.5h0M511.7 72.9h0M513.7 76.1h0M515.7 78.2h0M517.7 78.9h0M519.7 80.3h0M521.7 81.5h0M523.7 82.2h0M525.7 82.6h0M527.7 83.2h0M529.7 84.2h0M531.7 84.1h0M533.7 84.1h0M535.7 84.8h0M537.7 85.5h0M539.7 85.9h0M541.7 85.6h0M543.7 85.6h0" stroke="#3ac43a" stroke-width="2.0" stroke-linecap="round" fill="none"/>
<path d="M446.2 67.9 L448.2 66.7 L450.2 65.0 L452.2 63.0 L454.2 61.4 L456.2 59.8 L458.2 58.0 L460.2 56.4 L462.2 54.9 L464.2 53.4 L466.2 51.9 L468.2 49.7 L470.2 47.8 L472.2 46.4 L474.2 44.3 L476.2 42.2 L478.2 40.9 L480.2 38.5 L482.2 35.3 L484.2 32.4 L486.2 31.1 L488.2 32.2 L490.2 36.1 L492.2 41.3 L494.2 46.3 L496.2 51.0 L498.2 56.6 L500.2 61.3 L502.2 65.4 L504.2 70.6 L506.2 74.3 L508.2 77.3 L510.2 79.5 L512.2 81.8 L514.2 83.5 L516.2 85.1 L518.2 87.3 L520.2 89.1" stroke="#1a2ad0" stroke-width="0.7" fill="none" opacity="1.0"/>
<path d="M446.2 69.3l1.4 -2.4h-2.9zM448.2 68.2l1.4 -2.4h-2.9zM450.2 66.4l1.4 -2.4h-2.9zM452.2 64.4l1.4 -2.4h-2.9zM454.2 62.9l1.4 -2.4h-2.9zM456.2 61.2l1.4 -2.4h-2.9zM458.2 59.5l1.4 -2.4h-2.9zM460.2 57.8l1.4 -2.4h-2.9zM462.2 56.3l1.4 -2.4h-2.9zM464.2 54.8l1.4 -2.4h-2.9zM466.2 53.3l1.4 -2.4h-2.9zM468.2 51.2l1.4 -2.4h-2.9zM470.2 49.2l1.4 -2.4h-2.9zM472.2 47.9l1.4 -2.4h-2.9zM474.2 45.7l1.4 -2.4h-2.9zM476.2 43.6l1.4 -2.4h-2.9zM478.2 42.3l1.4 -2.4h-2.9zM480.2 40.0l1.4 -2.4h-2.9zM482.2 36.8l1.4 -2.4h-2.9zM484.2 33.9l1.4 -2.4h-2.9zM486.2 32.5l1.4 -2.4h-2.9zM488.2 33.6l1.4 -2.4h-2.9zM490.2 37.6l1.4 -2.4h-2.9zM492.2 42.7l1.4 -2.4h-2.9zM494.2 47.7l1.4 -2.4h-2.9zM496.2 52.4l1.4 -2.4h-2.9zM498.2 58.0l1.4 -2.4h-2.9zM500.2 62.7l1.4 -2.4h-2.9zM502.2 66.8l1.4 -2.4h-2.9zM504.2 72.0l1.4 -2.4h-2.9zM506.2 75.7l1.4 -2.4h-2.9zM508.2 78.7l1.4 -2.4h-2.9zM510.2 81.0l1.4 -2.4h-2.9zM512.2 83.3l1.4 -2.4h-2.9zM514.2 84.9l1.4 -2.4h-2.9zM516.2 86.6l1.4 -2.4h-2.9zM518.2 88.7l1.4 -2.4h-2.9zM520.2 90.5l1.4 -2.4h-2.9z" fill="#1a2ad0"/>
<text x="432.97" y="33.54" font-family="&quot;Liberation Sans&quot;, sans-serif" font-size="5.63" font-weight="normal" font-style="normal" fill="#000" textLength="7.83" lengthAdjust="spacingAndGlyphs" stroke="#000" stroke-width="0.17">10</text>
<text x="440.53" y="30.76" font-family="&quot;Liberation Sans&quot;, sans-serif" font-size="4.23" font-weight="normal" font-style="normal" fill="#000" stroke="#000" stroke-width="0.13">0</text>
<text x="432.78" y="91.54" font-family="&quot;Liberation Sans&quot;, sans-serif" font-size="6.34" font-weight="normal" font-style="normal" fill="#000" textLength="7.71" lengthAdjust="spacingAndGlyphs" stroke="#000" stroke-width="0.19">10</text>
<text x="440.48" y="88.00" font-family="&quot;Liberation Sans&quot;, sans-serif" font-size="4.93" font-weight="normal" font-style="normal" fill="#000" stroke="#000" stroke-width="0.15">-1</text>
<text x="444.95" y="96.74" font-family="&quot;Liberation Sans&quot;, sans-serif" font-size="5.63" font-weight="normal" font-style="normal" fill="#000" textLength="8.66" lengthAdjust="spacingAndGlyphs" stroke="#000" stroke-width="0.17">0.1</text>
<text x="541.37" y="96.00" font-family="&quot;Liberation Sans&quot;, sans-serif" font-size="5.80" font-weight="normal" font-style="normal" fill="#000" stroke="#000" stroke-width="0.17">1</text>
<text transform="translate(425.27,91.41) rotate(-90)" font-family="&quot;Liberation Sans&quot;, sans-serif" font-size="10.16" font-weight="bold" font-style="normal" fill="#000" textLength="47.91" lengthAdjust="spacingAndGlyphs" stroke="#000" stroke-width="0.45">rms(Ln(PR</text>
<text transform="translate(429.18,43.49) rotate(-90)" font-family="&quot;Liberation Sans&quot;, sans-serif" font-size="6.26" font-weight="bold" font-style="normal" fill="#000" textLength="12.90" lengthAdjust="spacingAndGlyphs" stroke="#000" stroke-width="0.45">q=2</text>
<text transform="translate(425.18,30.94) rotate(-90)" font-family="&quot;Liberation Sans&quot;, sans-serif" font-size="9.63" font-weight="bold" font-style="normal" fill="#000" textLength="5.63" lengthAdjust="spacingAndGlyphs" stroke="#000" stroke-width="0.43">))</text>
<text x="484.56" y="105.50" font-family="&quot;Liberation Serif&quot;, serif" font-size="10.69" font-weight="normal" font-style="normal" fill="#000" textLength="8.42" lengthAdjust="spacingAndGlyphs" stroke="#000" stroke-width="0.30">Γ</text>
<text x="491.30" y="109.00" font-family="&quot;Liberation Serif&quot;, serif" font-size="10.22" font-weight="normal" font-style="normal" fill="#000" stroke="#000" stroke-width="0.30">κ</text>
<text x="495.50" y="105.89" font-family="&quot;Liberation Serif&quot;, serif" font-size="11.49" font-weight="normal" font-style="normal" fill="#000" textLength="8.30" lengthAdjust="spacingAndGlyphs" stroke="#000" stroke-width="0.30">/Γ</text>
<text x="502.70" y="108.93" font-family="&quot;Liberation Serif&quot;, serif" font-size="7.41" font-weight="normal" font-style="normal" fill="#000" stroke="#000" stroke-width="0.22">0</text>
<rect x="576.60" y="105.30" width="46.60" height="54.00" stroke="#777" stroke-width="1" fill="#fff"/>
<line x1="580.30" y1="112.80" x2="590.30" y2="112.80" stroke="#000000" stroke-width="1.0" opacity="0.9"/>
<path d="M580.3 112.8h0M590.3 112.8h0" stroke="#000000" stroke-width="3.8" stroke-linecap="round" fill="none"/>
<text x="593.81" y="117.50" font-family="&quot;Liberation Sans&quot;, sans-serif" font-size="10.14" font-weight="normal" font-style="normal" fill="#000" textLength="23.82" lengthAdjust="spacingAndGlyphs" stroke="#000" stroke-width="0.30">N=10</text>
<text x="617.92" y="111.77" font-family="&quot;Liberation Sans&quot;, sans-serif" font-size="7.00" font-weight="normal" font-style="normal" fill="#000" stroke="#000" stroke-width="0.21">3</text>
<line x1="580.30" y1="126.05" x2="590.30" y2="126.05" stroke="#ff1010" stroke-width="1.0" opacity="0.9"/>
<path d="M578.4 124.1h3.8v3.8h-3.8zM588.4 124.1h3.8v3.8h-3.8z" fill="#ff1010"/>
<text x="593.81" y="130.75" font-family="&quot;Liberation Sans&quot;, sans-serif" font-size="10.29" font-weight="normal" font-style="normal" fill="#000" textLength="23.82" lengthAdjust="spacingAndGlyphs" stroke="#000" stroke-width="0.30">N=15</text>
<text x="617.92" y="125.02" font-family="&quot;Liberation Sans&quot;, sans-serif" font-size="7.00" font-weight="normal" font-style="normal" fill="#000" stroke="#000" stroke-width="0.21">3</text>
<line x1="580.30" y1="139.30" x2="590.30" y2="139.30" stroke="#3ac43a" stroke-width="1.0" opacity="0.9"/>
<path d="M580.3 139.3h0M590.3 139.3h0" stroke="#3ac43a" stroke-width="3.8" stroke-linecap="round" fill="none"/>
<text x="593.81" y="144.00" font-family="&quot;Liberation Sans&quot;, sans-serif" font-size="10.14" font-weight="normal" font-style="normal" fill="#000" textLength="23.82" lengthAdjust="spacingAndGlyphs" stroke="#000" stroke-width="0.30">N=20</text>
<text x="617.92" y="138.27" font-family="&quot;Liberation Sans&quot;, sans-serif" font-size="7.00" font-weight="normal" font-style="normal" fill="#000" stroke="#000" stroke-width="0.21">3</text>
<line x1="580.30" y1="152.55" x2="590.30" y2="152.55" stroke="#1a2ad0" stroke-width="1.0" opacity="0.9"/>
<path d="M580.3 155.0l2.5 -4.2h-4.9zM590.3 155.0l2.5 -4.2h-4.9z" fill="#1a2ad0"/>
<text x="593.81" y="157.25" font-family="&quot;Liberation Sans&quot;, sans-serif" font-size="10.14" font-weight="normal" font-style="normal" fill="#000" textLength="23.82" lengthAdjust="spacingAndGlyphs" stroke="#000" stroke-width="0.30">N=25</text>
<text x="617.92" y="151.52" font-family="&quot;Liberation Sans&quot;, sans-serif" font-size="7.00" font-weight="normal" font-style="normal" fill="#000" stroke="#000" stroke-width="0.21">3</text>
<text x="350.17" y="241.87" font-family="&quot;Liberation Sans&quot;, sans-serif" font-size="23.27" font-weight="bold" font-style="normal" fill="#000" stroke="#000" stroke-width="0.45">d</text>
<text x="364.80" y="240.86" font-family="&quot;Liberation Sans&quot;, sans-serif" font-size="22.57" font-weight="bold" font-style="normal" fill="#000" textLength="6.90" lengthAdjust="spacingAndGlyphs" stroke="#000" stroke-width="0.45">)</text>
<text x="462.10" y="204.61" font-family="&quot;Liberation Serif&quot;, serif" font-size="9.40" font-weight="bold" font-style="italic" fill="#000" textLength="37.44" lengthAdjust="spacingAndGlyphs" stroke="#000" stroke-width="0.42">SCALAR</text>
<text x="504.34" y="204.61" font-family="&quot;Liberation Serif&quot;, serif" font-size="9.40" font-weight="bold" font-style="italic" fill="#000" textLength="34.20" lengthAdjust="spacingAndGlyphs" stroke="#000" stroke-width="0.42">MODEL</text>
<text x="540.79" y="204.39" font-family="&quot;Liberation Serif&quot;, serif" font-size="9.35" font-weight="normal" font-style="italic" fill="#000" textLength="10.44" lengthAdjust="spacingAndGlyphs" stroke="#000" stroke-width="0.28">ρλ</text>
<text x="551.07" y="198.73" font-family="&quot;Liberation Serif&quot;, serif" font-size="6.57" font-weight="normal" font-style="normal" fill="#000" stroke="#000" stroke-width="0.20">3</text>
<text x="554.30" y="204.50" font-family="&quot;Liberation Serif&quot;, serif" font-size="10.23" font-weight="normal" font-style="normal" fill="#000" textLength="10.59" lengthAdjust="spacingAndGlyphs" stroke="#000" stroke-width="0.30">=5</text>
<text x="566.80" y="204.45" font-family="&quot;Liberation Serif&quot;, serif" font-size="10.00" font-weight="normal" font-style="normal" fill="#000" textLength="29.95" lengthAdjust="spacingAndGlyphs" stroke="#000" stroke-width="0.30">W=0.8b</text>
<text x="596.50" y="210.43" font-family="&quot;Liberation Serif&quot;, serif" font-size="7.41" font-weight="normal" font-style="normal" fill="#000" stroke="#000" stroke-width="0.22">0</text>
<path d="M411.40 393.20v-4.5M411.40 210.60v4.5M631.40 393.20v-4.5M631.40 210.60v4.5M477.63 393.20v-2.4M477.63 210.60v2.4M516.37 393.20v-2.4M516.37 210.60v2.4M543.85 393.20v-2.4M543.85 210.60v2.4M565.17 393.20v-2.4M565.17 210.60v2.4M582.59 393.20v-2.4M582.59 210.60v2.4M597.32 393.20v-2.4M597.32 210.60v2.4M610.08 393.20v-2.4M610.08 210.60v2.4M621.33 393.20v-2.4M621.33 210.60v2.4M411.40 393.20h4.5M648.60 393.20h-4.5M411.40 334.74h4.5M648.60 334.74h-4.5M411.40 276.27h4.5M648.60 276.27h-4.5M411.40 217.81h4.5M648.60 217.81h-4.5" stroke="#8a8a8a" stroke-width="1" fill="none"/>
<path d="M411.40 391.00h2.4M648.60 391.00h-2.4M411.40 389.71h2.4M648.60 389.71h-2.4M411.40 388.80h2.4M648.60 388.80h-2.4M411.40 388.09h2.4M648.60 388.09h-2.4M411.40 387.51h2.4M648.60 387.51h-2.4M411.40 387.02h2.4M648.60 387.02h-2.4M411.40 386.60h2.4M648.60 386.60h-2.4M411.40 386.23h2.4M648.60 386.23h-2.4M411.40 332.54h2.4M648.60 332.54h-2.4M411.40 331.25h2.4M648.60 331.25h-2.4M411.40 330.34h2.4M648.60 330.34h-2.4M411.40 329.63h2.4M648.60 329.63h-2.4M411.40 329.05h2.4M648.60 329.05h-2.4M411.40 328.56h2.4M648.60 328.56h-2.4M411.40 328.14h2.4M648.60 328.14h-2.4M411.40 327.76h2.4M648.60 327.76h-2.4M411.40 274.07h2.4M648.60 274.07h-2.4M411.40 272.79h2.4M648.60 272.79h-2.4M411.40 271.87h2.4M648.60 271.87h-2.4M411.40 271.16h2.4M648.60 271.16h-2.4M411.40 270.59h2.4M648.60 270.59h-2.4M411.40 270.10h2.4M648.60 270.10h-2.4M411.40 269.67h2.4M648.60 269.67h-2.4M411.40 269.30h2.4M648.60 269.30h-2.4M411.40 215.61h2.4M648.60 215.61h-2.4M411.40 214.32h2.4M648.60 214.32h-2.4M411.40 213.41h2.4M648.60 213.41h-2.4M411.40 212.70h2.4M648.60 212.70h-2.4M411.40 212.12h2.4M648.60 212.12h-2.4M411.40 211.63h2.4M648.60 211.63h-2.4M411.40 211.21h2.4M648.60 211.21h-2.4M411.40 210.83h2.4M648.60 210.83h-2.4" stroke="#333" stroke-width="1" fill="none"/>
<rect x="411.40" y="210.60" width="237.20" height="182.60" stroke="#8a8a8a" stroke-width="1" fill="none"/>
<text x="405.70" y="392.83" font-family="&quot;Liberation Sans&quot;, sans-serif" font-size="7.46" font-weight="normal" font-style="normal" fill="#000" stroke="#000" stroke-width="0.22">0</text>
<text x="395.29" y="398.30" font-family="&quot;Liberation Sans&quot;, sans-serif" font-size="9.58" font-weight="normal" font-style="normal" fill="#000" textLength="10.51" lengthAdjust="spacingAndGlyphs" stroke="#000" stroke-width="0.29">10</text>
<text x="405.66" y="334.36" font-family="&quot;Liberation Sans&quot;, sans-serif" font-size="7.46" font-weight="normal" font-style="normal" fill="#000" stroke="#000" stroke-width="0.22">8</text>
<text x="395.29" y="339.84" font-family="&quot;Liberation Sans&quot;, sans-serif" font-size="9.58" font-weight="normal" font-style="normal" fill="#000" textLength="10.51" lengthAdjust="spacingAndGlyphs" stroke="#000" stroke-width="0.29">10</text>
<text x="401.54" y="275.90" font-family="&quot;Liberation Sans&quot;, sans-serif" font-size="7.46" font-weight="normal" font-style="normal" fill="#000" stroke="#000" stroke-width="0.22">16</text>
<text x="391.39" y="281.38" font-family="&quot;Liberation Sans&quot;, sans-serif" font-size="9.58" font-weight="normal" font-style="normal" fill="#000" textLength="10.51" lengthAdjust="spacingAndGlyphs" stroke="#000" stroke-width="0.29">10</text>
<text x="401.72" y="217.51" font-family="&quot;Liberation Sans&quot;, sans-serif" font-size="7.57" font-weight="normal" font-style="normal" fill="#000" stroke="#000" stroke-width="0.23">24</text>
<text x="391.39" y="222.91" font-family="&quot;Liberation Sans&quot;, sans-serif" font-size="9.58" font-weight="normal" font-style="normal" fill="#000" textLength="10.51" lengthAdjust="spacingAndGlyphs" stroke="#000" stroke-width="0.29">10</text>
<text x="403.61" y="406.30" font-family="&quot;Liberation Sans&quot;, sans-serif" font-size="9.58" font-weight="normal" font-style="normal" fill="#000" textLength="10.28" lengthAdjust="spacingAndGlyphs" stroke="#000" stroke-width="0.29">10</text>
<text x="414.13" y="400.20" font-family="&quot;Liberation Sans&quot;, sans-serif" font-size="6.09" font-weight="normal" font-style="normal" fill="#000" stroke="#000" stroke-width="0.18">-1</text>
<text x="625.08" y="406.20" font-family="&quot;Liberation Sans&quot;, sans-serif" font-size="9.58" font-weight="normal" font-style="normal" fill="#000" textLength="10.62" lengthAdjust="spacingAndGlyphs" stroke="#000" stroke-width="0.29">10</text>
<text x="635.51" y="401.23" font-family="&quot;Liberation Sans&quot;, sans-serif" font-size="7.18" font-weight="normal" font-style="normal" fill="#000" stroke="#000" stroke-width="0.22">0</text>
<text transform="translate(385.00,309.94) rotate(-90)" font-family="&quot;Liberation Sans&quot;, sans-serif" font-size="11.45" font-weight="bold" font-style="normal" fill="#000" textLength="11.43" lengthAdjust="spacingAndGlyphs" stroke="#000" stroke-width="0.45">PR</text>
<text transform="translate(386.74,297.97) rotate(-90)" font-family="&quot;Liberation Sans&quot;, sans-serif" font-size="5.07" font-weight="bold" font-style="normal" fill="#000" textLength="7.14" lengthAdjust="spacingAndGlyphs" stroke="#000" stroke-width="0.45">q</text>
<text x="516.68" y="416.08" font-family="&quot;Liberation Serif&quot;, serif" font-size="9.89" font-weight="normal" font-style="normal" fill="#000" textLength="6.16" lengthAdjust="spacingAndGlyphs" stroke="#000" stroke-width="0.30">Γ</text>
<text x="522.31" y="420.04" font-family="&quot;Liberation Sans&quot;, sans-serif" font-size="6.46" font-weight="bold" font-style="normal" fill="#000" stroke="#000" stroke-width="0.29">k</text>
<text x="528.25" y="416.07" font-family="&quot;Liberation Sans&quot;, sans-serif" font-size="9.30" font-weight="bold" font-style="normal" fill="#000" stroke="#000" stroke-width="0.42">/</text>
<text x="534.06" y="416.08" font-family="&quot;Liberation Serif&quot;, serif" font-size="9.89" font-weight="normal" font-style="normal" fill="#000" textLength="6.06" lengthAdjust="spacingAndGlyphs" stroke="#000" stroke-width="0.30">Γ</text>
<text x="539.79" y="420.25" font-family="&quot;Liberation Sans&quot;, sans-serif" font-size="6.21" font-weight="bold" font-style="normal" fill="#000" stroke="#000" stroke-width="0.28">0</text>
<line x1="556.00" y1="210.60" x2="556.00" y2="393.20" stroke="#333" stroke-width="1.4" stroke-dasharray="1.9 2.2"/>
<path d="M411.4 371.7 L414.8 372.3 L418.1 371.9 L421.5 371.7 L424.8 370.0 L428.2 372.4 L431.5 372.5 L434.9 372.1 L438.2 371.5 L441.6 371.2 L444.9 372.1 L448.3 372.2 L451.6 371.3 L455.0 370.1 L458.3 370.5 L461.7 371.2 L465.0 368.2 L468.4 369.1 L471.7 366.8 L475.1 366.5 L478.4 368.5 L481.8 365.1 L485.1 365.1 L488.5 363.7 L491.8 364.8 L495.2 362.7 L498.5 362.5 L501.9 362.5 L505.2 361.1 L508.6 361.9 L511.9 358.6 L515.3 356.6 L518.6 355.5 L522.0 352.4 L525.3 349.2 L528.7 345.3 L532.0 341.0 L535.4 335.9 L538.7 329.1 L542.1 316.5 L545.4 310.2 L548.8 305.2 L552.1 299.4 L555.5 292.9 L558.8 290.5 L562.2 287.8 L565.5 285.2 L568.9 283.2 L572.2 281.4 L575.6 279.5 L578.9 278.1 L582.3 276.2 L585.6 274.2 L589.0 272.6 L592.3 271.7 L595.7 271.5 L599.0 271.0 L602.4 270.7 L605.7 270.3 L609.1 270.0 L612.4 270.0 L615.8 269.3 L619.1 269.1 L622.5 268.3 L625.8 268.2 L629.2 268.0 L632.5 267.3 L635.9 266.8 L639.2 266.2 L642.6 265.9 L645.9 265.4" stroke="#000000" stroke-width="0.7" fill="none" opacity="1.0"/>
<path d="M411.9 372.3 L415.3 373.2 L418.7 373.0 L422.0 373.4 L425.4 372.2 L428.7 373.0 L432.1 372.6 L435.4 371.4 L438.8 372.9 L442.1 371.2 L445.5 370.1 L448.8 370.6 L452.2 369.9 L455.5 369.7 L458.9 370.4 L462.2 369.1 L465.6 370.2 L468.9 367.9 L472.3 368.2 L475.6 367.2 L479.0 365.2 L482.3 366.3 L485.7 366.0 L489.0 366.0 L492.4 363.4 L495.7 364.7 L499.1 364.1 L502.4 361.5 L505.8 361.5 L509.1 361.1 L512.5 357.0 L515.8 357.2 L519.2 352.9 L522.5 352.1 L525.9 349.0 L529.2 344.8 L532.6 340.4 L535.9 334.6 L539.3 327.8 L542.6 314.9 L546.0 299.5 L549.3 292.8 L552.7 286.3 L556.0 278.8 L559.4 273.1 L562.7 269.0 L566.1 265.6 L569.4 262.7 L572.8 260.8 L576.1 258.9 L579.5 257.8 L582.8 256.7 L586.2 255.5 L589.5 254.6 L592.9 253.9 L596.2 253.3 L599.6 253.6 L602.9 253.1 L606.3 253.2 L609.6 252.4 L613.0 253.0 L616.3 252.6 L619.7 252.4 L623.0 252.3 L626.4 252.3 L629.7 251.4 L633.1 251.4 L636.4 250.4 L639.8 250.2 L643.1 249.3 L646.5 248.7" stroke="#ff1010" stroke-width="0.7" fill="none" opacity="1.0"/>
<path d="M412.5 372.6 L415.9 372.2 L419.2 372.1 L422.6 371.2 L425.9 372.8 L429.3 371.7 L432.6 372.3 L436.0 371.5 L439.3 372.4 L442.7 371.4 L446.0 371.5 L449.4 371.5 L452.7 370.3 L456.1 369.8 L459.4 369.4 L462.8 369.1 L466.1 369.0 L469.5 368.2 L472.8 367.6 L476.2 367.7 L479.5 366.7 L482.9 365.2 L486.2 366.5 L489.6 363.5 L492.9 365.8 L496.3 362.4 L499.6 361.7 L503.0 361.4 L506.3 361.6 L509.7 359.0 L513.0 358.8 L516.4 357.1 L519.7 353.7 L523.1 351.5 L526.4 348.2 L529.8 344.1 L533.1 339.3 L536.5 333.6 L539.8 326.2 L543.2 311.9 L546.5 295.5 L549.9 287.5 L553.2 278.2 L556.6 270.0 L559.9 264.7 L563.3 260.0 L566.6 256.5 L570.0 253.8 L573.3 251.9 L576.7 250.4 L580.0 248.4 L583.4 247.0 L586.7 245.6 L590.1 244.9 L593.4 244.2 L596.8 243.6 L600.1 243.8 L603.5 243.6 L606.8 243.3 L610.2 242.8 L613.5 242.5 L616.9 242.8 L620.2 242.5 L623.6 242.1 L626.9 241.7 L630.3 241.1 L633.6 240.8 L637.0 239.8 L640.3 239.2 L643.7 238.6 L647.0 238.0" stroke="#1c2fb8" stroke-width="0.7" fill="none" opacity="1.0"/>
<path d="M413.0 371.1 L416.4 371.1 L419.8 371.0 L423.1 372.5 L426.5 372.9 L429.8 371.6 L433.2 371.7 L436.5 370.4 L439.9 371.7 L443.2 371.2 L446.6 372.4 L449.9 373.2 L453.3 370.4 L456.6 369.3 L460.0 369.4 L463.3 368.5 L466.7 367.9 L470.0 368.6 L473.4 367.5 L476.7 367.4 L480.1 365.3 L483.4 365.9 L486.8 364.9 L490.1 365.8 L493.5 364.4 L496.8 363.4 L500.2 362.6 L503.5 362.1 L506.9 360.3 L510.2 358.7 L513.6 357.3 L516.9 356.2 L520.3 353.9 L523.6 350.7 L527.0 347.3 L530.3 343.4 L533.7 338.6 L537.0 333.0 L540.4 324.5 L543.7 308.4 L547.1 291.3 L550.4 280.3 L553.8 268.2 L557.1 260.3 L560.5 255.9 L563.8 251.8 L567.2 248.0 L570.5 245.0 L573.9 242.6 L577.2 240.9 L580.6 239.6 L583.9 238.4 L587.3 236.8 L590.6 235.5 L594.0 234.4 L597.3 234.0 L600.7 233.7 L604.0 233.6 L607.4 233.5 L610.7 233.2 L614.1 233.1 L617.4 233.1 L620.8 232.7 L624.1 232.4 L627.5 232.2 L630.8 231.9 L634.2 231.7 L637.5 231.3 L640.9 230.7 L644.2 230.5 L647.6 229.9" stroke="#138a2a" stroke-width="0.7" fill="none" opacity="1.0"/>
<path d="M413.6 372.7 L416.9 372.0 L420.3 371.3 L423.7 371.8 L427.0 372.8 L430.4 371.7 L433.7 370.8 L437.1 372.0 L440.4 370.2 L443.8 372.5 L447.1 372.0 L450.5 369.8 L453.8 372.6 L457.2 370.7 L460.5 368.3 L463.9 368.5 L467.2 367.4 L470.6 367.6 L473.9 367.9 L477.3 366.6 L480.6 368.4 L484.0 368.3 L487.3 365.2 L490.7 365.3 L494.0 362.4 L497.4 364.0 L500.7 362.4 L504.1 361.7 L507.4 360.4 L510.8 359.8 L514.1 359.3 L517.5 355.9 L520.8 353.4 L524.2 350.4 L527.5 346.9 L530.9 343.0 L534.2 337.7 L537.6 331.6 L540.9 322.0 L544.3 304.4 L547.6 286.7 L551.0 273.0 L554.3 261.2 L557.7 254.5 L561.0 248.9 L564.4 243.8 L567.7 239.8 L571.1 237.1 L574.4 234.9 L577.8 232.9 L581.1 231.9 L584.5 230.5 L587.8 229.7 L591.2 228.4 L594.5 228.0 L597.9 227.9 L601.2 227.5 L604.6 227.2 L607.9 227.3 L611.3 227.0 L614.6 226.8 L618.0 226.8 L621.3 226.6 L624.7 226.4 L628.0 225.6 L631.4 225.3 L634.7 224.7 L638.1 224.2 L641.4 223.4 L644.8 222.4 L648.1 222.0" stroke="#c050c0" stroke-width="1.2" fill="none" opacity="1.0"/>
<path d="M414.1 373.9 L417.5 373.3 L420.9 373.0 L424.2 373.2 L427.6 372.7 L430.9 370.8 L434.3 371.5 L437.6 372.3 L441.0 371.1 L444.3 369.2 L447.7 370.5 L451.0 369.8 L454.4 369.6 L457.7 370.3 L461.1 369.1 L464.4 367.9 L467.8 367.2 L471.1 367.5 L474.5 367.1 L477.8 366.6 L481.2 366.4 L484.5 367.0 L487.9 363.8 L491.2 363.9 L494.6 364.5 L497.9 363.4 L501.3 361.1 L504.6 361.4 L508.0 360.8 L511.3 360.2 L514.7 356.7 L518.0 355.7 L521.4 353.0 L524.7 349.9 L528.1 346.4 L531.4 341.8 L534.8 336.7 L538.1 330.7 L541.5 319.9 L544.8 300.7 L548.2 281.9 L551.5 266.0 L554.9 252.0 L558.2 244.3 L561.6 238.3 L564.9 233.6 L568.3 230.1 L571.6 228.2 L575.0 226.8 L578.3 225.6 L581.7 224.6 L585.0 223.2 L588.4 222.7 L591.7 222.3 L595.1 221.6 L598.4 221.2 L601.8 221.1 L605.1 220.9 L608.5 220.5 L611.8 220.6 L615.2 220.2 L618.5 220.2 L621.9 219.8 L625.2 219.6 L628.6 219.3 L631.9 219.0 L635.3 218.3 L638.6 217.8 L642.0 217.2 L645.3 217.0" stroke="#ffa31a" stroke-width="0.7" fill="none" opacity="1.0"/>
<path d="M411.4 382.9 L415.9 383.6 L420.4 383.0 L424.9 383.8 L429.4 382.6 L433.9 383.0 L438.4 383.5 L442.9 382.3 L447.4 383.0 L451.9 381.8 L456.4 382.2 L460.9 382.1 L465.4 381.3 L469.9 381.7 L474.4 381.4 L478.9 380.3 L483.4 380.1 L487.9 379.9 L492.4 378.7 L496.9 378.3 L501.4 377.7 L505.9 377.6 L510.4 376.4 L514.9 375.3 L519.4 374.0 L523.9 371.8 L528.4 369.4 L532.9 366.1 L537.4 361.0 L541.9 353.0 L546.4 351.0 L550.9 347.8 L555.4 344.2 L559.9 342.0 L564.4 340.2 L568.9 338.7 L573.4 337.5 L577.9 336.4 L582.4 335.7 L586.9 335.1 L591.4 334.4 L595.9 333.9 L600.4 332.8 L604.9 332.5 L609.4 331.7 L613.9 331.3 L618.4 331.0 L622.9 330.8 L627.4 330.6 L631.9 330.5 L636.4 330.1 L640.9 330.3 L645.4 330.3" stroke="#000000" stroke-width="0.7" fill="none" opacity="1.0"/>
<path d="M411.9 382.5 L416.4 383.1 L420.9 383.2 L425.4 382.7 L429.9 382.7 L434.4 383.5 L438.9 382.4 L443.4 382.8 L447.9 382.2 L452.4 382.5 L456.9 382.3 L461.4 382.2 L465.9 381.8 L470.4 380.5 L474.9 380.3 L479.4 379.9 L483.9 379.7 L488.4 379.6 L492.9 379.1 L497.4 378.3 L501.9 377.9 L506.4 378.8 L510.9 376.1 L515.5 376.4 L520.0 373.0 L524.5 371.2 L529.0 368.8 L533.5 365.6 L538.0 360.2 L542.5 351.1 L547.0 343.7 L551.5 339.3 L556.0 336.2 L560.5 333.6 L565.0 331.6 L569.5 330.0 L574.0 329.2 L578.5 327.5 L583.0 327.0 L587.5 326.4 L592.0 325.9 L596.5 325.8 L601.0 325.6 L605.5 325.6 L610.0 325.2 L614.5 325.0 L619.0 324.6 L623.5 324.5 L628.0 324.1 L632.5 324.0 L637.0 323.6 L641.5 323.4 L646.0 322.9" stroke="#ff1010" stroke-width="0.7" fill="none" opacity="1.0"/>
<path d="M412.5 383.3 L417.0 383.0 L421.5 383.4 L426.0 383.0 L430.5 382.0 L435.0 383.1 L439.5 382.5 L444.0 383.1 L448.5 383.1 L453.0 383.2 L457.5 382.2 L462.0 381.5 L466.5 381.6 L471.0 381.2 L475.5 379.7 L480.0 380.1 L484.5 379.5 L489.0 380.0 L493.5 379.3 L498.0 378.9 L502.5 378.6 L507.0 377.8 L511.5 376.1 L516.0 374.9 L520.5 373.4 L525.0 371.1 L529.5 368.4 L534.0 365.3 L538.5 359.5 L543.0 349.6 L547.5 341.1 L552.0 335.9 L556.5 332.2 L561.0 329.6 L565.5 327.0 L570.0 325.5 L574.5 324.1 L579.0 323.3 L583.5 322.6 L588.0 321.8 L592.5 321.5 L597.0 321.3 L601.5 321.4 L606.0 320.6 L610.5 320.7 L615.0 320.3 L619.5 319.9 L624.0 319.8 L628.5 319.6 L633.0 319.6 L637.5 319.2 L642.0 318.8 L646.5 318.5" stroke="#1c2fb8" stroke-width="0.7" fill="none" opacity="1.0"/>
<path d="M413.0 382.7 L417.5 383.2 L422.0 383.5 L426.5 382.7 L431.0 383.6 L435.5 383.3 L440.0 383.1 L444.5 382.8 L449.0 383.1 L453.5 382.5 L458.0 382.2 L462.5 381.0 L467.0 381.3 L471.5 381.7 L476.0 380.7 L480.5 379.8 L485.0 379.7 L489.5 380.1 L494.0 380.0 L498.5 378.4 L503.0 378.6 L507.5 376.9 L512.0 376.6 L516.5 375.6 L521.0 372.9 L525.5 370.9 L530.0 368.1 L534.5 364.6 L539.0 358.4 L543.5 347.9 L548.0 337.5 L552.5 330.9 L557.0 327.5 L561.5 324.8 L566.0 321.8 L570.5 320.4 L575.0 319.3 L579.5 318.6 L584.0 318.0 L588.5 317.7 L593.0 317.2 L597.5 317.0 L602.0 316.6 L606.5 316.5 L611.0 316.4 L615.5 315.9 L620.0 315.5 L624.5 315.1 L629.0 315.0 L633.5 314.8 L638.0 314.6 L642.5 314.0 L647.0 313.5" stroke="#138a2a" stroke-width="0.7" fill="none" opacity="1.0"/>
<path d="M413.6 382.5 L418.1 383.2 L422.6 382.2 L427.1 383.6 L431.6 384.3 L436.1 383.0 L440.6 382.6 L445.1 381.9 L449.6 382.6 L454.1 381.9 L458.6 382.1 L463.1 380.9 L467.6 381.6 L472.1 381.5 L476.6 379.8 L481.1 380.4 L485.6 380.4 L490.1 379.8 L494.6 379.2 L499.1 378.5 L503.6 378.1 L508.1 377.4 L512.6 376.1 L517.1 374.6 L521.6 372.9 L526.1 370.8 L530.6 367.8 L535.1 363.9 L539.6 357.3 L544.1 346.3 L548.6 334.6 L553.1 328.3 L557.6 324.1 L562.1 321.1 L566.6 318.4 L571.1 317.1 L575.6 316.3 L580.1 315.2 L584.6 314.4 L589.1 313.8 L593.6 313.4 L598.1 313.4 L602.6 313.0 L607.1 312.8 L611.6 312.7 L616.1 312.3 L620.6 312.3 L625.1 311.6 L629.6 311.4 L634.1 311.4 L638.6 310.7 L643.1 310.4 L647.6 310.3" stroke="#c050c0" stroke-width="1.2" fill="none" opacity="1.0"/>
<path d="M414.1 382.8 L418.6 383.3 L423.1 383.3 L427.6 382.6 L432.1 382.4 L436.6 382.8 L441.1 382.5 L445.6 383.2 L450.1 382.6 L454.6 382.0 L459.1 381.5 L463.6 381.3 L468.1 380.7 L472.6 380.2 L477.1 380.6 L481.6 380.1 L486.1 378.9 L490.6 379.2 L495.1 379.2 L499.6 377.7 L504.1 378.2 L508.6 377.5 L513.1 375.8 L517.6 374.3 L522.1 372.6 L526.6 370.5 L531.1 367.3 L535.6 363.3 L540.1 355.8 L544.6 344.3 L549.1 332.3 L553.6 325.0 L558.1 321.2 L562.6 318.8 L567.1 316.1 L571.6 314.6 L576.1 313.8 L580.6 313.0 L585.1 312.0 L589.6 311.7 L594.1 311.3 L598.6 310.8 L603.1 310.7 L607.6 310.6 L612.1 310.0 L616.6 309.8 L621.1 309.6 L625.6 309.1 L630.1 308.9 L634.6 308.4 L639.1 308.0 L643.6 307.8 L648.1 307.2" stroke="#ffa31a" stroke-width="0.7" fill="none" opacity="1.0"/>
<path d="M424.8 370.0h0M495.2 362.7h0M515.3 356.6h0M414.8 372.3h0M455.0 370.1h0M421.5 371.7h0M451.6 371.3h0M508.6 361.9h0M475.1 366.5h0" stroke="#000000" stroke-width="2.8" stroke-linecap="round" fill="none"/>
<path d="M525.9 349.0h0M435.4 371.4h0M438.8 372.9h0" stroke="#ff1010" stroke-width="2.8" stroke-linecap="round" fill="none"/>
<path d="M458.3 370.5h0M441.6 371.2h0" stroke="#000000" stroke-width="2.8" stroke-linecap="round" fill="none"/>
<path d="M499.1 364.1h0" stroke="#ff1010" stroke-width="2.8" stroke-linecap="round" fill="none"/>
<path d="M411.4 371.7h0" stroke="#000000" stroke-width="2.8" stroke-linecap="round" fill="none"/>
<path d="M495.7 364.7h0" stroke="#ff1010" stroke-width="2.8" stroke-linecap="round" fill="none"/>
<path d="M448.3 372.2h0M528.7 345.3h0M478.4 368.5h0" stroke="#000000" stroke-width="2.8" stroke-linecap="round" fill="none"/>
<path d="M425.4 372.2h0" stroke="#ff1010" stroke-width="2.8" stroke-linecap="round" fill="none"/>
<path d="M462.8 369.1h0" stroke="#1c2fb8" stroke-width="2.8" stroke-linecap="round" fill="none"/>
<path d="M519.2 352.9h0" stroke="#ff1010" stroke-width="2.8" stroke-linecap="round" fill="none"/>
<path d="M412.5 372.6h0" stroke="#1c2fb8" stroke-width="2.8" stroke-linecap="round" fill="none"/>
<path d="M462.2 369.1h0M468.9 367.9h0" stroke="#ff1010" stroke-width="2.8" stroke-linecap="round" fill="none"/>
<path d="M513.0 358.8h0M466.1 369.0h0M499.6 361.7h0M496.3 362.4h0" stroke="#1c2fb8" stroke-width="2.8" stroke-linecap="round" fill="none"/>
<path d="M502.4 361.5h0" stroke="#ff1010" stroke-width="2.8" stroke-linecap="round" fill="none"/>
<path d="M418.1 371.9h0M428.2 372.4h0" stroke="#000000" stroke-width="2.8" stroke-linecap="round" fill="none"/>
<path d="M512.5 357.0h0" stroke="#ff1010" stroke-width="2.8" stroke-linecap="round" fill="none"/>
<path d="M482.9 365.2h0" stroke="#1c2fb8" stroke-width="2.8" stroke-linecap="round" fill="none"/>
<path d="M475.6 367.2h0M445.5 370.1h0" stroke="#ff1010" stroke-width="2.8" stroke-linecap="round" fill="none"/>
<path d="M526.4 348.2h0M449.4 371.5h0" stroke="#1c2fb8" stroke-width="2.8" stroke-linecap="round" fill="none"/>
<path d="M428.7 373.0h0" stroke="#ff1010" stroke-width="2.8" stroke-linecap="round" fill="none"/>
<path d="M511.9 358.6h0" stroke="#000000" stroke-width="2.8" stroke-linecap="round" fill="none"/>
<path d="M509.7 359.0h0" stroke="#1c2fb8" stroke-width="2.8" stroke-linecap="round" fill="none"/>
<path d="M485.7 366.0h0M515.8 357.2h0" stroke="#ff1010" stroke-width="2.8" stroke-linecap="round" fill="none"/>
<path d="M503.0 361.4h0M469.5 368.2h0" stroke="#1c2fb8" stroke-width="2.8" stroke-linecap="round" fill="none"/>
<path d="M505.2 361.1h0" stroke="#000000" stroke-width="2.8" stroke-linecap="round" fill="none"/>
<path d="M455.5 369.7h0M479.0 365.2h0" stroke="#ff1010" stroke-width="2.8" stroke-linecap="round" fill="none"/>
<path d="M442.7 371.4h0" stroke="#1c2fb8" stroke-width="2.8" stroke-linecap="round" fill="none"/>
<path d="M443.2 369.4l1.8 3.1h-3.6z" fill="#138a2a"/>
<path d="M444.9 372.1h0" stroke="#000000" stroke-width="2.8" stroke-linecap="round" fill="none"/>
<path d="M423.1 370.7l1.8 3.1h-3.6z" fill="#138a2a"/>
<path d="M492.9 365.8h0" stroke="#1c2fb8" stroke-width="2.8" stroke-linecap="round" fill="none"/>
<path d="M525.3 349.2h0" stroke="#000000" stroke-width="2.8" stroke-linecap="round" fill="none"/>
<path d="M466.7 366.1l1.8 3.1h-3.6z" fill="#138a2a"/>
<path d="M535.4 335.9h0" stroke="#000000" stroke-width="2.8" stroke-linecap="round" fill="none"/>
<path d="M465.6 370.2h0M415.3 373.2h0" stroke="#ff1010" stroke-width="2.8" stroke-linecap="round" fill="none"/>
<path d="M519.7 353.7h0" stroke="#1c2fb8" stroke-width="2.8" stroke-linecap="round" fill="none"/>
<path d="M500.2 360.8l1.8 3.1h-3.6z" fill="#138a2a"/>
<path d="M422.0 373.4h0" stroke="#ff1010" stroke-width="2.8" stroke-linecap="round" fill="none"/>
<path d="M498.5 362.5h0" stroke="#000000" stroke-width="2.8" stroke-linecap="round" fill="none"/>
<path d="M415.9 372.2h0M479.5 366.7h0" stroke="#1c2fb8" stroke-width="2.8" stroke-linecap="round" fill="none"/>
<path d="M522.5 352.1h0" stroke="#ff1010" stroke-width="2.8" stroke-linecap="round" fill="none"/>
<path d="M439.3 372.4h0" stroke="#1c2fb8" stroke-width="2.8" stroke-linecap="round" fill="none"/>
<path d="M481.8 365.1h0" stroke="#000000" stroke-width="2.8" stroke-linecap="round" fill="none"/>
<path d="M452.2 369.9h0" stroke="#ff1010" stroke-width="2.8" stroke-linecap="round" fill="none"/>
<path d="M463.3 366.6l1.8 3.1h-3.6z" fill="#138a2a"/>
<path d="M459.4 369.4h0" stroke="#1c2fb8" stroke-width="2.8" stroke-linecap="round" fill="none"/>
<path d="M476.5 365.8h1.6v1.6h-1.6z" fill="#c050c0"/>
<path d="M501.9 362.5h0" stroke="#000000" stroke-width="2.8" stroke-linecap="round" fill="none"/>
<path d="M411.9 372.3h0" stroke="#ff1010" stroke-width="2.8" stroke-linecap="round" fill="none"/>
<path d="M483.2 367.5h1.6v1.6h-1.6zM533.4 336.9h1.6v1.6h-1.6z" fill="#c050c0"/>
<path d="M476.2 367.7h0" stroke="#1c2fb8" stroke-width="2.8" stroke-linecap="round" fill="none"/>
<path d="M536.8 330.8h1.6v1.6h-1.6z" fill="#c050c0"/>
<path d="M448.8 370.6h0" stroke="#ff1010" stroke-width="2.8" stroke-linecap="round" fill="none"/>
<path d="M453.3 368.5l1.8 3.1h-3.6zM503.5 360.3l1.8 3.1h-3.6z" fill="#138a2a"/>
<path d="M436.3 371.2h1.6v1.6h-1.6z" fill="#c050c0"/>
<path d="M452.7 370.3h0" stroke="#1c2fb8" stroke-width="2.8" stroke-linecap="round" fill="none"/>
<path d="M489.0 366.0h0" stroke="#ff1010" stroke-width="2.8" stroke-linecap="round" fill="none"/>
<path d="M453.0 371.8h1.6v1.6h-1.6z" fill="#c050c0"/>
<path d="M456.6 367.5l1.8 3.1h-3.6z" fill="#138a2a"/>
<path d="M485.1 365.1h0" stroke="#000000" stroke-width="2.8" stroke-linecap="round" fill="none"/>
<path d="M422.9 371.0h1.6v1.6h-1.6z" fill="#c050c0"/>
<path d="M416.4 369.3l1.8 3.1h-3.6zM449.9 371.3l1.8 3.1h-3.6z" fill="#138a2a"/>
<path d="M536.5 333.6h0M425.9 372.8h0" stroke="#1c2fb8" stroke-width="2.8" stroke-linecap="round" fill="none"/>
<path d="M429.8 369.7l1.8 3.1h-3.6zM446.6 370.6l1.8 3.1h-3.6z" fill="#138a2a"/>
<path d="M489.6 363.5h0" stroke="#1c2fb8" stroke-width="2.8" stroke-linecap="round" fill="none"/>
<path d="M438.2 371.5h0" stroke="#000000" stroke-width="2.8" stroke-linecap="round" fill="none"/>
<path d="M418.7 373.0h0" stroke="#ff1010" stroke-width="2.8" stroke-linecap="round" fill="none"/>
<path d="M446.0 371.5h0" stroke="#1c2fb8" stroke-width="2.8" stroke-linecap="round" fill="none"/>
<path d="M509.1 361.1h0" stroke="#ff1010" stroke-width="2.8" stroke-linecap="round" fill="none"/>
<path d="M489.9 364.5h1.6v1.6h-1.6z" fill="#c050c0"/>
<path d="M442.1 371.2h0" stroke="#ff1010" stroke-width="2.8" stroke-linecap="round" fill="none"/>
<path d="M443.0 371.7h1.6v1.6h-1.6z" fill="#c050c0"/>
<path d="M472.3 368.2h0" stroke="#ff1010" stroke-width="2.8" stroke-linecap="round" fill="none"/>
<path d="M471.7 366.8h0M434.9 372.1h0M468.4 369.1h0" stroke="#000000" stroke-width="2.8" stroke-linecap="round" fill="none"/>
<path d="M516.4 357.1h0" stroke="#1c2fb8" stroke-width="2.8" stroke-linecap="round" fill="none"/>
<path d="M465.0 368.2h0" stroke="#000000" stroke-width="2.8" stroke-linecap="round" fill="none"/>
<path d="M456.4 369.9h1.6v1.6h-1.6z" fill="#c050c0"/>
<path d="M516.9 354.4l1.8 3.1h-3.6z" fill="#138a2a"/>
<path d="M437.6 372.3h0" stroke="#ffa31a" stroke-width="2.5" stroke-linecap="round" fill="none"/>
<path d="M542.1 316.5h0M488.5 363.7h0" stroke="#000000" stroke-width="2.8" stroke-linecap="round" fill="none"/>
<path d="M529.8 344.1h0" stroke="#1c2fb8" stroke-width="2.8" stroke-linecap="round" fill="none"/>
<path d="M529.2 344.8h0" stroke="#ff1010" stroke-width="2.8" stroke-linecap="round" fill="none"/>
<path d="M522.0 352.4h0" stroke="#000000" stroke-width="2.8" stroke-linecap="round" fill="none"/>
<path d="M510.0 359.0h1.6v1.6h-1.6z" fill="#c050c0"/>
<path d="M491.8 364.8h0M538.7 329.1h0" stroke="#000000" stroke-width="2.8" stroke-linecap="round" fill="none"/>
<path d="M473.1 367.1h1.6v1.6h-1.6z" fill="#c050c0"/>
<path d="M501.3 361.1h0" stroke="#ffa31a" stroke-width="2.5" stroke-linecap="round" fill="none"/>
<path d="M539.3 327.8h0" stroke="#ff1010" stroke-width="2.8" stroke-linecap="round" fill="none"/>
<path d="M480.1 363.5l1.8 3.1h-3.6z" fill="#138a2a"/>
<path d="M532.0 341.0h0" stroke="#000000" stroke-width="2.8" stroke-linecap="round" fill="none"/>
<path d="M419.8 369.2l1.8 3.1h-3.6z" fill="#138a2a"/>
<path d="M482.3 366.3h0" stroke="#ff1010" stroke-width="2.8" stroke-linecap="round" fill="none"/>
<path d="M431.5 372.5h0" stroke="#000000" stroke-width="2.8" stroke-linecap="round" fill="none"/>
<path d="M447.7 370.5h0" stroke="#ffa31a" stroke-width="2.5" stroke-linecap="round" fill="none"/>
<path d="M426.5 371.1l1.8 3.1h-3.6z" fill="#138a2a"/>
<path d="M461.7 371.2h0" stroke="#000000" stroke-width="2.8" stroke-linecap="round" fill="none"/>
<path d="M474.5 367.1h0" stroke="#ffa31a" stroke-width="2.5" stroke-linecap="round" fill="none"/>
<path d="M505.8 361.5h0" stroke="#ff1010" stroke-width="2.8" stroke-linecap="round" fill="none"/>
<path d="M518.6 355.5h0" stroke="#000000" stroke-width="2.8" stroke-linecap="round" fill="none"/>
<path d="M412.8 371.9h1.6v1.6h-1.6z" fill="#c050c0"/>
<path d="M477.8 366.6h0" stroke="#ffa31a" stroke-width="2.5" stroke-linecap="round" fill="none"/>
<path d="M432.6 372.3h0" stroke="#1c2fb8" stroke-width="2.8" stroke-linecap="round" fill="none"/>
<path d="M424.2 373.2h0" stroke="#ffa31a" stroke-width="2.5" stroke-linecap="round" fill="none"/>
<path d="M413.0 369.2l1.8 3.1h-3.6z" fill="#138a2a"/>
<path d="M432.1 372.6h0" stroke="#ff1010" stroke-width="2.8" stroke-linecap="round" fill="none"/>
<path d="M534.8 336.7h0" stroke="#ffa31a" stroke-width="2.5" stroke-linecap="round" fill="none"/>
<path d="M496.8 361.6l1.8 3.1h-3.6z" fill="#138a2a"/>
<path d="M516.7 355.1h1.6v1.6h-1.6z" fill="#c050c0"/>
<path d="M439.9 369.9l1.8 3.1h-3.6z" fill="#138a2a"/>
<path d="M524.7 349.9h0" stroke="#ffa31a" stroke-width="2.5" stroke-linecap="round" fill="none"/>
<path d="M424.9 383.8h0" stroke="#000000" stroke-width="2.52" stroke-linecap="round" fill="none"/>
<path d="M531.4 341.8h0" stroke="#ffa31a" stroke-width="2.5" stroke-linecap="round" fill="none"/>
<path d="M506.3 361.6h0" stroke="#1c2fb8" stroke-width="2.8" stroke-linecap="round" fill="none"/>
<path d="M533.7 336.8l1.8 3.1h-3.6z" fill="#138a2a"/>
<path d="M508.0 360.8h0" stroke="#ffa31a" stroke-width="2.5" stroke-linecap="round" fill="none"/>
<path d="M532.6 340.4h0" stroke="#ff1010" stroke-width="2.8" stroke-linecap="round" fill="none"/>
<path d="M473.4 365.7l1.8 3.1h-3.6z" fill="#138a2a"/>
<path d="M464.4 367.9h0" stroke="#ffa31a" stroke-width="2.5" stroke-linecap="round" fill="none"/>
<path d="M492.4 363.4h0" stroke="#ff1010" stroke-width="2.8" stroke-linecap="round" fill="none"/>
<path d="M451.9 381.8h0" stroke="#000000" stroke-width="2.52" stroke-linecap="round" fill="none"/>
<path d="M533.1 339.3h0M422.6 371.2h0M472.8 367.6h0" stroke="#1c2fb8" stroke-width="2.8" stroke-linecap="round" fill="none"/>
<path d="M535.9 334.6h0M542.6 314.9h0" stroke="#ff1010" stroke-width="2.8" stroke-linecap="round" fill="none"/>
<path d="M511.3 360.2h0" stroke="#ffa31a" stroke-width="2.5" stroke-linecap="round" fill="none"/>
<path d="M526.7 346.1h1.6v1.6h-1.6z" fill="#c050c0"/>
<path d="M532.9 366.1h0" stroke="#000000" stroke-width="2.52" stroke-linecap="round" fill="none"/>
<path d="M527.0 345.4l1.8 3.1h-3.6z" fill="#138a2a"/>
<path d="M461.1 369.1h0" stroke="#ffa31a" stroke-width="2.5" stroke-linecap="round" fill="none"/>
<path d="M436.0 371.5h0" stroke="#1c2fb8" stroke-width="2.8" stroke-linecap="round" fill="none"/>
<path d="M486.8 363.1l1.8 3.1h-3.6zM537.0 331.2l1.8 3.1h-3.6zM520.3 352.0l1.8 3.1h-3.6z" fill="#138a2a"/>
<path d="M458.9 370.4h0" stroke="#ff1010" stroke-width="2.8" stroke-linecap="round" fill="none"/>
<path d="M541.5 319.9h0" stroke="#ffa31a" stroke-width="2.5" stroke-linecap="round" fill="none"/>
<path d="M540.4 322.7l1.8 3.1h-3.6z" fill="#138a2a"/>
<path d="M497.4 378.3h0M492.9 379.1h0" stroke="#ff1010" stroke-width="2.52" stroke-linecap="round" fill="none"/>
<path d="M530.1 342.2h1.6v1.6h-1.6z" fill="#c050c0"/>
<path d="M427.6 372.7h0M454.4 369.6h0" stroke="#ffa31a" stroke-width="2.5" stroke-linecap="round" fill="none"/>
<path d="M503.3 360.9h1.6v1.6h-1.6zM463.1 367.7h1.6v1.6h-1.6z" fill="#c050c0"/>
<path d="M493.5 362.6l1.8 3.1h-3.6z" fill="#138a2a"/>
<path d="M456.4 382.2h0" stroke="#000000" stroke-width="2.52" stroke-linecap="round" fill="none"/>
<path d="M420.9 383.2h0" stroke="#ff1010" stroke-width="2.52" stroke-linecap="round" fill="none"/>
<path d="M518.0 355.7h0" stroke="#ffa31a" stroke-width="2.5" stroke-linecap="round" fill="none"/>
<path d="M461.4 382.2h0" stroke="#ff1010" stroke-width="2.52" stroke-linecap="round" fill="none"/>
<path d="M540.1 321.2h1.6v1.6h-1.6z" fill="#c050c0"/>
<path d="M491.2 363.9h0" stroke="#ffa31a" stroke-width="2.5" stroke-linecap="round" fill="none"/>
<path d="M429.3 371.7h0" stroke="#1c2fb8" stroke-width="2.8" stroke-linecap="round" fill="none"/>
<path d="M490.1 364.0l1.8 3.1h-3.6z" fill="#138a2a"/>
<path d="M456.1 369.8h0M419.2 372.1h0" stroke="#1c2fb8" stroke-width="2.8" stroke-linecap="round" fill="none"/>
<path d="M523.6 348.9l1.8 3.1h-3.6z" fill="#138a2a"/>
<path d="M416.4 383.1h0" stroke="#ff1010" stroke-width="2.52" stroke-linecap="round" fill="none"/>
<path d="M459.7 367.5h1.6v1.6h-1.6z" fill="#c050c0"/>
<path d="M510.4 376.4h0" stroke="#000000" stroke-width="2.52" stroke-linecap="round" fill="none"/>
<path d="M425.4 382.7h0" stroke="#ff1010" stroke-width="2.52" stroke-linecap="round" fill="none"/>
<path d="M429.4 382.6h0M492.4 378.7h0" stroke="#000000" stroke-width="2.52" stroke-linecap="round" fill="none"/>
<path d="M530.3 341.6l1.8 3.1h-3.6z" fill="#138a2a"/>
<path d="M486.2 366.5h0" stroke="#1c2fb8" stroke-width="2.8" stroke-linecap="round" fill="none"/>
<path d="M467.8 367.2h0" stroke="#ffa31a" stroke-width="2.5" stroke-linecap="round" fill="none"/>
<path d="M539.8 326.2h0" stroke="#1c2fb8" stroke-width="2.8" stroke-linecap="round" fill="none"/>
<path d="M414.1 373.9h0" stroke="#ffa31a" stroke-width="2.5" stroke-linecap="round" fill="none"/>
<path d="M524.5 371.2h0" stroke="#ff1010" stroke-width="2.52" stroke-linecap="round" fill="none"/>
<path d="M538.1 330.7h0" stroke="#ffa31a" stroke-width="2.5" stroke-linecap="round" fill="none"/>
<path d="M523.1 351.5h0" stroke="#1c2fb8" stroke-width="2.8" stroke-linecap="round" fill="none"/>
<path d="M436.5 368.6l1.8 3.1h-3.6z" fill="#138a2a"/>
<path d="M449.7 369.0h1.6v1.6h-1.6zM432.9 370.0h1.6v1.6h-1.6zM513.3 358.5h1.6v1.6h-1.6z" fill="#c050c0"/>
<path d="M434.4 383.5h0" stroke="#ff1010" stroke-width="2.52" stroke-linecap="round" fill="none"/>
<path d="M487.9 363.8h0" stroke="#ffa31a" stroke-width="2.5" stroke-linecap="round" fill="none"/>
<path d="M474.9 380.3h0" stroke="#ff1010" stroke-width="2.52" stroke-linecap="round" fill="none"/>
<path d="M525.0 371.1h0" stroke="#1c2fb8" stroke-width="2.52" stroke-linecap="round" fill="none"/>
<path d="M434.3 371.5h0" stroke="#ffa31a" stroke-width="2.5" stroke-linecap="round" fill="none"/>
<path d="M465.4 381.3h0M541.9 353.0h0" stroke="#000000" stroke-width="2.52" stroke-linecap="round" fill="none"/>
<path d="M460.0 367.6l1.8 3.1h-3.6zM506.9 358.5l1.8 3.1h-3.6z" fill="#138a2a"/>
<path d="M451.0 369.8h0" stroke="#ffa31a" stroke-width="2.5" stroke-linecap="round" fill="none"/>
<path d="M433.2 369.9l1.8 3.1h-3.6zM510.2 356.9l1.8 3.1h-3.6zM483.4 364.0l1.8 3.1h-3.6z" fill="#138a2a"/>
<path d="M466.4 366.6h1.6v1.6h-1.6z" fill="#c050c0"/>
<path d="M513.6 355.5l1.8 3.1h-3.6zM470.0 366.8l1.8 3.1h-3.6z" fill="#138a2a"/>
<path d="M523.4 349.6h1.6v1.6h-1.6z" fill="#c050c0"/>
<path d="M420.9 373.0h0" stroke="#ffa31a" stroke-width="2.5" stroke-linecap="round" fill="none"/>
<path d="M528.4 369.4h0" stroke="#000000" stroke-width="2.52" stroke-linecap="round" fill="none"/>
<path d="M496.6 363.2h1.6v1.6h-1.6z" fill="#c050c0"/>
<path d="M421.5 383.4h0" stroke="#1c2fb8" stroke-width="2.52" stroke-linecap="round" fill="none"/>
<path d="M481.2 366.4h0" stroke="#ffa31a" stroke-width="2.5" stroke-linecap="round" fill="none"/>
<path d="M501.4 377.7h0" stroke="#000000" stroke-width="2.52" stroke-linecap="round" fill="none"/>
<path d="M488.4 379.6h0" stroke="#ff1010" stroke-width="2.52" stroke-linecap="round" fill="none"/>
<path d="M493.2 361.6h1.6v1.6h-1.6z" fill="#c050c0"/>
<path d="M447.4 383.0h0M438.4 383.5h0" stroke="#000000" stroke-width="2.52" stroke-linecap="round" fill="none"/>
<path d="M476.7 365.6l1.8 3.1h-3.6z" fill="#138a2a"/>
<path d="M483.9 379.7h0M452.4 382.5h0" stroke="#ff1010" stroke-width="2.52" stroke-linecap="round" fill="none"/>
<path d="M529.5 368.4h0" stroke="#1c2fb8" stroke-width="2.52" stroke-linecap="round" fill="none"/>
<path d="M443.4 382.8h0" stroke="#ff1010" stroke-width="2.52" stroke-linecap="round" fill="none"/>
<path d="M411.4 382.9h0" stroke="#000000" stroke-width="2.52" stroke-linecap="round" fill="none"/>
<path d="M486.5 364.4h1.6v1.6h-1.6zM499.9 361.6h1.6v1.6h-1.6z" fill="#c050c0"/>
<path d="M433.9 383.0h0" stroke="#000000" stroke-width="2.52" stroke-linecap="round" fill="none"/>
<path d="M506.6 359.6h1.6v1.6h-1.6zM520.0 352.6h1.6v1.6h-1.6z" fill="#c050c0"/>
<path d="M480.0 380.1h0" stroke="#1c2fb8" stroke-width="2.52" stroke-linecap="round" fill="none"/>
<path d="M439.6 369.4h1.6v1.6h-1.6z" fill="#c050c0"/>
<path d="M435.5 381.6l1.6 2.8h-3.3z" fill="#138a2a"/>
<path d="M465.9 381.8h0" stroke="#ff1010" stroke-width="2.52" stroke-linecap="round" fill="none"/>
<path d="M479.8 367.6h1.6v1.6h-1.6zM416.1 371.2h1.6v1.6h-1.6z" fill="#c050c0"/>
<path d="M462.5 379.4l1.6 2.8h-3.3z" fill="#138a2a"/>
<path d="M469.8 366.8h1.6v1.6h-1.6z" fill="#c050c0"/>
<path d="M430.9 370.8h0" stroke="#ffa31a" stroke-width="2.5" stroke-linecap="round" fill="none"/>
<path d="M487.9 379.9h0" stroke="#000000" stroke-width="2.52" stroke-linecap="round" fill="none"/>
<path d="M497.9 363.4h0" stroke="#ffa31a" stroke-width="2.5" stroke-linecap="round" fill="none"/>
<path d="M523.9 371.8h0" stroke="#000000" stroke-width="2.52" stroke-linecap="round" fill="none"/>
<path d="M516.0 374.9h0" stroke="#1c2fb8" stroke-width="2.52" stroke-linecap="round" fill="none"/>
<path d="M457.7 370.3h0" stroke="#ffa31a" stroke-width="2.5" stroke-linecap="round" fill="none"/>
<path d="M419.5 370.5h1.6v1.6h-1.6z" fill="#c050c0"/>
<path d="M478.9 380.3h0" stroke="#000000" stroke-width="2.52" stroke-linecap="round" fill="none"/>
<path d="M429.6 370.9h1.6v1.6h-1.6z" fill="#c050c0"/>
<path d="M521.4 353.0h0" stroke="#ffa31a" stroke-width="2.5" stroke-linecap="round" fill="none"/>
<path d="M446.3 371.2h1.6v1.6h-1.6z" fill="#c050c0"/>
<path d="M448.5 383.1h0" stroke="#1c2fb8" stroke-width="2.52" stroke-linecap="round" fill="none"/>
<path d="M426.2 372.0h1.6v1.6h-1.6z" fill="#c050c0"/>
<path d="M475.5 379.7h0" stroke="#1c2fb8" stroke-width="2.52" stroke-linecap="round" fill="none"/>
<path d="M489.5 378.5l1.6 2.8h-3.3zM431.0 382.0l1.6 2.8h-3.3zM539.0 356.7l1.6 2.8h-3.3z" fill="#138a2a"/>
<path d="M484.5 379.5h0" stroke="#1c2fb8" stroke-width="2.52" stroke-linecap="round" fill="none"/>
<path d="M444.3 369.2h0" stroke="#ffa31a" stroke-width="2.5" stroke-linecap="round" fill="none"/>
<path d="M533.5 365.6h0" stroke="#ff1010" stroke-width="2.52" stroke-linecap="round" fill="none"/>
<path d="M507.5 375.3l1.6 2.8h-3.3z" fill="#138a2a"/>
<path d="M514.7 356.7h0M441.0 371.1h0" stroke="#ffa31a" stroke-width="2.5" stroke-linecap="round" fill="none"/>
<path d="M483.4 380.1h0" stroke="#000000" stroke-width="2.52" stroke-linecap="round" fill="none"/>
<path d="M494.6 364.5h0M417.5 373.3h0" stroke="#ffa31a" stroke-width="2.5" stroke-linecap="round" fill="none"/>
<path d="M417.4 382.5h1.4400000000000002v1.4400000000000002h-1.4400000000000002z" fill="#c050c0"/>
<path d="M528.1 346.4h0" stroke="#ffa31a" stroke-width="2.5" stroke-linecap="round" fill="none"/>
<path d="M420.4 383.0h0" stroke="#000000" stroke-width="2.52" stroke-linecap="round" fill="none"/>
<path d="M504.6 361.4h0" stroke="#ffa31a" stroke-width="2.5" stroke-linecap="round" fill="none"/>
<path d="M442.9 382.3h0" stroke="#000000" stroke-width="2.52" stroke-linecap="round" fill="none"/>
<path d="M484.5 367.0h0" stroke="#ffa31a" stroke-width="2.5" stroke-linecap="round" fill="none"/>
<path d="M471.5 380.0l1.6 2.8h-3.3z" fill="#138a2a"/>
<path d="M430.9 383.6h1.4400000000000002v1.4400000000000002h-1.4400000000000002z" fill="#c050c0"/>
<path d="M502.5 378.6h0M507.0 377.8h0" stroke="#1c2fb8" stroke-width="2.52" stroke-linecap="round" fill="none"/>
<path d="M511.9 375.4h1.4400000000000002v1.4400000000000002h-1.4400000000000002z" fill="#c050c0"/>
<path d="M494.0 378.4l1.6 2.8h-3.3z" fill="#138a2a"/>
<path d="M457.5 382.2h0" stroke="#1c2fb8" stroke-width="2.52" stroke-linecap="round" fill="none"/>
<path d="M538.0 360.2h0M447.9 382.2h0" stroke="#ff1010" stroke-width="2.52" stroke-linecap="round" fill="none"/>
<path d="M520.5 373.4h0" stroke="#1c2fb8" stroke-width="2.52" stroke-linecap="round" fill="none"/>
<path d="M529.0 368.8h0" stroke="#ff1010" stroke-width="2.52" stroke-linecap="round" fill="none"/>
<path d="M467.0 379.7l1.6 2.8h-3.3zM530.0 366.4l1.6 2.8h-3.3z" fill="#138a2a"/>
<path d="M412.9 381.8h1.4400000000000002v1.4400000000000002h-1.4400000000000002z" fill="#c050c0"/>
<path d="M469.9 381.7h0M537.4 361.0h0M519.4 374.0h0" stroke="#000000" stroke-width="2.52" stroke-linecap="round" fill="none"/>
<path d="M456.9 382.3h0" stroke="#ff1010" stroke-width="2.52" stroke-linecap="round" fill="none"/>
<path d="M426.4 382.9h1.4400000000000002v1.4400000000000002h-1.4400000000000002z" fill="#c050c0"/>
<path d="M498.5 376.8l1.6 2.8h-3.3z" fill="#138a2a"/>
<path d="M471.1 367.5h0" stroke="#ffa31a" stroke-width="2.5" stroke-linecap="round" fill="none"/>
<path d="M458.0 380.6l1.6 2.8h-3.3z" fill="#138a2a"/>
<path d="M498.4 377.8h1.4400000000000002v1.4400000000000002h-1.4400000000000002z" fill="#c050c0"/>
<path d="M479.4 379.9h0M411.9 382.5h0" stroke="#ff1010" stroke-width="2.52" stroke-linecap="round" fill="none"/>
<path d="M516.4 373.8h1.4400000000000002v1.4400000000000002h-1.4400000000000002z" fill="#c050c0"/>
<path d="M460.9 382.1h0" stroke="#000000" stroke-width="2.52" stroke-linecap="round" fill="none"/>
<path d="M436.6 382.8h0M427.6 382.6h0" stroke="#ffa31a" stroke-width="2.25" stroke-linecap="round" fill="none"/>
<path d="M417.5 381.6l1.6 2.8h-3.3z" fill="#138a2a"/>
<path d="M514.9 375.3h0" stroke="#000000" stroke-width="2.52" stroke-linecap="round" fill="none"/>
<path d="M534.0 365.3h0" stroke="#1c2fb8" stroke-width="2.52" stroke-linecap="round" fill="none"/>
<path d="M415.9 383.6h0M505.9 377.6h0M496.9 378.3h0" stroke="#000000" stroke-width="2.52" stroke-linecap="round" fill="none"/>
<path d="M525.4 370.0h1.4400000000000002v1.4400000000000002h-1.4400000000000002z" fill="#c050c0"/>
<path d="M462.0 381.5h0" stroke="#1c2fb8" stroke-width="2.52" stroke-linecap="round" fill="none"/>
<path d="M526.6 370.5h0" stroke="#ffa31a" stroke-width="2.25" stroke-linecap="round" fill="none"/>
<path d="M439.5 382.5h0" stroke="#1c2fb8" stroke-width="2.52" stroke-linecap="round" fill="none"/>
<path d="M439.9 381.9h1.4400000000000002v1.4400000000000002h-1.4400000000000002z" fill="#c050c0"/>
<path d="M489.0 380.0h0" stroke="#1c2fb8" stroke-width="2.52" stroke-linecap="round" fill="none"/>
<path d="M510.9 376.1h0M515.5 376.4h0M429.9 382.7h0" stroke="#ff1010" stroke-width="2.52" stroke-linecap="round" fill="none"/>
<path d="M421.9 381.5h1.4400000000000002v1.4400000000000002h-1.4400000000000002z" fill="#c050c0"/>
<path d="M426.0 383.0h0" stroke="#1c2fb8" stroke-width="2.52" stroke-linecap="round" fill="none"/>
<path d="M474.4 381.4h0" stroke="#000000" stroke-width="2.52" stroke-linecap="round" fill="none"/>
<path d="M445.6 383.2h0M450.1 382.6h0" stroke="#ffa31a" stroke-width="2.25" stroke-linecap="round" fill="none"/>
<path d="M506.4 378.8h0" stroke="#ff1010" stroke-width="2.52" stroke-linecap="round" fill="none"/>
<path d="M430.5 382.0h0" stroke="#1c2fb8" stroke-width="2.52" stroke-linecap="round" fill="none"/>
<path d="M481.6 380.1h0" stroke="#ffa31a" stroke-width="2.25" stroke-linecap="round" fill="none"/>
<path d="M534.5 363.0l1.6 2.8h-3.3z" fill="#138a2a"/>
<path d="M538.5 359.5h0M471.0 381.2h0" stroke="#1c2fb8" stroke-width="2.52" stroke-linecap="round" fill="none"/>
<path d="M521.0 371.2l1.6 2.8h-3.3z" fill="#138a2a"/>
<path d="M529.9 367.1h1.4400000000000002v1.4400000000000002h-1.4400000000000002z" fill="#c050c0"/>
<path d="M463.6 381.3h0" stroke="#ffa31a" stroke-width="2.25" stroke-linecap="round" fill="none"/>
<path d="M438.9 382.4h0" stroke="#ff1010" stroke-width="2.52" stroke-linecap="round" fill="none"/>
<path d="M435.0 383.1h0M412.5 383.3h0" stroke="#1c2fb8" stroke-width="2.52" stroke-linecap="round" fill="none"/>
<path d="M470.4 380.5h0" stroke="#ff1010" stroke-width="2.52" stroke-linecap="round" fill="none"/>
<path d="M453.5 380.9l1.6 2.8h-3.3z" fill="#138a2a"/>
<path d="M542.5 351.1h0" stroke="#ff1010" stroke-width="2.52" stroke-linecap="round" fill="none"/>
<path d="M413.0 381.1l1.6 2.8h-3.3z" fill="#138a2a"/>
<path d="M501.9 377.9h0M520.0 373.0h0" stroke="#ff1010" stroke-width="2.52" stroke-linecap="round" fill="none"/>
<path d="M426.5 381.1l1.6 2.8h-3.3z" fill="#138a2a"/>
<path d="M540.1 355.8h0" stroke="#ffa31a" stroke-width="2.25" stroke-linecap="round" fill="none"/>
<path d="M511.5 376.1h0" stroke="#1c2fb8" stroke-width="2.52" stroke-linecap="round" fill="none"/>
<path d="M507.4 376.7h1.4400000000000002v1.4400000000000002h-1.4400000000000002z" fill="#c050c0"/>
<path d="M414.1 382.8h0" stroke="#ffa31a" stroke-width="2.25" stroke-linecap="round" fill="none"/>
<path d="M444.0 383.1h0" stroke="#1c2fb8" stroke-width="2.52" stroke-linecap="round" fill="none"/>
<path d="M493.9 378.5h1.4400000000000002v1.4400000000000002h-1.4400000000000002z" fill="#c050c0"/>
<path d="M516.5 373.9l1.6 2.8h-3.3z" fill="#138a2a"/>
<path d="M508.6 377.5h0" stroke="#ffa31a" stroke-width="2.25" stroke-linecap="round" fill="none"/>
<path d="M489.4 379.0h1.4400000000000002v1.4400000000000002h-1.4400000000000002z" fill="#c050c0"/>
<path d="M418.6 383.3h0" stroke="#ffa31a" stroke-width="2.25" stroke-linecap="round" fill="none"/>
<path d="M475.9 379.0h1.4400000000000002v1.4400000000000002h-1.4400000000000002z" fill="#c050c0"/>
<path d="M466.5 381.6h0M498.0 378.9h0" stroke="#1c2fb8" stroke-width="2.52" stroke-linecap="round" fill="none"/>
<path d="M423.1 383.3h0" stroke="#ffa31a" stroke-width="2.25" stroke-linecap="round" fill="none"/>
<path d="M453.0 383.2h0" stroke="#1c2fb8" stroke-width="2.52" stroke-linecap="round" fill="none"/>
<path d="M485.0 378.1l1.6 2.8h-3.3zM512.0 375.0l1.6 2.8h-3.3z" fill="#138a2a"/>
<path d="M417.0 383.0h0" stroke="#1c2fb8" stroke-width="2.52" stroke-linecap="round" fill="none"/>
<path d="M472.6 380.2h0" stroke="#ffa31a" stroke-width="2.25" stroke-linecap="round" fill="none"/>
<path d="M457.9 381.4h1.4400000000000002v1.4400000000000002h-1.4400000000000002z" fill="#c050c0"/>
<path d="M493.5 379.3h0" stroke="#1c2fb8" stroke-width="2.52" stroke-linecap="round" fill="none"/>
<path d="M534.4 363.1h1.4400000000000002v1.4400000000000002h-1.4400000000000002zM480.4 379.6h1.4400000000000002v1.4400000000000002h-1.4400000000000002zM448.9 381.8h1.4400000000000002v1.4400000000000002h-1.4400000000000002zM471.4 380.7h1.4400000000000002v1.4400000000000002h-1.4400000000000002z" fill="#c050c0"/>
<path d="M468.1 380.7h0" stroke="#ffa31a" stroke-width="2.25" stroke-linecap="round" fill="none"/>
<path d="M484.9 379.6h1.4400000000000002v1.4400000000000002h-1.4400000000000002z" fill="#c050c0"/>
<path d="M480.5 378.2l1.6 2.8h-3.3z" fill="#138a2a"/>
<path d="M453.4 381.2h1.4400000000000002v1.4400000000000002h-1.4400000000000002z" fill="#c050c0"/>
<path d="M449.0 381.4l1.6 2.8h-3.3z" fill="#138a2a"/>
<path d="M522.1 372.6h0" stroke="#ffa31a" stroke-width="2.25" stroke-linecap="round" fill="none"/>
<path d="M476.0 379.1l1.6 2.8h-3.3zM503.0 376.9l1.6 2.8h-3.3zM422.0 381.9l1.6 2.8h-3.3z" fill="#138a2a"/>
<path d="M531.1 367.3h0" stroke="#ffa31a" stroke-width="2.25" stroke-linecap="round" fill="none"/>
<path d="M525.5 369.3l1.6 2.8h-3.3zM440.0 381.4l1.6 2.8h-3.3zM444.5 381.2l1.6 2.8h-3.3z" fill="#138a2a"/>
<path d="M502.9 377.4h1.4400000000000002v1.4400000000000002h-1.4400000000000002zM538.9 356.6h1.4400000000000002v1.4400000000000002h-1.4400000000000002z" fill="#c050c0"/>
<path d="M495.1 379.2h0" stroke="#ffa31a" stroke-width="2.25" stroke-linecap="round" fill="none"/>
<path d="M520.9 372.2h1.4400000000000002v1.4400000000000002h-1.4400000000000002zM466.9 380.9h1.4400000000000002v1.4400000000000002h-1.4400000000000002z" fill="#c050c0"/>
<path d="M477.1 380.6h0" stroke="#ffa31a" stroke-width="2.25" stroke-linecap="round" fill="none"/>
<path d="M444.4 381.2h1.4400000000000002v1.4400000000000002h-1.4400000000000002zM462.4 380.2h1.4400000000000002v1.4400000000000002h-1.4400000000000002z" fill="#c050c0"/>
<path d="M459.1 381.5h0M486.1 378.9h0" stroke="#ffa31a" stroke-width="2.25" stroke-linecap="round" fill="none"/>
<path d="M435.4 382.3h1.4400000000000002v1.4400000000000002h-1.4400000000000002z" fill="#c050c0"/>
<path d="M517.6 374.3h0M513.1 375.8h0M454.6 382.0h0M432.1 382.4h0M535.6 363.3h0M499.6 377.7h0M504.1 378.2h0M441.1 382.5h0M490.6 379.2h0" stroke="#ffa31a" stroke-width="2.25" stroke-linecap="round" fill="none"/>
<path d="M545.4 310.2h0M548.8 305.2h0M552.1 299.4h0M555.5 292.9h0M558.8 290.5h0M562.2 287.8h0M565.5 285.2h0M568.9 283.2h0M572.2 281.4h0M575.6 279.5h0M578.9 278.1h0M582.3 276.2h0M585.6 274.2h0M589.0 272.6h0M592.3 271.7h0M595.7 271.5h0M599.0 271.0h0M602.4 270.7h0M605.7 270.3h0M609.1 270.0h0M612.4 270.0h0M615.8 269.3h0M619.1 269.1h0M622.5 268.3h0M625.8 268.2h0M629.2 268.0h0M632.5 267.3h0M635.9 266.8h0M639.2 266.2h0M642.6 265.9h0M645.9 265.4h0" stroke="#000000" stroke-width="2.8" stroke-linecap="round" fill="none"/>
<path d="M546.0 299.5h0M549.3 292.8h0M552.7 286.3h0M556.0 278.8h0M559.4 273.1h0M562.7 269.0h0M566.1 265.6h0M569.4 262.7h0M572.8 260.8h0M576.1 258.9h0M579.5 257.8h0M582.8 256.7h0M586.2 255.5h0M589.5 254.6h0M592.9 253.9h0M596.2 253.3h0M599.6 253.6h0M602.9 253.1h0M606.3 253.2h0M609.6 252.4h0M613.0 253.0h0M616.3 252.6h0M619.7 252.4h0M623.0 252.3h0M626.4 252.3h0M629.7 251.4h0M633.1 251.4h0M636.4 250.4h0M639.8 250.2h0M643.1 249.3h0M646.5 248.7h0" stroke="#ff1010" stroke-width="2.8" stroke-linecap="round" fill="none"/>
<path d="M543.2 311.9h0M546.5 295.5h0M549.9 287.5h0M553.2 278.2h0M556.6 270.0h0M559.9 264.7h0M563.3 260.0h0M566.6 256.5h0M570.0 253.8h0M573.3 251.9h0M576.7 250.4h0M580.0 248.4h0M583.4 247.0h0M586.7 245.6h0M590.1 244.9h0M593.4 244.2h0M596.8 243.6h0M600.1 243.8h0M603.5 243.6h0M606.8 243.3h0M610.2 242.8h0M613.5 242.5h0M616.9 242.8h0M620.2 242.5h0M623.6 242.1h0M626.9 241.7h0M630.3 241.1h0M633.6 240.8h0M637.0 239.8h0M640.3 239.2h0M643.7 238.6h0M647.0 238.0h0" stroke="#1c2fb8" stroke-width="2.8" stroke-linecap="round" fill="none"/>
<path d="M543.7 306.6l1.8 3.1h-3.6zM547.1 289.5l1.8 3.1h-3.6zM550.4 278.5l1.8 3.1h-3.6zM553.8 266.4l1.8 3.1h-3.6zM557.1 258.5l1.8 3.1h-3.6zM560.5 254.0l1.8 3.1h-3.6zM563.8 250.0l1.8 3.1h-3.6zM567.2 246.2l1.8 3.1h-3.6zM570.5 243.2l1.8 3.1h-3.6zM573.9 240.8l1.8 3.1h-3.6zM577.2 239.1l1.8 3.1h-3.6zM580.6 237.8l1.8 3.1h-3.6zM583.9 236.6l1.8 3.1h-3.6zM587.3 234.9l1.8 3.1h-3.6zM590.6 233.7l1.8 3.1h-3.6zM594.0 232.6l1.8 3.1h-3.6zM597.3 232.2l1.8 3.1h-3.6zM600.7 231.8l1.8 3.1h-3.6zM604.0 231.8l1.8 3.1h-3.6zM607.4 231.7l1.8 3.1h-3.6zM610.7 231.4l1.8 3.1h-3.6zM614.1 231.3l1.8 3.1h-3.6zM617.4 231.2l1.8 3.1h-3.6zM620.8 230.9l1.8 3.1h-3.6zM624.1 230.5l1.8 3.1h-3.6zM627.5 230.4l1.8 3.1h-3.6zM630.8 230.1l1.8 3.1h-3.6zM634.2 229.9l1.8 3.1h-3.6zM637.5 229.5l1.8 3.1h-3.6zM640.9 228.9l1.8 3.1h-3.6zM644.2 228.6l1.8 3.1h-3.6zM647.6 228.0l1.8 3.1h-3.6z" fill="#138a2a"/>
<path d="M543.5 303.6h1.6v1.6h-1.6zM546.8 285.9h1.6v1.6h-1.6zM550.2 272.2h1.6v1.6h-1.6zM553.5 260.4h1.6v1.6h-1.6zM556.9 253.7h1.6v1.6h-1.6zM560.2 248.1h1.6v1.6h-1.6zM563.6 243.0h1.6v1.6h-1.6zM566.9 239.0h1.6v1.6h-1.6zM570.3 236.3h1.6v1.6h-1.6zM573.6 234.1h1.6v1.6h-1.6zM577.0 232.1h1.6v1.6h-1.6zM580.3 231.1h1.6v1.6h-1.6zM583.7 229.7h1.6v1.6h-1.6zM587.0 228.9h1.6v1.6h-1.6zM590.4 227.6h1.6v1.6h-1.6zM593.7 227.2h1.6v1.6h-1.6zM597.1 227.1h1.6v1.6h-1.6zM600.4 226.7h1.6v1.6h-1.6zM603.8 226.4h1.6v1.6h-1.6zM607.1 226.5h1.6v1.6h-1.6zM610.5 226.2h1.6v1.6h-1.6zM613.8 226.0h1.6v1.6h-1.6zM617.2 226.0h1.6v1.6h-1.6zM620.5 225.8h1.6v1.6h-1.6zM623.9 225.6h1.6v1.6h-1.6zM627.2 224.8h1.6v1.6h-1.6zM630.6 224.5h1.6v1.6h-1.6zM633.9 223.9h1.6v1.6h-1.6zM637.3 223.4h1.6v1.6h-1.6zM640.6 222.6h1.6v1.6h-1.6zM644.0 221.6h1.6v1.6h-1.6zM647.3 221.2h1.6v1.6h-1.6z" fill="#c050c0"/>
<path d="M544.8 300.7h0M548.2 281.9h0M551.5 266.0h0M554.9 252.0h0M558.2 244.3h0M561.6 238.3h0M564.9 233.6h0M568.3 230.1h0M571.6 228.2h0M575.0 226.8h0M578.3 225.6h0M581.7 224.6h0M585.0 223.2h0M588.4 222.7h0M591.7 222.3h0M595.1 221.6h0M598.4 221.2h0M601.8 221.1h0M605.1 220.9h0M608.5 220.5h0M611.8 220.6h0M615.2 220.2h0M618.5 220.2h0M621.9 219.8h0M625.2 219.6h0M628.6 219.3h0M631.9 219.0h0M635.3 218.3h0M638.6 217.8h0M642.0 217.2h0M645.3 217.0h0" stroke="#ffa31a" stroke-width="2.5" stroke-linecap="round" fill="none"/>
<path d="M546.4 351.0h0M550.9 347.8h0M555.4 344.2h0M559.9 342.0h0M564.4 340.2h0M568.9 338.7h0M573.4 337.5h0M577.9 336.4h0M582.4 335.7h0M586.9 335.1h0M591.4 334.4h0M595.9 333.9h0M600.4 332.8h0M604.9 332.5h0M609.4 331.7h0M613.9 331.3h0M618.4 331.0h0M622.9 330.8h0M627.4 330.6h0M631.9 330.5h0M636.4 330.1h0M640.9 330.3h0M645.4 330.3h0" stroke="#000000" stroke-width="2.52" stroke-linecap="round" fill="none"/>
<path d="M547.0 343.7h0M551.5 339.3h0M556.0 336.2h0M560.5 333.6h0M565.0 331.6h0M569.5 330.0h0M574.0 329.2h0M578.5 327.5h0M583.0 327.0h0M587.5 326.4h0M592.0 325.9h0M596.5 325.8h0M601.0 325.6h0M605.5 325.6h0M610.0 325.2h0M614.5 325.0h0M619.0 324.6h0M623.5 324.5h0M628.0 324.1h0M632.5 324.0h0M637.0 323.6h0M641.5 323.4h0M646.0 322.9h0" stroke="#ff1010" stroke-width="2.52" stroke-linecap="round" fill="none"/>
<path d="M543.0 349.6h0M547.5 341.1h0M552.0 335.9h0M556.5 332.2h0M561.0 329.6h0M565.5 327.0h0M570.0 325.5h0M574.5 324.1h0M579.0 323.3h0M583.5 322.6h0M588.0 321.8h0M592.5 321.5h0M597.0 321.3h0M601.5 321.4h0M606.0 320.6h0M610.5 320.7h0M615.0 320.3h0M619.5 319.9h0M624.0 319.8h0M628.5 319.6h0M633.0 319.6h0M637.5 319.2h0M642.0 318.8h0M646.5 318.5h0" stroke="#1c2fb8" stroke-width="2.52" stroke-linecap="round" fill="none"/>
<path d="M543.5 346.3l1.6 2.8h-3.3zM548.0 335.9l1.6 2.8h-3.3zM552.5 329.3l1.6 2.8h-3.3zM557.0 325.9l1.6 2.8h-3.3zM561.5 323.2l1.6 2.8h-3.3zM566.0 320.2l1.6 2.8h-3.3zM570.5 318.8l1.6 2.8h-3.3zM575.0 317.7l1.6 2.8h-3.3zM579.5 316.9l1.6 2.8h-3.3zM584.0 316.4l1.6 2.8h-3.3zM588.5 316.1l1.6 2.8h-3.3zM593.0 315.5l1.6 2.8h-3.3zM597.5 315.4l1.6 2.8h-3.3zM602.0 315.0l1.6 2.8h-3.3zM606.5 314.8l1.6 2.8h-3.3zM611.0 314.8l1.6 2.8h-3.3zM615.5 314.2l1.6 2.8h-3.3zM620.0 313.9l1.6 2.8h-3.3zM624.5 313.5l1.6 2.8h-3.3zM629.0 313.4l1.6 2.8h-3.3zM633.5 313.1l1.6 2.8h-3.3zM638.0 313.0l1.6 2.8h-3.3zM642.5 312.3l1.6 2.8h-3.3zM647.0 311.8l1.6 2.8h-3.3z" fill="#138a2a"/>
<path d="M543.4 345.6h1.4400000000000002v1.4400000000000002h-1.4400000000000002zM547.9 333.9h1.4400000000000002v1.4400000000000002h-1.4400000000000002zM552.4 327.6h1.4400000000000002v1.4400000000000002h-1.4400000000000002zM556.9 323.4h1.4400000000000002v1.4400000000000002h-1.4400000000000002zM561.4 320.4h1.4400000000000002v1.4400000000000002h-1.4400000000000002zM565.9 317.7h1.4400000000000002v1.4400000000000002h-1.4400000000000002zM570.4 316.4h1.4400000000000002v1.4400000000000002h-1.4400000000000002zM574.9 315.6h1.4400000000000002v1.4400000000000002h-1.4400000000000002zM579.4 314.5h1.4400000000000002v1.4400000000000002h-1.4400000000000002zM583.9 313.7h1.4400000000000002v1.4400000000000002h-1.4400000000000002zM588.4 313.1h1.4400000000000002v1.4400000000000002h-1.4400000000000002zM592.9 312.7h1.4400000000000002v1.4400000000000002h-1.4400000000000002zM597.4 312.7h1.4400000000000002v1.4400000000000002h-1.4400000000000002zM601.9 312.3h1.4400000000000002v1.4400000000000002h-1.4400000000000002zM606.4 312.1h1.4400000000000002v1.4400000000000002h-1.4400000000000002zM610.9 312.0h1.4400000000000002v1.4400000000000002h-1.4400000000000002zM615.4 311.5h1.4400000000000002v1.4400000000000002h-1.4400000000000002zM619.9 311.6h1.4400000000000002v1.4400000000000002h-1.4400000000000002zM624.4 310.8h1.4400000000000002v1.4400000000000002h-1.4400000000000002zM628.9 310.7h1.4400000000000002v1.4400000000000002h-1.4400000000000002zM633.4 310.6h1.4400000000000002v1.4400000000000002h-1.4400000000000002zM637.9 310.0h1.4400000000000002v1.4400000000000002h-1.4400000000000002zM642.4 309.7h1.4400000000000002v1.4400000000000002h-1.4400000000000002zM646.9 309.6h1.4400000000000002v1.4400000000000002h-1.4400000000000002z" fill="#c050c0"/>
<path d="M544.6 344.3h0M549.1 332.3h0M553.6 325.0h0M558.1 321.2h0M562.6 318.8h0M567.1 316.1h0M571.6 314.6h0M576.1 313.8h0M580.6 313.0h0M585.1 312.0h0M589.6 311.7h0M594.1 311.3h0M598.6 310.8h0M603.1 310.7h0M607.6 310.6h0M612.1 310.0h0M616.6 309.8h0M621.1 309.6h0M625.6 309.1h0M630.1 308.9h0M634.6 308.4h0M639.1 308.0h0M643.6 307.8h0M648.1 307.2h0" stroke="#ffa31a" stroke-width="2.25" stroke-linecap="round" fill="none"/>
<text x="598.85" y="278.55" font-family="&quot;Liberation Serif&quot;, serif" font-size="9.09" font-weight="bold" font-style="italic" fill="#000" textLength="20.95" lengthAdjust="spacingAndGlyphs" stroke="#000" stroke-width="0.41">q=10</text>
<text x="600.84" y="344.25" font-family="&quot;Liberation Serif&quot;, serif" font-size="9.54" font-weight="bold" font-style="italic" fill="#000" textLength="16.72" lengthAdjust="spacingAndGlyphs" stroke="#000" stroke-width="0.43">q=5</text>
<rect x="442.30" y="214.20" width="93.20" height="81.60" stroke="none" stroke-width="0" fill="#fff"/>
<path d="M470.36 295.80v-1.6M470.36 214.20v1.6M486.77 295.80v-1.6M486.77 214.20v1.6M498.41 295.80v-1.6M498.41 214.20v1.6M507.44 295.80v-1.6M507.44 214.20v1.6M514.82 295.80v-1.6M514.82 214.20v1.6M521.06 295.80v-1.6M521.06 214.20v1.6M526.47 295.80v-1.6M526.47 214.20v1.6M531.24 295.80v-1.6M531.24 214.20v1.6M442.30 276.00h3M535.50 276.00h-3M442.30 257.94h1.6M535.50 257.94h-1.6M442.30 247.37h1.6M535.50 247.37h-1.6M442.30 239.88h1.6M535.50 239.88h-1.6M442.30 285.29h1.6M535.50 285.29h-1.6M442.30 281.81h1.6M535.50 281.81h-1.6M442.30 278.75h1.6M535.50 278.75h-1.6" stroke="#8a8a8a" stroke-width="1" fill="none"/>
<rect x="442.30" y="214.20" width="93.20" height="81.60" stroke="#8a8a8a" stroke-width="1" fill="none"/>
<line x1="492.60" y1="214.20" x2="492.60" y2="295.80" stroke="#333" stroke-width="1.3" stroke-dasharray="1.8 2.0"/>
<path d="M442.3 256.4 L444.3 253.7 L446.3 253.3 L448.3 254.4 L450.3 255.0 L452.3 253.2 L454.3 251.2 L456.3 249.2 L458.3 250.2 L460.3 247.0 L462.3 245.9 L464.3 247.4 L466.3 245.9 L468.3 243.3 L470.3 240.0 L472.3 242.6 L474.3 236.2 L476.3 235.8 L478.3 235.8 L480.3 232.3 L482.3 229.9 L484.3 226.0 L486.3 222.4 L488.3 222.6 L490.3 227.4 L492.3 233.6 L494.3 236.9 L496.3 237.9 L498.3 241.2 L500.3 242.8 L502.3 243.4 L504.3 245.4 L506.3 245.8 L508.3 246.0 L510.3 247.4 L512.3 247.1 L514.3 248.7 L516.3 248.7 L518.3 250.2 L520.3 249.6 L522.3 249.6 L524.3 250.0 L526.3 250.6 L528.3 248.6 L530.3 250.3 L532.3 249.3 L534.3 249.7" stroke="#000000" stroke-width="0.7" fill="none" opacity="1.0"/>
<path d="M442.6 253.5 L444.6 257.4 L446.6 260.7 L448.6 254.4 L450.6 257.2 L452.6 245.8 L454.6 252.3 L456.6 253.1 L458.6 251.8 L460.6 249.4 L462.6 250.6 L464.6 246.1 L466.6 241.2 L468.6 245.2 L470.6 240.5 L472.6 236.5 L474.6 237.9 L476.6 237.0 L478.6 236.6 L480.6 232.2 L482.6 229.3 L484.6 226.6 L486.6 223.3 L488.6 222.3 L490.6 229.1 L492.6 233.3 L494.6 236.4 L496.6 238.4 L498.6 240.7 L500.6 242.4 L502.6 243.8 L504.6 244.9 L506.6 247.1 L508.6 248.7 L510.6 249.4 L512.6 250.9 L514.6 251.5 L516.6 251.9 L518.6 252.1 L520.6 253.0 L522.6 251.9 L524.6 252.5 L526.6 252.7 L528.6 252.1 L530.6 252.7 L532.6 252.5 L534.6 252.2" stroke="#ff1010" stroke-width="0.7" fill="none" opacity="1.0"/>
<path d="M443.0 257.5 L445.0 256.0 L447.0 256.4 L449.0 253.9 L451.0 251.5 L453.0 252.4 L455.0 252.1 L457.0 248.2 L459.0 245.4 L461.0 245.2 L463.0 246.4 L465.0 243.4 L467.0 241.4 L469.0 244.0 L471.0 239.5 L473.0 236.8 L475.0 237.5 L477.0 232.7 L479.0 233.3 L481.0 230.3 L483.0 228.1 L485.0 225.3 L487.0 222.3 L489.0 223.3 L491.0 228.7 L493.0 234.6 L495.0 237.3 L497.0 238.4 L499.0 240.3 L501.0 242.9 L503.0 244.7 L505.0 247.3 L507.0 248.6 L509.0 249.3 L511.0 251.5 L513.0 252.6 L515.0 252.3 L517.0 253.0 L519.0 252.9 L521.0 253.7 L523.0 253.7 L525.0 253.3 L527.0 254.0 L529.0 253.6 L531.0 254.1 L533.0 253.4 L535.0 252.0" stroke="#1c2fb8" stroke-width="0.7" fill="none" opacity="1.0"/>
<path d="M443.3 254.3 L445.3 257.2 L447.3 252.1 L449.3 253.0 L451.3 251.3 L453.3 251.6 L455.3 250.7 L457.3 251.1 L459.3 251.3 L461.3 249.5 L463.3 246.8 L465.3 244.6 L467.3 242.0 L469.3 243.4 L471.3 237.5 L473.3 237.2 L475.3 239.5 L477.3 230.6 L479.3 231.5 L481.3 230.2 L483.3 230.8 L485.3 221.4 L487.3 221.5 L489.3 224.1 L491.3 230.9 L493.3 234.0 L495.3 237.3 L497.3 239.5 L499.3 241.0 L501.3 242.3 L503.3 244.8 L505.3 247.2 L507.3 249.1 L509.3 250.5 L511.3 252.5 L513.3 253.6 L515.3 254.5 L517.3 254.8 L519.3 256.0 L521.3 255.7 L523.3 255.2 L525.3 255.2 L527.3 254.1 L529.3 255.1 L531.3 254.0 L533.3 254.8 L535.3 254.6" stroke="#138a2a" stroke-width="0.7" fill="none" opacity="1.0"/>
<path d="M443.6 256.5 L445.6 252.5 L447.6 255.1 L449.6 254.6 L451.6 251.8 L453.6 257.0 L455.6 254.0 L457.6 250.3 L459.6 247.5 L461.6 249.0 L463.6 248.5 L465.6 243.7 L467.6 242.0 L469.6 243.7 L471.6 242.1 L473.6 237.8 L475.6 238.9 L477.6 237.3 L479.6 227.5 L481.6 232.5 L483.6 225.7 L485.6 224.8 L487.6 223.3 L489.6 224.7 L491.6 232.5 L493.6 235.3 L495.6 238.3 L497.6 238.5 L499.6 240.4 L501.6 242.7 L503.6 245.3 L505.6 247.5 L507.6 251.1 L509.6 252.4 L511.6 253.8 L513.6 254.4 L515.6 255.1 L517.6 255.4 L519.6 255.7 L521.6 257.0 L523.6 255.8 L525.6 256.0 L527.6 255.9 L529.6 256.6 L531.6 256.0 L533.6 255.8" stroke="#c050c0" stroke-width="0.7" fill="none" opacity="1.0"/>
<path d="M443.9 252.5 L445.9 255.2 L447.9 257.8 L449.9 254.8 L451.9 251.8 L453.9 249.8 L455.9 248.7 L457.9 251.5 L459.9 252.0 L461.9 245.6 L463.9 243.5 L465.9 248.4 L467.9 242.4 L469.9 241.8 L471.9 239.1 L473.9 240.0 L475.9 237.1 L477.9 232.5 L479.9 231.3 L481.9 228.4 L483.9 232.5 L485.9 224.6 L487.9 221.7 L489.9 225.4 L491.9 231.9 L493.9 235.5 L495.9 238.2 L497.9 239.3 L499.9 241.6 L501.9 243.4 L503.9 245.7 L505.9 249.1 L507.9 251.6 L509.9 253.8 L511.9 255.6 L514.0 256.2 L516.0 257.7 L518.0 257.7 L520.0 258.1 L522.0 258.2 L524.0 257.7 L526.0 257.8 L528.0 258.2 L530.0 257.6 L532.0 257.2 L534.0 257.1" stroke="#ffa31a" stroke-width="0.7" fill="none" opacity="1.0"/>
<path d="M442.3 276.9 L444.3 279.8 L446.3 275.2 L448.3 270.8 L450.3 273.8 L452.3 276.9 L454.3 272.1 L456.3 275.2 L458.3 275.9 L460.3 265.2 L462.3 274.3 L464.3 266.0 L466.3 268.3 L468.3 265.6 L470.3 266.0 L472.3 260.4 L474.3 261.3 L476.3 259.7 L478.3 256.4 L480.3 251.8 L482.3 248.5 L484.3 246.3 L486.3 242.1 L488.3 240.7 L490.3 245.5 L492.3 252.5 L494.3 255.8 L496.3 258.1 L498.3 260.7 L500.3 261.8 L502.3 263.2 L504.3 265.3 L506.3 265.8 L508.3 267.2 L510.3 268.5 L512.3 269.2 L514.3 270.2 L516.3 271.7 L518.3 272.5 L520.3 272.5 L522.3 273.0 L524.3 274.3 L526.3 273.3 L528.3 272.7 L530.3 272.9 L532.3 272.7 L534.3 273.5" stroke="#000000" stroke-width="0.7" fill="none" opacity="1.0"/>
<path d="M442.6 274.8 L444.6 276.9 L446.6 274.5 L448.6 275.3 L450.6 276.2 L452.6 273.7 L454.6 270.4 L456.6 274.2 L458.6 268.2 L460.6 267.8 L462.6 268.9 L464.6 270.0 L466.6 266.1 L468.6 265.9 L470.6 265.3 L472.6 262.3 L474.6 258.2 L476.6 259.6 L478.6 261.5 L480.6 250.3 L482.6 249.0 L484.6 242.6 L486.6 240.6 L488.6 241.8 L490.6 246.8 L492.6 254.0 L494.6 256.1 L496.6 258.8 L498.6 258.9 L500.6 261.5 L502.6 264.0 L504.6 265.5 L506.6 268.6 L508.6 271.4 L510.6 273.2 L512.6 273.4 L514.6 275.0 L516.6 275.8 L518.6 277.3 L520.6 277.4 L522.6 277.2 L524.6 277.7 L526.6 277.8 L528.6 276.3 L530.6 277.3 L532.6 277.5 L534.6 277.4" stroke="#ff1010" stroke-width="0.7" fill="none" opacity="1.0"/>
<path d="M443.0 278.8 L445.0 278.9 L447.0 270.7 L449.0 275.8 L451.0 276.9 L453.0 271.1 L455.0 273.3 L457.0 271.7 L459.0 273.8 L461.0 269.3 L463.0 268.3 L465.0 267.3 L467.0 264.7 L469.0 268.5 L471.0 263.3 L473.0 261.4 L475.0 257.8 L477.0 258.3 L479.0 251.6 L481.0 251.7 L483.0 248.0 L485.0 244.0 L487.0 240.8 L489.0 242.0 L491.0 247.3 L493.0 253.6 L495.0 256.5 L497.0 258.3 L499.0 260.2 L501.0 262.8 L503.0 264.3 L505.0 264.6 L507.0 266.5 L509.0 267.1 L511.0 269.2 L513.0 268.4 L515.0 269.5 L517.0 270.6 L519.0 271.1 L521.0 271.2 L523.0 272.5 L525.0 271.8 L527.0 271.5 L529.0 270.7 L531.0 271.6 L533.0 270.2 L535.0 268.5" stroke="#1c2fb8" stroke-width="0.7" fill="none" opacity="1.0"/>
<path d="M443.3 272.8 L445.3 277.0 L447.3 278.2 L449.3 277.1 L451.3 278.3 L453.3 275.5 L455.3 274.4 L457.3 274.5 L459.3 271.9 L461.3 269.7 L463.3 270.0 L465.3 269.0 L467.3 266.9 L469.3 261.9 L471.3 259.0 L473.3 257.0 L475.3 258.6 L477.3 258.5 L479.3 255.6 L481.3 254.4 L483.3 251.0 L485.3 243.8 L487.3 240.4 L489.3 242.9 L491.3 249.5 L493.3 255.3 L495.3 256.5 L497.3 259.2 L499.3 261.1 L501.3 262.4 L503.3 265.3 L505.3 269.1 L507.3 272.8 L509.3 274.7 L511.3 276.8 L513.3 278.2 L515.3 280.3 L517.3 281.1 L519.3 281.4 L521.3 283.1 L523.3 282.0 L525.3 281.8 L527.3 282.1 L529.3 281.9 L531.3 281.9 L533.3 282.2 L535.3 282.8" stroke="#138a2a" stroke-width="0.7" fill="none" opacity="1.0"/>
<path d="M443.6 276.6 L445.6 271.9 L447.6 276.5 L449.6 275.9 L451.6 277.1 L453.6 274.3 L455.6 274.4 L457.6 275.0 L459.6 268.0 L461.6 269.0 L463.6 266.6 L465.6 265.5 L467.6 265.7 L469.6 262.2 L471.6 257.5 L473.6 261.0 L475.6 257.5 L477.6 252.8 L479.6 257.0 L481.6 254.2 L483.6 250.5 L485.6 243.9 L487.6 241.0 L489.6 243.8 L491.6 250.0 L493.6 254.1 L495.6 257.4 L497.6 258.9 L499.6 260.4 L501.6 263.3 L503.6 266.5 L505.6 270.2 L507.6 273.8 L509.6 276.6 L511.6 279.4 L513.6 281.3 L515.6 283.0 L517.6 282.7 L519.6 285.1 L521.6 284.9 L523.6 285.3 L525.6 284.8 L527.6 285.8 L529.6 285.8 L531.6 284.8 L533.6 284.6" stroke="#c050c0" stroke-width="0.7" fill="none" opacity="1.0"/>
<path d="M443.9 278.0 L445.9 279.6 L447.9 280.0 L449.9 278.7 L451.9 275.9 L453.9 276.5 L455.9 274.0 L457.9 267.6 L459.9 268.3 L461.9 268.2 L463.9 264.3 L465.9 266.0 L467.9 265.9 L469.9 266.9 L471.9 259.7 L473.9 258.3 L475.9 257.4 L477.9 255.4 L479.9 250.7 L481.9 249.1 L483.9 244.2 L485.9 240.6 L487.9 241.3 L489.9 244.0 L491.9 251.1 L493.9 254.9 L495.9 256.3 L497.9 259.8 L499.9 260.9 L501.9 263.8 L503.9 266.9 L505.9 271.3 L507.9 275.5 L509.9 277.9 L511.9 281.1 L514.0 284.1 L516.0 284.3 L518.0 286.4 L520.0 287.4 L522.0 287.3 L524.0 287.5 L526.0 288.0 L528.0 287.7 L530.0 286.9 L532.0 286.8 L534.0 286.7" stroke="#ffa31a" stroke-width="0.7" fill="none" opacity="1.0"/>
<path d="M446.3 275.2h0M456.3 275.2h0M458.3 250.2h0M484.3 226.0h0M454.3 251.2h0M462.3 245.9h0M448.3 254.4h0M464.3 247.4h0M470.3 240.0h0M490.3 227.4h0M452.3 276.9h0M444.3 253.7h0M444.3 279.8h0M470.3 266.0h0" stroke="#000000" stroke-width="2.4" stroke-linecap="round" fill="none"/>
<path d="M452.6 273.7h0M450.6 276.2h0" stroke="#ff1010" stroke-width="2.4" stroke-linecap="round" fill="none"/>
<path d="M480.3 251.8h0M472.3 242.6h0" stroke="#000000" stroke-width="2.4" stroke-linecap="round" fill="none"/>
<path d="M460.6 249.4h0M458.6 251.8h0" stroke="#ff1010" stroke-width="2.4" stroke-linecap="round" fill="none"/>
<path d="M466.3 268.3h0" stroke="#000000" stroke-width="2.4" stroke-linecap="round" fill="none"/>
<path d="M442.6 253.5h0" stroke="#ff1010" stroke-width="2.4" stroke-linecap="round" fill="none"/>
<path d="M488.3 222.6h0M442.3 256.4h0M478.3 256.4h0" stroke="#000000" stroke-width="2.4" stroke-linecap="round" fill="none"/>
<path d="M448.6 254.4h0M476.6 259.6h0" stroke="#ff1010" stroke-width="2.4" stroke-linecap="round" fill="none"/>
<path d="M452.3 253.2h0M468.3 265.6h0" stroke="#000000" stroke-width="2.4" stroke-linecap="round" fill="none"/>
<path d="M478.6 261.5h0" stroke="#ff1010" stroke-width="2.4" stroke-linecap="round" fill="none"/>
<path d="M455.0 252.1h0" stroke="#1c2fb8" stroke-width="2.4" stroke-linecap="round" fill="none"/>
<path d="M462.6 250.6h0M472.6 262.3h0M444.6 276.9h0M474.6 258.2h0" stroke="#ff1010" stroke-width="2.4" stroke-linecap="round" fill="none"/>
<path d="M483.0 228.1h0" stroke="#1c2fb8" stroke-width="2.4" stroke-linecap="round" fill="none"/>
<path d="M480.3 232.3h0" stroke="#000000" stroke-width="2.4" stroke-linecap="round" fill="none"/>
<path d="M480.6 232.2h0" stroke="#ff1010" stroke-width="2.4" stroke-linecap="round" fill="none"/>
<path d="M443.0 278.8h0" stroke="#1c2fb8" stroke-width="2.4" stroke-linecap="round" fill="none"/>
<path d="M466.3 245.9h0" stroke="#000000" stroke-width="2.4" stroke-linecap="round" fill="none"/>
<path d="M456.6 274.2h0" stroke="#ff1010" stroke-width="2.4" stroke-linecap="round" fill="none"/>
<path d="M460.3 247.0h0" stroke="#000000" stroke-width="2.4" stroke-linecap="round" fill="none"/>
<path d="M454.6 270.4h0" stroke="#ff1010" stroke-width="2.4" stroke-linecap="round" fill="none"/>
<path d="M445.0 256.0h0" stroke="#1c2fb8" stroke-width="2.4" stroke-linecap="round" fill="none"/>
<path d="M490.6 229.1h0" stroke="#ff1010" stroke-width="2.4" stroke-linecap="round" fill="none"/>
<path d="M475.0 257.8h0" stroke="#1c2fb8" stroke-width="2.4" stroke-linecap="round" fill="none"/>
<path d="M474.6 237.9h0M444.6 257.4h0" stroke="#ff1010" stroke-width="2.4" stroke-linecap="round" fill="none"/>
<path d="M483.0 248.0h0" stroke="#1c2fb8" stroke-width="2.4" stroke-linecap="round" fill="none"/>
<path d="M468.6 245.2h0" stroke="#ff1010" stroke-width="2.4" stroke-linecap="round" fill="none"/>
<path d="M477.0 258.3h0M451.0 251.5h0M473.0 261.4h0" stroke="#1c2fb8" stroke-width="2.4" stroke-linecap="round" fill="none"/>
<path d="M456.3 249.2h0" stroke="#000000" stroke-width="2.4" stroke-linecap="round" fill="none"/>
<path d="M455.0 273.3h0" stroke="#1c2fb8" stroke-width="2.4" stroke-linecap="round" fill="none"/>
<path d="M447.3 276.7l1.6 2.7h-3.1z" fill="#138a2a"/>
<path d="M448.6 275.3h0" stroke="#ff1010" stroke-width="2.4" stroke-linecap="round" fill="none"/>
<path d="M449.3 251.4l1.6 2.7h-3.1z" fill="#138a2a"/>
<path d="M458.3 275.9h0M450.3 273.8h0" stroke="#000000" stroke-width="2.4" stroke-linecap="round" fill="none"/>
<path d="M470.6 265.3h0" stroke="#ff1010" stroke-width="2.4" stroke-linecap="round" fill="none"/>
<path d="M474.3 261.3h0M450.3 255.0h0" stroke="#000000" stroke-width="2.4" stroke-linecap="round" fill="none"/>
<path d="M454.6 252.3h0" stroke="#ff1010" stroke-width="2.4" stroke-linecap="round" fill="none"/>
<path d="M454.3 272.1h0" stroke="#000000" stroke-width="2.4" stroke-linecap="round" fill="none"/>
<path d="M457.3 249.6l1.6 2.7h-3.1z" fill="#138a2a"/>
<path d="M478.3 235.8h0" stroke="#000000" stroke-width="2.4" stroke-linecap="round" fill="none"/>
<path d="M469.3 241.8l1.6 2.7h-3.1z" fill="#138a2a"/>
<path d="M466.6 241.2h0M462.6 268.9h0" stroke="#ff1010" stroke-width="2.4" stroke-linecap="round" fill="none"/>
<path d="M455.3 249.2l1.6 2.7h-3.1z" fill="#138a2a"/>
<path d="M472.6 236.5h0" stroke="#ff1010" stroke-width="2.4" stroke-linecap="round" fill="none"/>
<path d="M474.3 236.2h0" stroke="#000000" stroke-width="2.4" stroke-linecap="round" fill="none"/>
<path d="M461.3 247.9l1.6 2.7h-3.1zM445.3 275.4l1.6 2.7h-3.1zM477.3 256.9l1.6 2.7h-3.1z" fill="#138a2a"/>
<path d="M486.6 240.6h0" stroke="#ff1010" stroke-width="2.4" stroke-linecap="round" fill="none"/>
<path d="M465.0 243.4h0" stroke="#1c2fb8" stroke-width="2.4" stroke-linecap="round" fill="none"/>
<path d="M491.3 229.4l1.6 2.7h-3.1z" fill="#138a2a"/>
<path d="M446.3 253.3h0" stroke="#000000" stroke-width="2.4" stroke-linecap="round" fill="none"/>
<path d="M459.0 273.8h0" stroke="#1c2fb8" stroke-width="2.4" stroke-linecap="round" fill="none"/>
<path d="M453.3 250.0l1.6 2.7h-3.1z" fill="#138a2a"/>
<path d="M454.4 273.2h2.4v2.4h-2.4zM454.4 252.8h2.4v2.4h-2.4z" fill="#c050c0"/>
<path d="M491.0 247.3h0" stroke="#1c2fb8" stroke-width="2.4" stroke-linecap="round" fill="none"/>
<path d="M446.6 274.5h0" stroke="#ff1010" stroke-width="2.4" stroke-linecap="round" fill="none"/>
<path d="M448.4 274.7h2.4v2.4h-2.4z" fill="#c050c0"/>
<path d="M484.6 226.6h0" stroke="#ff1010" stroke-width="2.4" stroke-linecap="round" fill="none"/>
<path d="M464.3 266.0h0" stroke="#000000" stroke-width="2.4" stroke-linecap="round" fill="none"/>
<path d="M463.3 268.5l1.6 2.7h-3.1z" fill="#138a2a"/>
<path d="M456.6 253.1h0" stroke="#ff1010" stroke-width="2.4" stroke-linecap="round" fill="none"/>
<path d="M472.4 236.6h2.4v2.4h-2.4zM490.4 231.3h2.4v2.4h-2.4z" fill="#c050c0"/>
<path d="M465.0 267.3h0M467.0 264.7h0" stroke="#1c2fb8" stroke-width="2.4" stroke-linecap="round" fill="none"/>
<path d="M469.3 260.3l1.6 2.7h-3.1z" fill="#138a2a"/>
<path d="M482.6 229.3h0" stroke="#ff1010" stroke-width="2.4" stroke-linecap="round" fill="none"/>
<path d="M463.3 245.2l1.6 2.7h-3.1z" fill="#138a2a"/>
<path d="M450.6 257.2h0" stroke="#ff1010" stroke-width="2.4" stroke-linecap="round" fill="none"/>
<path d="M447.0 256.4h0" stroke="#1c2fb8" stroke-width="2.4" stroke-linecap="round" fill="none"/>
<path d="M465.3 267.5l1.6 2.7h-3.1z" fill="#138a2a"/>
<path d="M470.6 240.5h0" stroke="#ff1010" stroke-width="2.4" stroke-linecap="round" fill="none"/>
<path d="M473.3 255.5l1.6 2.7h-3.1z" fill="#138a2a"/>
<path d="M486.4 222.1h2.4v2.4h-2.4z" fill="#c050c0"/>
<path d="M472.3 260.4h0" stroke="#000000" stroke-width="2.4" stroke-linecap="round" fill="none"/>
<path d="M474.4 256.3h2.4v2.4h-2.4z" fill="#c050c0"/>
<path d="M481.3 228.7l1.6 2.7h-3.1z" fill="#138a2a"/>
<path d="M476.3 259.7h0" stroke="#000000" stroke-width="2.4" stroke-linecap="round" fill="none"/>
<path d="M443.3 252.8l1.6 2.7h-3.1z" fill="#138a2a"/>
<path d="M473.0 236.8h0" stroke="#1c2fb8" stroke-width="2.4" stroke-linecap="round" fill="none"/>
<path d="M480.6 250.3h0" stroke="#ff1010" stroke-width="2.4" stroke-linecap="round" fill="none"/>
<path d="M467.3 265.3l1.6 2.7h-3.1z" fill="#138a2a"/>
<path d="M452.6 245.8h0" stroke="#ff1010" stroke-width="2.4" stroke-linecap="round" fill="none"/>
<path d="M488.3 240.7h0" stroke="#000000" stroke-width="2.4" stroke-linecap="round" fill="none"/>
<path d="M479.0 233.3h0M453.0 271.1h0" stroke="#1c2fb8" stroke-width="2.4" stroke-linecap="round" fill="none"/>
<path d="M482.3 248.5h0M490.3 245.5h0" stroke="#000000" stroke-width="2.4" stroke-linecap="round" fill="none"/>
<path d="M488.6 241.8h0" stroke="#ff1010" stroke-width="2.4" stroke-linecap="round" fill="none"/>
<path d="M453.0 252.4h0" stroke="#1c2fb8" stroke-width="2.4" stroke-linecap="round" fill="none"/>
<path d="M468.3 243.3h0M442.3 276.9h0" stroke="#000000" stroke-width="2.4" stroke-linecap="round" fill="none"/>
<path d="M453.9 249.8h0" stroke="#ffa31a" stroke-width="2.4" stroke-linecap="round" fill="none"/>
<path d="M458.4 266.8h2.4v2.4h-2.4zM442.4 255.3h2.4v2.4h-2.4z" fill="#c050c0"/>
<path d="M464.6 246.1h0" stroke="#ff1010" stroke-width="2.4" stroke-linecap="round" fill="none"/>
<path d="M452.4 273.1h2.4v2.4h-2.4z" fill="#c050c0"/>
<path d="M486.3 242.1h0" stroke="#000000" stroke-width="2.4" stroke-linecap="round" fill="none"/>
<path d="M481.3 252.9l1.6 2.7h-3.1z" fill="#138a2a"/>
<path d="M486.3 222.4h0" stroke="#000000" stroke-width="2.4" stroke-linecap="round" fill="none"/>
<path d="M485.3 219.8l1.6 2.7h-3.1z" fill="#138a2a"/>
<path d="M461.9 245.6h0" stroke="#ffa31a" stroke-width="2.4" stroke-linecap="round" fill="none"/>
<path d="M458.6 268.2h0" stroke="#ff1010" stroke-width="2.4" stroke-linecap="round" fill="none"/>
<path d="M462.3 274.3h0" stroke="#000000" stroke-width="2.4" stroke-linecap="round" fill="none"/>
<path d="M478.6 236.6h0" stroke="#ff1010" stroke-width="2.4" stroke-linecap="round" fill="none"/>
<path d="M445.3 255.6l1.6 2.7h-3.1z" fill="#138a2a"/>
<path d="M451.9 251.8h0" stroke="#ffa31a" stroke-width="2.4" stroke-linecap="round" fill="none"/>
<path d="M465.3 243.0l1.6 2.7h-3.1z" fill="#138a2a"/>
<path d="M488.6 222.3h0" stroke="#ff1010" stroke-width="2.4" stroke-linecap="round" fill="none"/>
<path d="M444.4 251.3h2.4v2.4h-2.4zM446.4 253.9h2.4v2.4h-2.4z" fill="#c050c0"/>
<path d="M443.9 252.5h0M481.9 249.1h0" stroke="#ffa31a" stroke-width="2.4" stroke-linecap="round" fill="none"/>
<path d="M461.0 245.2h0" stroke="#1c2fb8" stroke-width="2.4" stroke-linecap="round" fill="none"/>
<path d="M485.9 240.6h0" stroke="#ffa31a" stroke-width="2.4" stroke-linecap="round" fill="none"/>
<path d="M442.6 274.8h0" stroke="#ff1010" stroke-width="2.4" stroke-linecap="round" fill="none"/>
<path d="M471.0 239.5h0" stroke="#1c2fb8" stroke-width="2.4" stroke-linecap="round" fill="none"/>
<path d="M478.4 255.8h2.4v2.4h-2.4z" fill="#c050c0"/>
<path d="M483.3 229.2l1.6 2.7h-3.1zM475.3 257.1l1.6 2.7h-3.1z" fill="#138a2a"/>
<path d="M485.9 224.6h0" stroke="#ffa31a" stroke-width="2.4" stroke-linecap="round" fill="none"/>
<path d="M489.3 241.4l1.6 2.7h-3.1z" fill="#138a2a"/>
<path d="M469.0 244.0h0" stroke="#1c2fb8" stroke-width="2.4" stroke-linecap="round" fill="none"/>
<path d="M452.4 255.8h2.4v2.4h-2.4z" fill="#c050c0"/>
<path d="M457.3 272.9l1.6 2.7h-3.1z" fill="#138a2a"/>
<path d="M457.9 251.5h0M487.9 221.7h0" stroke="#ffa31a" stroke-width="2.4" stroke-linecap="round" fill="none"/>
<path d="M480.4 253.0h2.4v2.4h-2.4z" fill="#c050c0"/>
<path d="M476.3 235.8h0" stroke="#000000" stroke-width="2.4" stroke-linecap="round" fill="none"/>
<path d="M471.3 236.0l1.6 2.7h-3.1z" fill="#138a2a"/>
<path d="M448.3 270.8h0" stroke="#000000" stroke-width="2.4" stroke-linecap="round" fill="none"/>
<path d="M477.9 255.4h0M475.9 237.1h0" stroke="#ffa31a" stroke-width="2.4" stroke-linecap="round" fill="none"/>
<path d="M483.3 249.4l1.6 2.7h-3.1z" fill="#138a2a"/>
<path d="M476.6 237.0h0" stroke="#ff1010" stroke-width="2.4" stroke-linecap="round" fill="none"/>
<path d="M451.3 249.8l1.6 2.7h-3.1z" fill="#138a2a"/>
<path d="M490.6 246.8h0" stroke="#ff1010" stroke-width="2.4" stroke-linecap="round" fill="none"/>
<path d="M475.9 257.4h0" stroke="#ffa31a" stroke-width="2.4" stroke-linecap="round" fill="none"/>
<path d="M482.3 229.9h0M460.3 265.2h0" stroke="#000000" stroke-width="2.4" stroke-linecap="round" fill="none"/>
<path d="M487.0 222.3h0" stroke="#1c2fb8" stroke-width="2.4" stroke-linecap="round" fill="none"/>
<path d="M467.9 242.4h0" stroke="#ffa31a" stroke-width="2.4" stroke-linecap="round" fill="none"/>
<path d="M446.6 260.7h0" stroke="#ff1010" stroke-width="2.4" stroke-linecap="round" fill="none"/>
<path d="M455.9 248.7h0" stroke="#ffa31a" stroke-width="2.4" stroke-linecap="round" fill="none"/>
<path d="M484.3 246.3h0" stroke="#000000" stroke-width="2.4" stroke-linecap="round" fill="none"/>
<path d="M489.0 242.0h0" stroke="#1c2fb8" stroke-width="2.4" stroke-linecap="round" fill="none"/>
<path d="M466.4 264.5h2.4v2.4h-2.4z" fill="#c050c0"/>
<path d="M445.0 278.9h0" stroke="#1c2fb8" stroke-width="2.4" stroke-linecap="round" fill="none"/>
<path d="M447.9 257.8h0" stroke="#ffa31a" stroke-width="2.4" stroke-linecap="round" fill="none"/>
<path d="M481.0 230.3h0M457.0 248.2h0" stroke="#1c2fb8" stroke-width="2.4" stroke-linecap="round" fill="none"/>
<path d="M484.6 242.6h0" stroke="#ff1010" stroke-width="2.4" stroke-linecap="round" fill="none"/>
<path d="M453.3 273.9l1.6 2.7h-3.1z" fill="#138a2a"/>
<path d="M467.0 241.4h0M485.0 225.3h0" stroke="#1c2fb8" stroke-width="2.4" stroke-linecap="round" fill="none"/>
<path d="M458.4 246.3h2.4v2.4h-2.4z" fill="#c050c0"/>
<path d="M486.6 223.3h0" stroke="#ff1010" stroke-width="2.4" stroke-linecap="round" fill="none"/>
<path d="M445.9 255.2h0" stroke="#ffa31a" stroke-width="2.4" stroke-linecap="round" fill="none"/>
<path d="M443.3 271.3l1.6 2.7h-3.1zM473.3 235.7l1.6 2.7h-3.1z" fill="#138a2a"/>
<path d="M471.0 263.3h0" stroke="#1c2fb8" stroke-width="2.4" stroke-linecap="round" fill="none"/>
<path d="M482.4 224.5h2.4v2.4h-2.4zM484.4 223.6h2.4v2.4h-2.4z" fill="#c050c0"/>
<path d="M482.6 249.0h0" stroke="#ff1010" stroke-width="2.4" stroke-linecap="round" fill="none"/>
<path d="M483.9 244.2h0" stroke="#ffa31a" stroke-width="2.4" stroke-linecap="round" fill="none"/>
<path d="M485.3 242.2l1.6 2.7h-3.1z" fill="#138a2a"/>
<path d="M451.0 276.9h0" stroke="#1c2fb8" stroke-width="2.4" stroke-linecap="round" fill="none"/>
<path d="M469.9 241.8h0" stroke="#ffa31a" stroke-width="2.4" stroke-linecap="round" fill="none"/>
<path d="M456.4 249.1h2.4v2.4h-2.4z" fill="#c050c0"/>
<path d="M471.3 257.5l1.6 2.7h-3.1z" fill="#138a2a"/>
<path d="M449.0 253.9h0" stroke="#1c2fb8" stroke-width="2.4" stroke-linecap="round" fill="none"/>
<path d="M467.9 265.9h0" stroke="#ffa31a" stroke-width="2.4" stroke-linecap="round" fill="none"/>
<path d="M459.0 245.4h0" stroke="#1c2fb8" stroke-width="2.4" stroke-linecap="round" fill="none"/>
<path d="M491.9 231.9h0" stroke="#ffa31a" stroke-width="2.4" stroke-linecap="round" fill="none"/>
<path d="M464.6 270.0h0" stroke="#ff1010" stroke-width="2.4" stroke-linecap="round" fill="none"/>
<path d="M450.4 275.9h2.4v2.4h-2.4z" fill="#c050c0"/>
<path d="M449.0 275.8h0" stroke="#1c2fb8" stroke-width="2.4" stroke-linecap="round" fill="none"/>
<path d="M468.6 265.9h0" stroke="#ff1010" stroke-width="2.4" stroke-linecap="round" fill="none"/>
<path d="M457.0 271.7h0" stroke="#1c2fb8" stroke-width="2.4" stroke-linecap="round" fill="none"/>
<path d="M460.6 267.8h0" stroke="#ff1010" stroke-width="2.4" stroke-linecap="round" fill="none"/>
<path d="M461.0 269.3h0M481.0 251.7h0" stroke="#1c2fb8" stroke-width="2.4" stroke-linecap="round" fill="none"/>
<path d="M460.4 267.8h2.4v2.4h-2.4z" fill="#c050c0"/>
<path d="M451.3 276.8l1.6 2.7h-3.1z" fill="#138a2a"/>
<path d="M448.4 253.4h2.4v2.4h-2.4z" fill="#c050c0"/>
<path d="M466.6 266.1h0" stroke="#ff1010" stroke-width="2.4" stroke-linecap="round" fill="none"/>
<path d="M491.0 228.7h0M485.0 244.0h0" stroke="#1c2fb8" stroke-width="2.4" stroke-linecap="round" fill="none"/>
<path d="M442.4 275.4h2.4v2.4h-2.4z" fill="#c050c0"/>
<path d="M447.3 250.5l1.6 2.7h-3.1z" fill="#138a2a"/>
<path d="M475.0 237.5h0" stroke="#1c2fb8" stroke-width="2.4" stroke-linecap="round" fill="none"/>
<path d="M449.9 254.8h0" stroke="#ffa31a" stroke-width="2.4" stroke-linecap="round" fill="none"/>
<path d="M484.4 242.7h2.4v2.4h-2.4z" fill="#c050c0"/>
<path d="M489.9 225.4h0M471.9 239.1h0" stroke="#ffa31a" stroke-width="2.4" stroke-linecap="round" fill="none"/>
<path d="M466.4 240.8h2.4v2.4h-2.4zM468.4 261.0h2.4v2.4h-2.4zM446.4 275.3h2.4v2.4h-2.4z" fill="#c050c0"/>
<path d="M459.9 252.0h0M473.9 240.0h0" stroke="#ffa31a" stroke-width="2.4" stroke-linecap="round" fill="none"/>
<path d="M444.4 270.7h2.4v2.4h-2.4z" fill="#c050c0"/>
<path d="M463.0 246.4h0" stroke="#1c2fb8" stroke-width="2.4" stroke-linecap="round" fill="none"/>
<path d="M470.4 256.3h2.4v2.4h-2.4zM464.4 264.3h2.4v2.4h-2.4zM476.4 251.6h2.4v2.4h-2.4zM486.4 239.8h2.4v2.4h-2.4zM460.4 247.8h2.4v2.4h-2.4z" fill="#c050c0"/>
<path d="M479.0 251.6h0M447.0 270.7h0" stroke="#1c2fb8" stroke-width="2.4" stroke-linecap="round" fill="none"/>
<path d="M450.4 250.6h2.4v2.4h-2.4z" fill="#c050c0"/>
<path d="M459.3 249.7l1.6 2.7h-3.1z" fill="#138a2a"/>
<path d="M479.9 250.7h0M443.9 278.0h0" stroke="#ffa31a" stroke-width="2.4" stroke-linecap="round" fill="none"/>
<path d="M477.0 232.7h0M469.0 268.5h0" stroke="#1c2fb8" stroke-width="2.4" stroke-linecap="round" fill="none"/>
<path d="M468.4 242.5h2.4v2.4h-2.4z" fill="#c050c0"/>
<path d="M453.9 276.5h0M481.9 228.4h0" stroke="#ffa31a" stroke-width="2.4" stroke-linecap="round" fill="none"/>
<path d="M488.4 223.5h2.4v2.4h-2.4z" fill="#c050c0"/>
<path d="M463.0 268.3h0" stroke="#1c2fb8" stroke-width="2.4" stroke-linecap="round" fill="none"/>
<path d="M457.9 267.6h0" stroke="#ffa31a" stroke-width="2.4" stroke-linecap="round" fill="none"/>
<path d="M443.0 257.5h0M487.0 240.8h0" stroke="#1c2fb8" stroke-width="2.4" stroke-linecap="round" fill="none"/>
<path d="M483.9 232.5h0" stroke="#ffa31a" stroke-width="2.4" stroke-linecap="round" fill="none"/>
<path d="M477.3 229.0l1.6 2.7h-3.1zM461.3 268.1l1.6 2.7h-3.1z" fill="#138a2a"/>
<path d="M489.0 223.3h0" stroke="#1c2fb8" stroke-width="2.4" stroke-linecap="round" fill="none"/>
<path d="M447.9 280.0h0" stroke="#ffa31a" stroke-width="2.4" stroke-linecap="round" fill="none"/>
<path d="M470.4 240.9h2.4v2.4h-2.4z" fill="#c050c0"/>
<path d="M449.9 278.7h0" stroke="#ffa31a" stroke-width="2.4" stroke-linecap="round" fill="none"/>
<path d="M464.4 242.5h2.4v2.4h-2.4z" fill="#c050c0"/>
<path d="M479.3 230.0l1.6 2.7h-3.1z" fill="#138a2a"/>
<path d="M455.9 274.0h0" stroke="#ffa31a" stroke-width="2.4" stroke-linecap="round" fill="none"/>
<path d="M467.3 240.4l1.6 2.7h-3.1zM459.3 270.3l1.6 2.7h-3.1zM475.3 237.9l1.6 2.7h-3.1zM487.3 220.0l1.6 2.7h-3.1z" fill="#138a2a"/>
<path d="M462.4 265.4h2.4v2.4h-2.4z" fill="#c050c0"/>
<path d="M469.9 266.9h0" stroke="#ffa31a" stroke-width="2.4" stroke-linecap="round" fill="none"/>
<path d="M487.3 238.9l1.6 2.7h-3.1zM479.3 254.1l1.6 2.7h-3.1zM491.3 248.0l1.6 2.7h-3.1z" fill="#138a2a"/>
<path d="M488.4 242.6h2.4v2.4h-2.4z" fill="#c050c0"/>
<path d="M455.3 272.8l1.6 2.7h-3.1z" fill="#138a2a"/>
<path d="M482.4 249.3h2.4v2.4h-2.4z" fill="#c050c0"/>
<path d="M445.9 279.6h0" stroke="#ffa31a" stroke-width="2.4" stroke-linecap="round" fill="none"/>
<path d="M476.4 236.1h2.4v2.4h-2.4z" fill="#c050c0"/>
<path d="M465.9 248.4h0" stroke="#ffa31a" stroke-width="2.4" stroke-linecap="round" fill="none"/>
<path d="M472.4 259.8h2.4v2.4h-2.4z" fill="#c050c0"/>
<path d="M489.3 222.5l1.6 2.7h-3.1z" fill="#138a2a"/>
<path d="M480.4 231.3h2.4v2.4h-2.4zM456.4 273.8h2.4v2.4h-2.4z" fill="#c050c0"/>
<path d="M449.3 275.5l1.6 2.7h-3.1z" fill="#138a2a"/>
<path d="M487.9 241.3h0M451.9 275.9h0M461.9 268.2h0" stroke="#ffa31a" stroke-width="2.4" stroke-linecap="round" fill="none"/>
<path d="M478.4 226.3h2.4v2.4h-2.4zM474.4 237.7h2.4v2.4h-2.4zM490.4 248.8h2.4v2.4h-2.4z" fill="#c050c0"/>
<path d="M489.9 244.0h0" stroke="#ffa31a" stroke-width="2.4" stroke-linecap="round" fill="none"/>
<path d="M462.4 247.3h2.4v2.4h-2.4z" fill="#c050c0"/>
<path d="M473.9 258.3h0M477.9 232.5h0M463.9 243.5h0M463.9 264.3h0M491.9 251.1h0M459.9 268.3h0M465.9 266.0h0M471.9 259.7h0M479.9 231.3h0" stroke="#ffa31a" stroke-width="2.4" stroke-linecap="round" fill="none"/>
<path d="M492.3 233.6h0M494.3 236.9h0M496.3 237.9h0M498.3 241.2h0M500.3 242.8h0M502.3 243.4h0M504.3 245.4h0M506.3 245.8h0M508.3 246.0h0M510.3 247.4h0M512.3 247.1h0M514.3 248.7h0M516.3 248.7h0M518.3 250.2h0M520.3 249.6h0M522.3 249.6h0M524.3 250.0h0M526.3 250.6h0M528.3 248.6h0M530.3 250.3h0M532.3 249.3h0M534.3 249.7h0" stroke="#000000" stroke-width="2.4" stroke-linecap="round" fill="none"/>
<path d="M492.6 233.3h0M494.6 236.4h0M496.6 238.4h0M498.6 240.7h0M500.6 242.4h0M502.6 243.8h0M504.6 244.9h0M506.6 247.1h0M508.6 248.7h0M510.6 249.4h0M512.6 250.9h0M514.6 251.5h0M516.6 251.9h0M518.6 252.1h0M520.6 253.0h0M522.6 251.9h0M524.6 252.5h0M526.6 252.7h0M528.6 252.1h0M530.6 252.7h0M532.6 252.5h0M534.6 252.2h0" stroke="#ff1010" stroke-width="2.4" stroke-linecap="round" fill="none"/>
<path d="M493.0 234.6h0M495.0 237.3h0M497.0 238.4h0M499.0 240.3h0M501.0 242.9h0M503.0 244.7h0M505.0 247.3h0M507.0 248.6h0M509.0 249.3h0M511.0 251.5h0M513.0 252.6h0M515.0 252.3h0M517.0 253.0h0M519.0 252.9h0M521.0 253.7h0M523.0 253.7h0M525.0 253.3h0M527.0 254.0h0M529.0 253.6h0M531.0 254.1h0M533.0 253.4h0M535.0 252.0h0" stroke="#1c2fb8" stroke-width="2.4" stroke-linecap="round" fill="none"/>
<path d="M493.3 232.4l1.6 2.7h-3.1zM495.3 235.7l1.6 2.7h-3.1zM497.3 238.0l1.6 2.7h-3.1zM499.3 239.5l1.6 2.7h-3.1zM501.3 240.8l1.6 2.7h-3.1zM503.3 243.2l1.6 2.7h-3.1zM505.3 245.6l1.6 2.7h-3.1zM507.3 247.6l1.6 2.7h-3.1zM509.3 249.0l1.6 2.7h-3.1zM511.3 250.9l1.6 2.7h-3.1zM513.3 252.0l1.6 2.7h-3.1zM515.3 252.9l1.6 2.7h-3.1zM517.3 253.3l1.6 2.7h-3.1zM519.3 254.4l1.6 2.7h-3.1zM521.3 254.1l1.6 2.7h-3.1zM523.3 253.6l1.6 2.7h-3.1zM525.3 253.6l1.6 2.7h-3.1zM527.3 252.6l1.6 2.7h-3.1zM529.3 253.6l1.6 2.7h-3.1zM531.3 252.5l1.6 2.7h-3.1zM533.3 253.2l1.6 2.7h-3.1zM535.3 253.0l1.6 2.7h-3.1z" fill="#138a2a"/>
<path d="M492.4 234.1h2.4v2.4h-2.4zM494.4 237.1h2.4v2.4h-2.4zM496.4 237.3h2.4v2.4h-2.4zM498.4 239.2h2.4v2.4h-2.4zM500.4 241.5h2.4v2.4h-2.4zM502.4 244.1h2.4v2.4h-2.4zM504.4 246.3h2.4v2.4h-2.4zM506.4 249.9h2.4v2.4h-2.4zM508.4 251.2h2.4v2.4h-2.4zM510.4 252.6h2.4v2.4h-2.4zM512.4 253.2h2.4v2.4h-2.4zM514.4 253.9h2.4v2.4h-2.4zM516.4 254.2h2.4v2.4h-2.4zM518.4 254.5h2.4v2.4h-2.4zM520.4 255.8h2.4v2.4h-2.4zM522.4 254.6h2.4v2.4h-2.4zM524.4 254.8h2.4v2.4h-2.4zM526.4 254.7h2.4v2.4h-2.4zM528.4 255.4h2.4v2.4h-2.4zM530.4 254.8h2.4v2.4h-2.4zM532.4 254.6h2.4v2.4h-2.4z" fill="#c050c0"/>
<path d="M493.9 235.5h0M495.9 238.2h0M497.9 239.3h0M499.9 241.6h0M501.9 243.4h0M503.9 245.7h0M505.9 249.1h0M507.9 251.6h0M509.9 253.8h0M511.9 255.6h0M514.0 256.2h0M516.0 257.7h0M518.0 257.7h0M520.0 258.1h0M522.0 258.2h0M524.0 257.7h0M526.0 257.8h0M528.0 258.2h0M530.0 257.6h0M532.0 257.2h0M534.0 257.1h0" stroke="#ffa31a" stroke-width="2.4" stroke-linecap="round" fill="none"/>
<path d="M492.3 252.5h0M494.3 255.8h0M496.3 258.1h0M498.3 260.7h0M500.3 261.8h0M502.3 263.2h0M504.3 265.3h0M506.3 265.8h0M508.3 267.2h0M510.3 268.5h0M512.3 269.2h0M514.3 270.2h0M516.3 271.7h0M518.3 272.5h0M520.3 272.5h0M522.3 273.0h0M524.3 274.3h0M526.3 273.3h0M528.3 272.7h0M530.3 272.9h0M532.3 272.7h0M534.3 273.5h0" stroke="#000000" stroke-width="2.4" stroke-linecap="round" fill="none"/>
<path d="M492.6 254.0h0M494.6 256.1h0M496.6 258.8h0M498.6 258.9h0M500.6 261.5h0M502.6 264.0h0M504.6 265.5h0M506.6 268.6h0M508.6 271.4h0M510.6 273.2h0M512.6 273.4h0M514.6 275.0h0M516.6 275.8h0M518.6 277.3h0M520.6 277.4h0M522.6 277.2h0M524.6 277.7h0M526.6 277.8h0M528.6 276.3h0M530.6 277.3h0M532.6 277.5h0M534.6 277.4h0" stroke="#ff1010" stroke-width="2.4" stroke-linecap="round" fill="none"/>
<path d="M493.0 253.6h0M495.0 256.5h0M497.0 258.3h0M499.0 260.2h0M501.0 262.8h0M503.0 264.3h0M505.0 264.6h0M507.0 266.5h0M509.0 267.1h0M511.0 269.2h0M513.0 268.4h0M515.0 269.5h0M517.0 270.6h0M519.0 271.1h0M521.0 271.2h0M523.0 272.5h0M525.0 271.8h0M527.0 271.5h0M529.0 270.7h0M531.0 271.6h0M533.0 270.2h0M535.0 268.5h0" stroke="#1c2fb8" stroke-width="2.4" stroke-linecap="round" fill="none"/>
<path d="M493.3 253.8l1.6 2.7h-3.1zM495.3 255.0l1.6 2.7h-3.1zM497.3 257.6l1.6 2.7h-3.1zM499.3 259.5l1.6 2.7h-3.1zM501.3 260.8l1.6 2.7h-3.1zM503.3 263.7l1.6 2.7h-3.1zM505.3 267.6l1.6 2.7h-3.1zM507.3 271.3l1.6 2.7h-3.1zM509.3 273.1l1.6 2.7h-3.1zM511.3 275.2l1.6 2.7h-3.1zM513.3 276.7l1.6 2.7h-3.1zM515.3 278.7l1.6 2.7h-3.1zM517.3 279.5l1.6 2.7h-3.1zM519.3 279.9l1.6 2.7h-3.1zM521.3 281.5l1.6 2.7h-3.1zM523.3 280.5l1.6 2.7h-3.1zM525.3 280.3l1.6 2.7h-3.1zM527.3 280.5l1.6 2.7h-3.1zM529.3 280.4l1.6 2.7h-3.1zM531.3 280.3l1.6 2.7h-3.1zM533.3 280.6l1.6 2.7h-3.1zM535.3 281.2l1.6 2.7h-3.1z" fill="#138a2a"/>
<path d="M492.4 252.9h2.4v2.4h-2.4zM494.4 256.2h2.4v2.4h-2.4zM496.4 257.7h2.4v2.4h-2.4zM498.4 259.2h2.4v2.4h-2.4zM500.4 262.1h2.4v2.4h-2.4zM502.4 265.3h2.4v2.4h-2.4zM504.4 269.0h2.4v2.4h-2.4zM506.4 272.6h2.4v2.4h-2.4zM508.4 275.4h2.4v2.4h-2.4zM510.4 278.2h2.4v2.4h-2.4zM512.4 280.1h2.4v2.4h-2.4zM514.4 281.8h2.4v2.4h-2.4zM516.4 281.5h2.4v2.4h-2.4zM518.4 283.9h2.4v2.4h-2.4zM520.4 283.7h2.4v2.4h-2.4zM522.4 284.1h2.4v2.4h-2.4zM524.4 283.6h2.4v2.4h-2.4zM526.4 284.6h2.4v2.4h-2.4zM528.4 284.6h2.4v2.4h-2.4zM530.4 283.6h2.4v2.4h-2.4zM532.4 283.4h2.4v2.4h-2.4z" fill="#c050c0"/>
<path d="M493.9 254.9h0M495.9 256.3h0M497.9 259.8h0M499.9 260.9h0M501.9 263.8h0M503.9 266.9h0M505.9 271.3h0M507.9 275.5h0M509.9 277.9h0M511.9 281.1h0M514.0 284.1h0M516.0 284.3h0M518.0 286.4h0M520.0 287.4h0M522.0 287.3h0M524.0 287.5h0M526.0 288.0h0M528.0 287.7h0M530.0 286.9h0M532.0 286.8h0M534.0 286.7h0" stroke="#ffa31a" stroke-width="2.4" stroke-linecap="round" fill="none"/>
<text x="456.05" y="229.24" font-family="&quot;Liberation Serif&quot;, serif" font-size="8.18" font-weight="bold" font-style="italic" fill="#000" textLength="20.95" lengthAdjust="spacingAndGlyphs" stroke="#000" stroke-width="0.37">q=10</text>
<text x="460.34" y="283.97" font-family="&quot;Liberation Serif&quot;, serif" font-size="7.59" font-weight="bold" font-style="italic" fill="#000" textLength="16.93" lengthAdjust="spacingAndGlyphs" stroke="#000" stroke-width="0.34">q=5</text>
<text x="430.86" y="278.44" font-family="&quot;Liberation Sans&quot;, sans-serif" font-size="6.06" font-weight="normal" font-style="normal" fill="#000" textLength="7.94" lengthAdjust="spacingAndGlyphs" stroke="#000" stroke-width="0.18">10</text>
<text x="438.62" y="275.75" font-family="&quot;Liberation Sans&quot;, sans-serif" font-size="4.51" font-weight="normal" font-style="normal" fill="#000" stroke="#000" stroke-width="0.14">0</text>
<text transform="translate(423.62,285.31) rotate(-90)" font-family="&quot;Liberation Sans&quot;, sans-serif" font-size="9.41" font-weight="bold" font-style="normal" fill="#000" textLength="48.22" lengthAdjust="spacingAndGlyphs" stroke="#000" stroke-width="0.42">rms(Ln(PR</text>
<text transform="translate(427.30,236.74) rotate(-90)" font-family="&quot;Liberation Sans&quot;, sans-serif" font-size="5.73" font-weight="bold" font-style="normal" fill="#000" textLength="5.20" lengthAdjust="spacingAndGlyphs" stroke="#000" stroke-width="0.45">q</text>
<text transform="translate(423.57,231.75) rotate(-90)" font-family="&quot;Liberation Sans&quot;, sans-serif" font-size="10.16" font-weight="bold" font-style="normal" fill="#000" textLength="6.72" lengthAdjust="spacingAndGlyphs" stroke="#000" stroke-width="0.45">))</text>
<text x="475.88" y="305.78" font-family="&quot;Liberation Serif&quot;, serif" font-size="9.89" font-weight="normal" font-style="normal" fill="#000" textLength="6.16" lengthAdjust="spacingAndGlyphs" stroke="#000" stroke-width="0.30">Γ</text>
<text x="481.51" y="309.74" font-family="&quot;Liberation Sans&quot;, sans-serif" font-size="6.46" font-weight="bold" font-style="normal" fill="#000" stroke="#000" stroke-width="0.29">k</text>
<text x="487.45" y="305.77" font-family="&quot;Liberation Sans&quot;, sans-serif" font-size="9.30" font-weight="bold" font-style="normal" fill="#000" stroke="#000" stroke-width="0.42">/</text>
<text x="493.26" y="305.78" font-family="&quot;Liberation Serif&quot;, serif" font-size="9.89" font-weight="normal" font-style="normal" fill="#000" textLength="6.06" lengthAdjust="spacingAndGlyphs" stroke="#000" stroke-width="0.30">Γ</text>
<text x="498.99" y="309.95" font-family="&quot;Liberation Sans&quot;, sans-serif" font-size="6.21" font-weight="bold" font-style="normal" fill="#000" stroke="#000" stroke-width="0.28">0</text>
</svg></body></html>
